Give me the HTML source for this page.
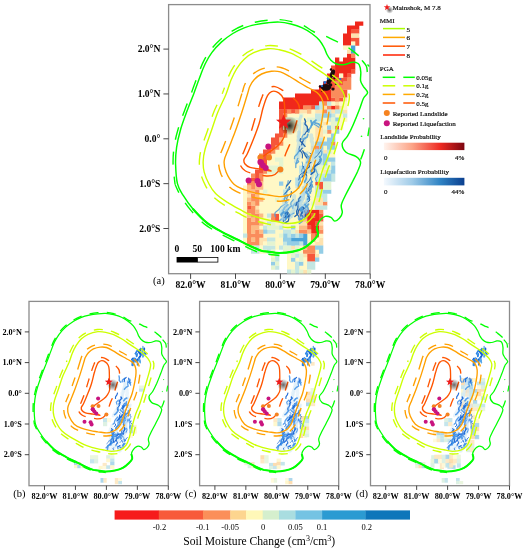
<!DOCTYPE html>
<html><head><meta charset="utf-8"><title>Figure</title>
<style>
html,body{margin:0;padding:0;background:#fff;}
svg{display:block;font-family:"Liberation Serif","DejaVu Serif",serif;}
</style></head><body>
<svg width="525" height="550" viewBox="0 0 525 550">
<rect width="525" height="550" fill="#fff"/>
<rect x="168.6" y="4.6" width="201.40" height="269.10" fill="none" stroke="#8c8c8c" stroke-width="1.3"/>
<line x1="163.40" y1="49.10" x2="168.6" y2="49.10" stroke="#333" stroke-width="0.9"/>
<text x="160.40" y="52.27" font-size="9.6" font-weight="bold" text-anchor="end">2.0°N</text>
<line x1="163.40" y1="93.95" x2="168.6" y2="93.95" stroke="#333" stroke-width="0.9"/>
<text x="160.40" y="97.12" font-size="9.6" font-weight="bold" text-anchor="end">1.0°N</text>
<line x1="163.40" y1="138.80" x2="168.6" y2="138.80" stroke="#333" stroke-width="0.9"/>
<text x="160.40" y="141.97" font-size="9.6" font-weight="bold" text-anchor="end">0.0°</text>
<line x1="163.40" y1="183.65" x2="168.6" y2="183.65" stroke="#333" stroke-width="0.9"/>
<text x="160.40" y="186.82" font-size="9.6" font-weight="bold" text-anchor="end">1.0°S</text>
<line x1="163.40" y1="228.50" x2="168.6" y2="228.50" stroke="#333" stroke-width="0.9"/>
<text x="160.40" y="231.67" font-size="9.6" font-weight="bold" text-anchor="end">2.0°S</text>
<line x1="190.60" y1="273.7" x2="190.60" y2="278.90" stroke="#333" stroke-width="0.9"/>
<text x="190.60" y="287.90" font-size="9.6" font-weight="bold" text-anchor="middle">82.0°W</text>
<line x1="235.50" y1="273.7" x2="235.50" y2="278.90" stroke="#333" stroke-width="0.9"/>
<text x="235.50" y="287.90" font-size="9.6" font-weight="bold" text-anchor="middle">81.0°W</text>
<line x1="280.40" y1="273.7" x2="280.40" y2="278.90" stroke="#333" stroke-width="0.9"/>
<text x="280.40" y="287.90" font-size="9.6" font-weight="bold" text-anchor="middle">80.0°W</text>
<line x1="325.30" y1="273.7" x2="325.30" y2="278.90" stroke="#333" stroke-width="0.9"/>
<text x="325.30" y="287.90" font-size="9.6" font-weight="bold" text-anchor="middle">79.0°W</text>
<line x1="370.20" y1="273.7" x2="370.20" y2="278.90" stroke="#333" stroke-width="0.9"/>
<text x="370.20" y="287.90" font-size="9.6" font-weight="bold" text-anchor="middle">78.0°W</text>
<rect x="29.0" y="301.4" width="139.30" height="184.30" fill="none" stroke="#8c8c8c" stroke-width="1.3"/>
<line x1="24.80" y1="331.90" x2="29.0" y2="331.90" stroke="#333" stroke-width="0.9"/>
<text x="21.80" y="334.61" font-size="8.2" font-weight="bold" text-anchor="end">2.0°N</text>
<line x1="24.80" y1="362.60" x2="29.0" y2="362.60" stroke="#333" stroke-width="0.9"/>
<text x="21.80" y="365.31" font-size="8.2" font-weight="bold" text-anchor="end">1.0°N</text>
<line x1="24.80" y1="393.30" x2="29.0" y2="393.30" stroke="#333" stroke-width="0.9"/>
<text x="21.80" y="396.01" font-size="8.2" font-weight="bold" text-anchor="end">0.0°</text>
<line x1="24.80" y1="424.00" x2="29.0" y2="424.00" stroke="#333" stroke-width="0.9"/>
<text x="21.80" y="426.71" font-size="8.2" font-weight="bold" text-anchor="end">1.0°S</text>
<line x1="24.80" y1="454.70" x2="29.0" y2="454.70" stroke="#333" stroke-width="0.9"/>
<text x="21.80" y="457.41" font-size="8.2" font-weight="bold" text-anchor="end">2.0°S</text>
<line x1="44.50" y1="485.7" x2="44.50" y2="489.90" stroke="#333" stroke-width="0.9"/>
<text x="44.50" y="498.70" font-size="8.2" font-weight="bold" text-anchor="middle">82.0°W</text>
<line x1="75.45" y1="485.7" x2="75.45" y2="489.90" stroke="#333" stroke-width="0.9"/>
<text x="75.45" y="498.70" font-size="8.2" font-weight="bold" text-anchor="middle">81.0°W</text>
<line x1="106.40" y1="485.7" x2="106.40" y2="489.90" stroke="#333" stroke-width="0.9"/>
<text x="106.40" y="498.70" font-size="8.2" font-weight="bold" text-anchor="middle">80.0°W</text>
<line x1="137.35" y1="485.7" x2="137.35" y2="489.90" stroke="#333" stroke-width="0.9"/>
<text x="137.35" y="498.70" font-size="8.2" font-weight="bold" text-anchor="middle">79.0°W</text>
<line x1="168.30" y1="485.7" x2="168.30" y2="489.90" stroke="#333" stroke-width="0.9"/>
<text x="168.30" y="498.70" font-size="8.2" font-weight="bold" text-anchor="middle">78.0°W</text>
<rect x="199.6" y="301.4" width="139.10" height="184.30" fill="none" stroke="#8c8c8c" stroke-width="1.3"/>
<line x1="195.40" y1="331.90" x2="199.6" y2="331.90" stroke="#333" stroke-width="0.9"/>
<text x="192.40" y="334.61" font-size="8.2" font-weight="bold" text-anchor="end">2.0°N</text>
<line x1="195.40" y1="362.60" x2="199.6" y2="362.60" stroke="#333" stroke-width="0.9"/>
<text x="192.40" y="365.31" font-size="8.2" font-weight="bold" text-anchor="end">1.0°N</text>
<line x1="195.40" y1="393.30" x2="199.6" y2="393.30" stroke="#333" stroke-width="0.9"/>
<text x="192.40" y="396.01" font-size="8.2" font-weight="bold" text-anchor="end">0.0°</text>
<line x1="195.40" y1="424.00" x2="199.6" y2="424.00" stroke="#333" stroke-width="0.9"/>
<text x="192.40" y="426.71" font-size="8.2" font-weight="bold" text-anchor="end">1.0°S</text>
<line x1="195.40" y1="454.70" x2="199.6" y2="454.70" stroke="#333" stroke-width="0.9"/>
<text x="192.40" y="457.41" font-size="8.2" font-weight="bold" text-anchor="end">2.0°S</text>
<line x1="214.90" y1="485.7" x2="214.90" y2="489.90" stroke="#333" stroke-width="0.9"/>
<text x="214.90" y="498.70" font-size="8.2" font-weight="bold" text-anchor="middle">82.0°W</text>
<line x1="245.85" y1="485.7" x2="245.85" y2="489.90" stroke="#333" stroke-width="0.9"/>
<text x="245.85" y="498.70" font-size="8.2" font-weight="bold" text-anchor="middle">81.0°W</text>
<line x1="276.80" y1="485.7" x2="276.80" y2="489.90" stroke="#333" stroke-width="0.9"/>
<text x="276.80" y="498.70" font-size="8.2" font-weight="bold" text-anchor="middle">80.0°W</text>
<line x1="307.75" y1="485.7" x2="307.75" y2="489.90" stroke="#333" stroke-width="0.9"/>
<text x="307.75" y="498.70" font-size="8.2" font-weight="bold" text-anchor="middle">79.0°W</text>
<line x1="338.70" y1="485.7" x2="338.70" y2="489.90" stroke="#333" stroke-width="0.9"/>
<text x="338.70" y="498.70" font-size="8.2" font-weight="bold" text-anchor="middle">78.0°W</text>
<rect x="370.5" y="301.4" width="139.00" height="184.30" fill="none" stroke="#8c8c8c" stroke-width="1.3"/>
<line x1="366.30" y1="331.90" x2="370.5" y2="331.90" stroke="#333" stroke-width="0.9"/>
<text x="363.30" y="334.61" font-size="8.2" font-weight="bold" text-anchor="end">2.0°N</text>
<line x1="366.30" y1="362.60" x2="370.5" y2="362.60" stroke="#333" stroke-width="0.9"/>
<text x="363.30" y="365.31" font-size="8.2" font-weight="bold" text-anchor="end">1.0°N</text>
<line x1="366.30" y1="393.30" x2="370.5" y2="393.30" stroke="#333" stroke-width="0.9"/>
<text x="363.30" y="396.01" font-size="8.2" font-weight="bold" text-anchor="end">0.0°</text>
<line x1="366.30" y1="424.00" x2="370.5" y2="424.00" stroke="#333" stroke-width="0.9"/>
<text x="363.30" y="426.71" font-size="8.2" font-weight="bold" text-anchor="end">1.0°S</text>
<line x1="366.30" y1="454.70" x2="370.5" y2="454.70" stroke="#333" stroke-width="0.9"/>
<text x="363.30" y="457.41" font-size="8.2" font-weight="bold" text-anchor="end">2.0°S</text>
<line x1="385.70" y1="485.7" x2="385.70" y2="489.90" stroke="#333" stroke-width="0.9"/>
<text x="385.70" y="498.70" font-size="8.2" font-weight="bold" text-anchor="middle">82.0°W</text>
<line x1="416.65" y1="485.7" x2="416.65" y2="489.90" stroke="#333" stroke-width="0.9"/>
<text x="416.65" y="498.70" font-size="8.2" font-weight="bold" text-anchor="middle">81.0°W</text>
<line x1="447.60" y1="485.7" x2="447.60" y2="489.90" stroke="#333" stroke-width="0.9"/>
<text x="447.60" y="498.70" font-size="8.2" font-weight="bold" text-anchor="middle">80.0°W</text>
<line x1="478.55" y1="485.7" x2="478.55" y2="489.90" stroke="#333" stroke-width="0.9"/>
<text x="478.55" y="498.70" font-size="8.2" font-weight="bold" text-anchor="middle">79.0°W</text>
<line x1="509.50" y1="485.7" x2="509.50" y2="489.90" stroke="#333" stroke-width="0.9"/>
<text x="509.50" y="498.70" font-size="8.2" font-weight="bold" text-anchor="middle">78.0°W</text>
<text x="153" y="284" font-size="10.5">(a)</text>
<text x="13.2" y="497.2" font-size="10.5">(b)</text>
<text x="184.9" y="497.2" font-size="10.5">(c)</text>
<text x="355.8" y="497.2" font-size="10.5">(d)</text>
<rect x="114.6" y="510.4" width="44.50" height="9.2" fill="#f61b1b"/>
<rect x="158.8" y="510.4" width="44.50" height="9.2" fill="#f85a3a"/>
<rect x="203.0" y="510.4" width="27.60" height="9.2" fill="#fb8f59"/>
<rect x="230.3" y="510.4" width="16.00" height="9.2" fill="#fdd58f"/>
<rect x="246.0" y="510.4" width="17.00" height="9.2" fill="#fff8b8"/>
<rect x="262.7" y="510.4" width="16.60" height="9.2" fill="#d5efcd"/>
<rect x="279.0" y="510.4" width="16.70" height="9.2" fill="#a9dde0"/>
<rect x="295.4" y="510.4" width="27.00" height="9.2" fill="#74c3e3"/>
<rect x="322.1" y="510.4" width="43.70" height="9.2" fill="#2b9bd2"/>
<rect x="365.5" y="510.4" width="44.50" height="9.2" fill="#0d76ba"/>
<text x="159.5" y="529.5" font-size="8.5" text-anchor="middle">-0.2</text>
<text x="202.7" y="529.5" font-size="8.5" text-anchor="middle">-0.1</text>
<text x="230.2" y="529.5" font-size="8.5" text-anchor="middle">-0.05</text>
<text x="263" y="529.5" font-size="8.5" text-anchor="middle">0</text>
<text x="295.4" y="529.5" font-size="8.5" text-anchor="middle">0.05</text>
<text x="322" y="529.5" font-size="8.5" text-anchor="middle">0.1</text>
<text x="366.7" y="529.5" font-size="8.5" text-anchor="middle">0.2</text>
<text x="183.2" y="545" font-size="11.6">Soil Moisture Change (cm<tspan dy="-4" font-size="8">3</tspan><tspan dy="4">/cm</tspan><tspan dy="-4" font-size="8">3</tspan><tspan dy="4">)</tspan></text>
<defs><radialGradient id="shd"><stop offset="0" stop-color="#000" stop-opacity="0.85"/><stop offset="1" stop-color="#000" stop-opacity="0"/></radialGradient><radialGradient id="shd2"><stop offset="0" stop-color="#000" stop-opacity="0.6"/><stop offset="1" stop-color="#000" stop-opacity="0"/></radialGradient><linearGradient id="lsg"><stop offset="0" stop-color="#fff4ee"/><stop offset="0.35" stop-color="#fca487"/><stop offset="0.7" stop-color="#ee2a22"/><stop offset="1" stop-color="#7c0610"/></linearGradient><linearGradient id="lqg"><stop offset="0" stop-color="#f4f9fe"/><stop offset="0.35" stop-color="#9fcbe8"/><stop offset="0.7" stop-color="#2f83c4"/><stop offset="1" stop-color="#0b3f8f"/></linearGradient></defs>
<circle cx="389.6" cy="9.9" r="3.8" fill="url(#shd2)"/>
<polygon points="387.00,4.00 387.84,6.24 390.23,6.35 388.36,7.84 389.00,10.15 387.00,8.83 385.00,10.15 385.64,7.84 383.77,6.35 386.16,6.24" fill="#ee1c1c"/>
<g stroke="#000" stroke-width="0.18" fill="#111">
<text x="392.5" y="9.7" font-size="7">Mainshok, M 7.8</text>
<text x="379.8" y="22.6" font-size="7">MMI</text>
<line x1="383" y1="28.6" x2="405" y2="28.6" stroke="#aaff00" stroke-width="1.5"/>
<text x="406.4" y="31.5" font-size="7">5</text>
<line x1="383" y1="37.4" x2="405" y2="37.4" stroke="#ffaa00" stroke-width="1.5"/>
<text x="406.4" y="40.3" font-size="7">6</text>
<line x1="383" y1="46.2" x2="405" y2="46.2" stroke="#ff5500" stroke-width="1.5"/>
<text x="406.4" y="49.1" font-size="7">7</text>
<line x1="383" y1="55.0" x2="405" y2="55.0" stroke="#ff2000" stroke-width="1.5"/>
<text x="406.4" y="57.9" font-size="7">8</text>
<text x="379.8" y="70.6" font-size="7">PGA</text>
<line x1="382.7" y1="77.3" x2="395.2" y2="77.3" stroke="#00ff00" stroke-width="1.5"/>
<line x1="403.3" y1="77.3" x2="414.8" y2="77.3" stroke="#00ff00" stroke-width="1.5"/>
<text x="416.3" y="79.9" font-size="7">0.05g</text>
<line x1="382.7" y1="85.8" x2="395.2" y2="85.8" stroke="#ccff00" stroke-width="1.5"/>
<line x1="403.3" y1="85.8" x2="414.8" y2="85.8" stroke="#ccff00" stroke-width="1.5"/>
<text x="416.3" y="88.4" font-size="7">0.1g</text>
<line x1="382.7" y1="94.4" x2="395.2" y2="94.4" stroke="#ffaa00" stroke-width="1.5"/>
<line x1="403.3" y1="94.4" x2="414.8" y2="94.4" stroke="#ffaa00" stroke-width="1.5"/>
<text x="416.3" y="97.0" font-size="7">0.2g</text>
<line x1="382.7" y1="103.0" x2="395.2" y2="103.0" stroke="#ff5500" stroke-width="1.5"/>
<line x1="403.3" y1="103.0" x2="414.8" y2="103.0" stroke="#ff5500" stroke-width="1.5"/>
<text x="416.3" y="105.5" font-size="7">0.5g</text>
<circle cx="386.8" cy="113" r="3" fill="#f5821f" stroke="none"/>
<text x="392.7" y="115.6" font-size="7">Reported Landslide</text>
<circle cx="386.8" cy="123.3" r="3" fill="#c9147f" stroke="none"/>
<text x="392.7" y="125.8" font-size="7">Reported Liquefaction</text>
<text x="380.3" y="138.6" font-size="7">Landslide Probability</text>
<rect x="383.9" y="142.7" width="80.5" height="7.4" fill="url(#lsg)" stroke="none"/>
<text x="384" y="159.6" font-size="7">0</text><text x="464.4" y="159.6" font-size="7" text-anchor="end">4%</text>
<text x="380.3" y="173.7" font-size="7">Liquefaction Probability</text>
<rect x="383.9" y="177.8" width="80.5" height="7.6" fill="url(#lqg)" stroke="none"/>
<text x="384" y="194.2" font-size="7">0</text><text x="464.4" y="194.2" font-size="7" text-anchor="end">44%</text>
</g>
<defs><clipPath id="cm"><rect x="169" y="4.6" width="200.6" height="268.8"/></clipPath>
<clipPath id="cs0"><rect x="29.4" y="301.8" width="138.5" height="183.5"/></clipPath>
<clipPath id="cs1"><rect x="200.0" y="301.8" width="138.3" height="183.5"/></clipPath>
<clipPath id="cs2"><rect x="370.9" y="301.8" width="138.2" height="183.5"/></clipPath>
</defs>
<g clip-path="url(#cm)">
<path fill="#f0281c" d="M355,21.5h8.3v4.3h-8.3zM347,25.5h12.3v4.3h-12.3zM347,29.5h4.3v4.3h-4.3zM343,33.5h8.3v4.3h-8.3zM343,37.5h8.3v4.3h-8.3zM343,41.5h8.3v4.3h-8.3zM347,53.5h4.3v4.3h-4.3zM335,57.5h4.3v4.3h-4.3zM343,57.5h12.3v4.3h-12.3zM335,61.5h20.3v4.3h-20.3zM335,65.5h20.3v4.3h-20.3zM335,69.5h16.3v4.3h-16.3zM327,73.5h4.3v4.3h-4.3zM335,73.5h4.3v4.3h-4.3zM343,73.5h4.3v4.3h-4.3zM331,77.5h4.3v4.3h-4.3zM323,81.5h4.3v4.3h-4.3zM319,85.5h8.3v4.3h-8.3zM311,89.5h20.3v4.3h-20.3zM295,93.5h36.3v4.3h-36.3zM283,97.5h48.3v4.3h-48.3zM279,101.5h40.3v4.3h-40.3zM279,105.5h24.3v4.3h-24.3zM331,105.5h4.3v4.3h-4.3zM307,209.5h12.3v4.3h-12.3zM307,213.5h4.3v4.3h-4.3zM315,213.5h4.3v4.3h-4.3zM307,217.5h12.3v4.3h-12.3zM307,221.5h8.3v4.3h-8.3zM311,225.5h8.3v4.3h-8.3zM311,229.5h8.3v4.3h-8.3z"/>
<path fill="#f6563a" d="M351,29.5h8.3v4.3h-8.3zM351,37.5h8.3v4.3h-8.3zM355,41.5h4.3v4.3h-4.3zM331,65.5h4.3v4.3h-4.3zM331,69.5h4.3v4.3h-4.3zM351,69.5h4.3v4.3h-4.3zM331,73.5h4.3v4.3h-4.3zM347,73.5h4.3v4.3h-4.3zM327,77.5h4.3v4.3h-4.3zM335,77.5h12.3v4.3h-12.3zM327,81.5h8.3v4.3h-8.3zM339,81.5h4.3v4.3h-4.3zM327,85.5h8.3v4.3h-8.3zM343,89.5h4.3v4.3h-4.3zM343,93.5h4.3v4.3h-4.3zM331,97.5h4.3v4.3h-4.3zM339,97.5h4.3v4.3h-4.3zM311,105.5h4.3v4.3h-4.3zM279,109.5h8.3v4.3h-8.3zM291,109.5h4.3v4.3h-4.3zM279,113.5h4.3v4.3h-4.3zM279,117.5h4.3v4.3h-4.3zM279,121.5h4.3v4.3h-4.3zM279,125.5h4.3v4.3h-4.3zM335,125.5h4.3v4.3h-4.3zM279,129.5h8.3v4.3h-8.3zM275,133.5h8.3v4.3h-8.3zM271,137.5h8.3v4.3h-8.3zM271,141.5h8.3v4.3h-8.3zM267,145.5h8.3v4.3h-8.3zM263,149.5h8.3v4.3h-8.3zM263,153.5h4.3v4.3h-4.3zM259,157.5h8.3v4.3h-8.3zM259,161.5h8.3v4.3h-8.3zM259,165.5h8.3v4.3h-8.3zM255,169.5h8.3v4.3h-8.3zM255,173.5h4.3v4.3h-4.3zM251,177.5h8.3v4.3h-8.3zM315,181.5h8.3v4.3h-8.3zM319,185.5h4.3v4.3h-4.3zM247,205.5h4.3v4.3h-4.3zM275,213.5h4.3v4.3h-4.3zM303,213.5h4.3v4.3h-4.3zM311,213.5h4.3v4.3h-4.3zM319,213.5h4.3v4.3h-4.3zM275,217.5h4.3v4.3h-4.3zM319,217.5h4.3v4.3h-4.3zM315,221.5h4.3v4.3h-4.3zM307,225.5h4.3v4.3h-4.3zM315,233.5h4.3v4.3h-4.3zM307,253.5h8.3v4.3h-8.3zM307,257.5h8.3v4.3h-8.3z"/>
<path fill="#fee2ae" d="M351,33.5h8.3v4.3h-8.3zM347,49.5h4.3v4.3h-4.3zM343,97.5h4.3v4.3h-4.3zM335,101.5h4.3v4.3h-4.3zM323,105.5h4.3v4.3h-4.3zM339,105.5h4.3v4.3h-4.3zM299,109.5h8.3v4.3h-8.3zM315,109.5h8.3v4.3h-8.3zM331,109.5h4.3v4.3h-4.3zM343,109.5h4.3v4.3h-4.3zM323,121.5h4.3v4.3h-4.3zM315,125.5h8.3v4.3h-8.3zM315,129.5h8.3v4.3h-8.3zM315,133.5h8.3v4.3h-8.3zM315,137.5h4.3v4.3h-4.3zM311,145.5h4.3v4.3h-4.3zM323,149.5h4.3v4.3h-4.3zM323,169.5h4.3v4.3h-4.3zM247,193.5h4.3v4.3h-4.3zM315,197.5h8.3v4.3h-8.3zM315,201.5h8.3v4.3h-8.3zM255,205.5h4.3v4.3h-4.3zM299,205.5h4.3v4.3h-4.3zM299,221.5h8.3v4.3h-8.3zM319,221.5h4.3v4.3h-4.3zM295,229.5h4.3v4.3h-4.3zM259,237.5h8.3v4.3h-8.3zM319,237.5h4.3v4.3h-4.3zM259,241.5h4.3v4.3h-4.3zM315,241.5h8.3v4.3h-8.3zM291,245.5h4.3v4.3h-4.3zM303,253.5h4.3v4.3h-4.3zM315,253.5h4.3v4.3h-4.3zM303,269.5h4.3v4.3h-4.3zM299,273.5h8.3v4.3h-8.3z"/>
<path fill="#fff8c6" d="M351,41.5h4.3v4.3h-4.3zM343,45.5h8.3v4.3h-8.3zM339,73.5h4.3v4.3h-4.3zM331,101.5h4.3v4.3h-4.3zM339,101.5h8.3v4.3h-8.3zM343,105.5h4.3v4.3h-4.3zM311,109.5h4.3v4.3h-4.3zM287,113.5h12.3v4.3h-12.3zM303,113.5h12.3v4.3h-12.3zM335,113.5h8.3v4.3h-8.3zM299,117.5h8.3v4.3h-8.3zM323,117.5h4.3v4.3h-4.3zM339,117.5h8.3v4.3h-8.3zM287,121.5h8.3v4.3h-8.3zM299,121.5h12.3v4.3h-12.3zM315,121.5h4.3v4.3h-4.3zM327,121.5h4.3v4.3h-4.3zM339,121.5h4.3v4.3h-4.3zM283,125.5h32.3v4.3h-32.3zM323,125.5h4.3v4.3h-4.3zM339,125.5h4.3v4.3h-4.3zM287,129.5h28.3v4.3h-28.3zM331,129.5h4.3v4.3h-4.3zM287,133.5h28.3v4.3h-28.3zM323,133.5h8.3v4.3h-8.3zM283,137.5h32.3v4.3h-32.3zM323,137.5h4.3v4.3h-4.3zM283,141.5h32.3v4.3h-32.3zM279,145.5h32.3v4.3h-32.3zM323,145.5h4.3v4.3h-4.3zM275,149.5h20.3v4.3h-20.3zM299,149.5h16.3v4.3h-16.3zM331,149.5h4.3v4.3h-4.3zM271,153.5h24.3v4.3h-24.3zM299,153.5h16.3v4.3h-16.3zM327,153.5h8.3v4.3h-8.3zM267,157.5h8.3v4.3h-8.3zM283,157.5h32.3v4.3h-32.3zM267,161.5h12.3v4.3h-12.3zM283,161.5h32.3v4.3h-32.3zM327,161.5h4.3v4.3h-4.3zM283,165.5h16.3v4.3h-16.3zM307,165.5h8.3v4.3h-8.3zM283,169.5h16.3v4.3h-16.3zM311,169.5h4.3v4.3h-4.3zM319,169.5h4.3v4.3h-4.3zM263,173.5h52.3v4.3h-52.3zM263,177.5h32.3v4.3h-32.3zM299,177.5h16.3v4.3h-16.3zM263,181.5h16.3v4.3h-16.3zM283,181.5h12.3v4.3h-12.3zM299,181.5h16.3v4.3h-16.3zM243,185.5h4.3v4.3h-4.3zM263,185.5h52.3v4.3h-52.3zM243,189.5h4.3v4.3h-4.3zM259,189.5h4.3v4.3h-4.3zM267,189.5h16.3v4.3h-16.3zM287,189.5h28.3v4.3h-28.3zM243,193.5h4.3v4.3h-4.3zM259,193.5h56.3v4.3h-56.3zM243,197.5h4.3v4.3h-4.3zM263,197.5h12.3v4.3h-12.3zM279,197.5h36.3v4.3h-36.3zM243,201.5h4.3v4.3h-4.3zM259,201.5h52.3v4.3h-52.3zM243,205.5h4.3v4.3h-4.3zM259,205.5h40.3v4.3h-40.3zM303,205.5h12.3v4.3h-12.3zM243,209.5h4.3v4.3h-4.3zM259,209.5h20.3v4.3h-20.3zM283,209.5h16.3v4.3h-16.3zM243,213.5h4.3v4.3h-4.3zM263,213.5h4.3v4.3h-4.3zM279,213.5h20.3v4.3h-20.3zM243,217.5h4.3v4.3h-4.3zM259,217.5h12.3v4.3h-12.3zM279,217.5h20.3v4.3h-20.3zM243,221.5h4.3v4.3h-4.3zM263,221.5h4.3v4.3h-4.3zM275,221.5h24.3v4.3h-24.3zM243,225.5h4.3v4.3h-4.3zM259,225.5h4.3v4.3h-4.3zM283,225.5h8.3v4.3h-8.3zM295,225.5h4.3v4.3h-4.3zM243,229.5h4.3v4.3h-4.3zM275,229.5h8.3v4.3h-8.3zM263,233.5h16.3v4.3h-16.3zM307,233.5h4.3v4.3h-4.3zM319,233.5h4.3v4.3h-4.3zM243,237.5h4.3v4.3h-4.3zM275,237.5h8.3v4.3h-8.3zM307,237.5h4.3v4.3h-4.3zM315,237.5h4.3v4.3h-4.3zM243,241.5h4.3v4.3h-4.3zM263,241.5h4.3v4.3h-4.3zM275,241.5h8.3v4.3h-8.3zM307,241.5h8.3v4.3h-8.3zM259,245.5h4.3v4.3h-4.3zM275,245.5h4.3v4.3h-4.3zM299,245.5h4.3v4.3h-4.3zM259,249.5h8.3v4.3h-8.3zM299,249.5h4.3v4.3h-4.3zM315,249.5h4.3v4.3h-4.3zM271,253.5h4.3v4.3h-4.3zM287,253.5h4.3v4.3h-4.3zM287,257.5h4.3v4.3h-4.3zM295,257.5h4.3v4.3h-4.3zM303,257.5h4.3v4.3h-4.3zM287,261.5h8.3v4.3h-8.3zM303,261.5h4.3v4.3h-4.3zM287,265.5h8.3v4.3h-8.3zM299,265.5h8.3v4.3h-8.3z"/>
<path fill="#4aa3d8" d="M351,45.5h4.3v4.3h-4.3zM351,49.5h4.3v4.3h-4.3zM303,233.5h4.3v4.3h-4.3zM291,237.5h16.3v4.3h-16.3zM303,241.5h4.3v4.3h-4.3z"/>
<path fill="#fa8c5c" d="M351,53.5h4.3v4.3h-4.3zM347,77.5h4.3v4.3h-4.3zM335,81.5h4.3v4.3h-4.3zM343,81.5h8.3v4.3h-8.3zM335,85.5h16.3v4.3h-16.3zM331,89.5h12.3v4.3h-12.3zM331,93.5h12.3v4.3h-12.3zM335,97.5h4.3v4.3h-4.3zM323,101.5h4.3v4.3h-4.3zM303,105.5h8.3v4.3h-8.3zM327,105.5h4.3v4.3h-4.3zM335,105.5h4.3v4.3h-4.3zM287,109.5h4.3v4.3h-4.3zM295,109.5h4.3v4.3h-4.3zM323,109.5h4.3v4.3h-4.3zM283,113.5h4.3v4.3h-4.3zM327,129.5h4.3v4.3h-4.3zM283,133.5h4.3v4.3h-4.3zM279,141.5h4.3v4.3h-4.3zM331,141.5h4.3v4.3h-4.3zM275,145.5h4.3v4.3h-4.3zM315,145.5h4.3v4.3h-4.3zM271,149.5h4.3v4.3h-4.3zM259,153.5h4.3v4.3h-4.3zM267,153.5h4.3v4.3h-4.3zM263,169.5h4.3v4.3h-4.3zM251,173.5h4.3v4.3h-4.3zM259,173.5h4.3v4.3h-4.3zM259,177.5h4.3v4.3h-4.3zM247,181.5h8.3v4.3h-8.3zM251,185.5h4.3v4.3h-4.3zM255,189.5h4.3v4.3h-4.3zM251,193.5h4.3v4.3h-4.3zM251,197.5h8.3v4.3h-8.3zM247,201.5h4.3v4.3h-4.3zM255,201.5h4.3v4.3h-4.3zM323,201.5h4.3v4.3h-4.3zM251,205.5h4.3v4.3h-4.3zM247,209.5h8.3v4.3h-8.3zM303,209.5h4.3v4.3h-4.3zM319,209.5h4.3v4.3h-4.3zM251,213.5h8.3v4.3h-8.3zM271,213.5h4.3v4.3h-4.3zM299,213.5h4.3v4.3h-4.3zM247,217.5h4.3v4.3h-4.3zM255,217.5h4.3v4.3h-4.3zM271,217.5h4.3v4.3h-4.3zM299,217.5h4.3v4.3h-4.3zM247,221.5h12.3v4.3h-12.3zM247,225.5h4.3v4.3h-4.3zM247,229.5h4.3v4.3h-4.3zM255,229.5h4.3v4.3h-4.3zM299,229.5h8.3v4.3h-8.3zM319,229.5h4.3v4.3h-4.3zM247,233.5h16.3v4.3h-16.3zM311,233.5h4.3v4.3h-4.3zM247,237.5h4.3v4.3h-4.3zM255,237.5h4.3v4.3h-4.3zM311,237.5h4.3v4.3h-4.3zM247,241.5h12.3v4.3h-12.3zM307,245.5h8.3v4.3h-8.3zM303,249.5h12.3v4.3h-12.3z"/>
<path fill="#c3e6e2" d="M319,101.5h4.3v4.3h-4.3zM327,101.5h4.3v4.3h-4.3zM319,105.5h4.3v4.3h-4.3zM327,109.5h4.3v4.3h-4.3zM335,109.5h8.3v4.3h-8.3zM315,113.5h8.3v4.3h-8.3zM331,113.5h4.3v4.3h-4.3zM343,113.5h4.3v4.3h-4.3zM315,117.5h8.3v4.3h-8.3zM327,117.5h4.3v4.3h-4.3zM319,137.5h4.3v4.3h-4.3zM319,149.5h4.3v4.3h-4.3zM327,149.5h4.3v4.3h-4.3zM315,153.5h8.3v4.3h-8.3zM315,157.5h8.3v4.3h-8.3zM315,161.5h8.3v4.3h-8.3zM331,161.5h4.3v4.3h-4.3zM299,165.5h8.3v4.3h-8.3zM299,169.5h12.3v4.3h-12.3zM327,169.5h4.3v4.3h-4.3zM315,173.5h12.3v4.3h-12.3zM331,173.5h4.3v4.3h-4.3zM295,177.5h4.3v4.3h-4.3zM315,177.5h8.3v4.3h-8.3zM331,177.5h4.3v4.3h-4.3zM295,181.5h4.3v4.3h-4.3zM315,185.5h4.3v4.3h-4.3zM283,189.5h4.3v4.3h-4.3zM315,189.5h8.3v4.3h-8.3zM315,193.5h12.3v4.3h-12.3zM323,197.5h4.3v4.3h-4.3zM315,205.5h12.3v4.3h-12.3zM279,209.5h4.3v4.3h-4.3zM267,213.5h4.3v4.3h-4.3zM267,221.5h4.3v4.3h-4.3zM263,225.5h4.3v4.3h-4.3zM279,225.5h4.3v4.3h-4.3zM267,229.5h8.3v4.3h-8.3zM283,229.5h8.3v4.3h-8.3zM243,233.5h4.3v4.3h-4.3zM287,233.5h4.3v4.3h-4.3zM295,233.5h4.3v4.3h-4.3zM267,237.5h8.3v4.3h-8.3zM283,241.5h4.3v4.3h-4.3zM299,241.5h4.3v4.3h-4.3zM255,245.5h4.3v4.3h-4.3zM263,245.5h12.3v4.3h-12.3zM279,245.5h4.3v4.3h-4.3zM251,249.5h8.3v4.3h-8.3zM267,249.5h4.3v4.3h-4.3zM275,253.5h4.3v4.3h-4.3zM295,253.5h4.3v4.3h-4.3zM275,257.5h4.3v4.3h-4.3zM295,261.5h4.3v4.3h-4.3zM307,261.5h8.3v4.3h-8.3zM275,265.5h4.3v4.3h-4.3zM295,265.5h4.3v4.3h-4.3zM307,265.5h8.3v4.3h-8.3zM287,269.5h4.3v4.3h-4.3zM295,269.5h4.3v4.3h-4.3zM287,273.5h12.3v4.3h-12.3z"/>
<path fill="#93cde6" d="M315,105.5h4.3v4.3h-4.3zM323,113.5h8.3v4.3h-8.3zM335,117.5h4.3v4.3h-4.3zM327,125.5h4.3v4.3h-4.3zM335,129.5h4.3v4.3h-4.3zM331,133.5h4.3v4.3h-4.3zM327,137.5h8.3v4.3h-8.3zM315,141.5h16.3v4.3h-16.3zM319,145.5h4.3v4.3h-4.3zM327,145.5h8.3v4.3h-8.3zM315,149.5h4.3v4.3h-4.3zM323,153.5h4.3v4.3h-4.3zM323,157.5h12.3v4.3h-12.3zM323,161.5h4.3v4.3h-4.3zM331,165.5h4.3v4.3h-4.3zM331,169.5h4.3v4.3h-4.3zM327,173.5h4.3v4.3h-4.3zM323,177.5h8.3v4.3h-8.3zM279,181.5h4.3v4.3h-4.3zM323,189.5h8.3v4.3h-8.3zM291,225.5h4.3v4.3h-4.3zM263,229.5h4.3v4.3h-4.3zM283,233.5h4.3v4.3h-4.3zM291,233.5h4.3v4.3h-4.3zM299,233.5h4.3v4.3h-4.3zM283,237.5h8.3v4.3h-8.3zM287,241.5h12.3v4.3h-12.3zM315,245.5h8.3v4.3h-8.3zM319,249.5h4.3v4.3h-4.3zM291,257.5h4.3v4.3h-4.3zM315,257.5h4.3v4.3h-4.3zM271,261.5h4.3v4.3h-4.3zM299,261.5h4.3v4.3h-4.3z"/>
<path fill="#fdbb84" d="M307,109.5h4.3v4.3h-4.3zM279,137.5h4.3v4.3h-4.3zM255,181.5h8.3v4.3h-8.3zM247,185.5h4.3v4.3h-4.3zM255,185.5h8.3v4.3h-8.3zM247,189.5h8.3v4.3h-8.3zM255,193.5h4.3v4.3h-4.3zM247,197.5h4.3v4.3h-4.3zM259,197.5h4.3v4.3h-4.3zM251,201.5h4.3v4.3h-4.3zM255,209.5h4.3v4.3h-4.3zM299,209.5h4.3v4.3h-4.3zM247,213.5h4.3v4.3h-4.3zM259,213.5h4.3v4.3h-4.3zM251,217.5h4.3v4.3h-4.3zM303,217.5h4.3v4.3h-4.3zM259,221.5h4.3v4.3h-4.3zM251,225.5h8.3v4.3h-8.3zM299,225.5h8.3v4.3h-8.3zM319,225.5h4.3v4.3h-4.3zM251,229.5h4.3v4.3h-4.3zM259,229.5h4.3v4.3h-4.3zM307,229.5h4.3v4.3h-4.3zM251,237.5h4.3v4.3h-4.3zM303,245.5h4.3v4.3h-4.3z"/>
<path fill="#e4f4d0" d="M299,113.5h4.3v4.3h-4.3zM283,117.5h16.3v4.3h-16.3zM307,117.5h8.3v4.3h-8.3zM331,117.5h4.3v4.3h-4.3zM283,121.5h4.3v4.3h-4.3zM295,121.5h4.3v4.3h-4.3zM311,121.5h4.3v4.3h-4.3zM319,121.5h4.3v4.3h-4.3zM331,121.5h8.3v4.3h-8.3zM331,125.5h4.3v4.3h-4.3zM323,129.5h4.3v4.3h-4.3zM295,149.5h4.3v4.3h-4.3zM295,153.5h4.3v4.3h-4.3zM275,157.5h8.3v4.3h-8.3zM279,161.5h4.3v4.3h-4.3zM267,165.5h16.3v4.3h-16.3zM315,165.5h16.3v4.3h-16.3zM267,169.5h16.3v4.3h-16.3zM315,169.5h4.3v4.3h-4.3zM323,181.5h8.3v4.3h-8.3zM323,185.5h8.3v4.3h-8.3zM263,189.5h4.3v4.3h-4.3zM275,197.5h4.3v4.3h-4.3zM311,201.5h4.3v4.3h-4.3zM271,221.5h4.3v4.3h-4.3zM267,225.5h12.3v4.3h-12.3zM291,229.5h4.3v4.3h-4.3zM279,233.5h4.3v4.3h-4.3zM267,241.5h8.3v4.3h-8.3zM247,245.5h8.3v4.3h-8.3zM283,245.5h8.3v4.3h-8.3zM295,245.5h4.3v4.3h-4.3zM271,249.5h4.3v4.3h-4.3zM283,249.5h16.3v4.3h-16.3zM291,253.5h4.3v4.3h-4.3zM299,253.5h4.3v4.3h-4.3zM271,257.5h4.3v4.3h-4.3zM299,257.5h4.3v4.3h-4.3zM275,261.5h4.3v4.3h-4.3zM271,265.5h4.3v4.3h-4.3zM291,269.5h4.3v4.3h-4.3zM299,269.5h4.3v4.3h-4.3zM307,269.5h4.3v4.3h-4.3zM307,273.5h4.3v4.3h-4.3z"/>
<path d="M304.4,123.4L305.0,126.1L304.4,129.4L304.3,131.6L304.3,133.8L303.6,136.1L304.3,138.1L304.6,140.5L303.8,142.7L303.9,144.4L303.0,147.2" fill="none" stroke="#a6d3ec" stroke-width="3.53" stroke-opacity="0.5" stroke-linejoin="round" stroke-linecap="round"/>
<path d="M311.3,135.2L311.3,137.5L312.1,138.5L311.5,140.8L312.5,143.1L312.7,145.0L312.7,147.2L312.5,149.5L312.7,152.0L313.1,154.1L313.6,156.1L313.5,156.9L313.7,159.6" fill="none" stroke="#a6d3ec" stroke-width="3.71" stroke-opacity="0.5" stroke-linejoin="round" stroke-linecap="round"/>
<path d="M307.4,152.7L306.7,155.6L307.4,156.5L307.6,158.8L306.6,160.5L306.8,163.1L305.7,164.7L304.7,166.7L304.4,168.7L305.1,170.1L305.7,171.8" fill="none" stroke="#a6d3ec" stroke-width="2.86" stroke-opacity="0.5" stroke-linejoin="round" stroke-linecap="round"/>
<path d="M301.1,116.1L300.0,119.3L299.5,121.7L300.0,123.2L299.7,125.7L299.7,128.1L299.5,130.4L299.9,132.5L299.4,135.1L298.5,136.6L299.0,139.0L298.7,140.4" fill="none" stroke="#a6d3ec" stroke-width="2.84" stroke-opacity="0.5" stroke-linejoin="round" stroke-linecap="round"/>
<path d="M298.6,132.3L298.6,134.6L298.3,136.8L298.7,138.0L298.0,140.8L298.8,142.3L298.6,144.8L298.3,146.6L297.9,148.6L298.1,150.6L297.8,153.2L297.0,155.0" fill="none" stroke="#a6d3ec" stroke-width="3.55" stroke-opacity="0.5" stroke-linejoin="round" stroke-linecap="round"/>
<path d="M300.4,145.8L300.3,147.6L299.5,150.1L299.6,152.4L299.7,154.3L298.5,156.8L298.2,158.4L296.8,159.9L295.9,161.8" fill="none" stroke="#a6d3ec" stroke-width="3.87" stroke-opacity="0.5" stroke-linejoin="round" stroke-linecap="round"/>
<path d="M297.9,158.4L297.3,159.4L296.6,162.0L295.9,163.3L295.8,165.2L295.8,167.6" fill="none" stroke="#4a9bd8" stroke-width="1.28" stroke-opacity="0.85" stroke-linejoin="round" stroke-linecap="round"/>
<path d="M314.9,122.8L318.5,123.9L321.3,126.7" fill="none" stroke="#4a9bd8" stroke-width="1.88" stroke-opacity="0.85" stroke-linejoin="round" stroke-linecap="round"/>
<path d="M299.0,150.9L297.4,153.8L294.7,156.4L294.5,158.7" fill="none" stroke="#4a9bd8" stroke-width="1.34" stroke-opacity="0.85" stroke-linejoin="round" stroke-linecap="round"/>
<path d="M302.1,161.9L302.7,164.1L302.4,166.5L302.8,167.7L301.7,170.2L301.7,172.0" fill="none" stroke="#4a9bd8" stroke-width="1.01" stroke-opacity="0.85" stroke-linejoin="round" stroke-linecap="round"/>
<path d="M307.8,134.4L307.1,137.0L303.2,139.4" fill="none" stroke="#4a9bd8" stroke-width="1.82" stroke-opacity="0.85" stroke-linejoin="round" stroke-linecap="round"/>
<path d="M298.0,160.6L298.7,161.7L296.5,163.6" fill="none" stroke="#4a9bd8" stroke-width="1.27" stroke-opacity="0.85" stroke-linejoin="round" stroke-linecap="round"/>
<path d="M315.9,120.2L313.1,122.5L311.7,125.1" fill="none" stroke="#4a9bd8" stroke-width="1.85" stroke-opacity="0.85" stroke-linejoin="round" stroke-linecap="round"/>
<path d="M303.8,134.3L302.1,136.7L301.7,139.8" fill="none" stroke="#4a9bd8" stroke-width="1.12" stroke-opacity="0.85" stroke-linejoin="round" stroke-linecap="round"/>
<path d="M308.4,156.9L308.4,158.8L308.3,160.7L306.5,162.7" fill="none" stroke="#4a9bd8" stroke-width="1.62" stroke-opacity="0.85" stroke-linejoin="round" stroke-linecap="round"/>
<path d="M304.5,152.4L307.3,155.0L307.2,156.4" fill="none" stroke="#4a9bd8" stroke-width="1.43" stroke-opacity="0.85" stroke-linejoin="round" stroke-linecap="round"/>
<path d="M310.9,120.6L311.3,122.1L311.9,124.3L310.7,127.5L309.4,129.0L308.5,132.2" fill="none" stroke="#4a9bd8" stroke-width="1.89" stroke-opacity="0.85" stroke-linejoin="round" stroke-linecap="round"/>
<path d="M313.8,124.0L316.8,125.8L318.9,127.3" fill="none" stroke="#4a9bd8" stroke-width="1.12" stroke-opacity="0.85" stroke-linejoin="round" stroke-linecap="round"/>
<path d="M309.1,155.7L308.3,158.5L309.5,160.4L308.1,162.6" fill="none" stroke="#4a9bd8" stroke-width="1.11" stroke-opacity="0.85" stroke-linejoin="round" stroke-linecap="round"/>
<path d="M302.3,148.2L300.3,150.7L302.0,153.0L302.5,155.1L302.3,157.9" fill="none" stroke="#1c5fae" stroke-width="1.09" stroke-opacity="0.95" stroke-linejoin="round" stroke-linecap="round"/>
<path d="M302.7,150.9L304.8,154.4L305.6,156.2L307.1,158.1" fill="none" stroke="#1c5fae" stroke-width="1.31" stroke-opacity="0.95" stroke-linejoin="round" stroke-linecap="round"/>
<path d="M308.7,129.4L306.3,131.8L304.6,134.6" fill="none" stroke="#1c5fae" stroke-width="1.05" stroke-opacity="0.95" stroke-linejoin="round" stroke-linecap="round"/>
<path d="M299.8,146.2L298.9,149.1L299.8,151.5" fill="none" stroke="#1c5fae" stroke-width="0.82" stroke-opacity="0.95" stroke-linejoin="round" stroke-linecap="round"/>
<path d="M303.5,166.6L303.7,168.6L305.5,170.0L306.6,172.6" fill="none" stroke="#1c5fae" stroke-width="1.17" stroke-opacity="0.95" stroke-linejoin="round" stroke-linecap="round"/>
<path d="M303.1,140.7L302.3,142.4L301.7,144.9" fill="none" stroke="#1c5fae" stroke-width="1.37" stroke-opacity="0.95" stroke-linejoin="round" stroke-linecap="round"/>
<path d="M309.9,153.0L311.4,154.7L309.8,157.4L309.3,158.6L310.0,160.9L308.3,162.3" fill="none" stroke="#1c5fae" stroke-width="1.00" stroke-opacity="0.95" stroke-linejoin="round" stroke-linecap="round"/>
<path d="M300.5,138.6L300.1,140.7L302.2,143.0L305.1,146.4" fill="none" stroke="#1c5fae" stroke-width="1.27" stroke-opacity="0.95" stroke-linejoin="round" stroke-linecap="round"/>
<path d="M304.6,119.0L305.6,121.6L304.9,124.1L307.2,126.5L307.4,128.4L307.4,131.2" fill="none" stroke="#1c5fae" stroke-width="1.42" stroke-opacity="0.95" stroke-linejoin="round" stroke-linecap="round"/>
<path d="M303.2,187.3L303.3,189.9L302.0,192.3L300.8,193.6L300.7,195.9L300.3,198.0L299.7,199.6L298.4,201.2L298.2,203.8L297.5,205.7L296.6,207.0L295.7,209.6L294.3,211.0L293.3,213.1L292.6,214.5L291.9,216.6" fill="none" stroke="#a6d3ec" stroke-width="2.81" stroke-opacity="0.5" stroke-linejoin="round" stroke-linecap="round"/>
<path d="M305.9,190.1L305.6,192.9L304.2,194.3L303.3,197.1L303.0,199.2L302.3,200.4L301.0,202.4L300.0,204.8L298.5,206.3L298.0,208.0L297.5,210.9L297.1,212.2" fill="none" stroke="#a6d3ec" stroke-width="2.69" stroke-opacity="0.5" stroke-linejoin="round" stroke-linecap="round"/>
<path d="M306.5,179.4L306.0,181.1L306.0,182.4L305.9,185.2L305.3,187.1L304.6,188.7L304.1,190.5L303.6,193.2L302.9,195.2L303.2,197.6L301.9,199.4L301.5,200.5L300.5,202.5L299.1,204.8L299.3,206.3" fill="none" stroke="#a6d3ec" stroke-width="4.16" stroke-opacity="0.5" stroke-linejoin="round" stroke-linecap="round"/>
<path d="M294.3,196.0L294.0,197.5L293.8,200.1L293.5,201.4L293.0,203.2L291.3,204.5L289.7,206.5L288.4,208.6L288.1,210.5L287.3,212.4L286.2,214.0L286.0,215.7L284.8,218.1L284.5,219.2L283.6,221.2L283.1,222.7" fill="none" stroke="#a6d3ec" stroke-width="3.96" stroke-opacity="0.5" stroke-linejoin="round" stroke-linecap="round"/>
<path d="M317.0,149.8L315.9,152.0L314.9,153.5L313.9,155.7L313.5,157.5L312.4,159.9L311.9,162.2L310.9,163.8L310.5,165.3L311.0,167.5L309.9,169.8" fill="none" stroke="#a6d3ec" stroke-width="2.74" stroke-opacity="0.5" stroke-linejoin="round" stroke-linecap="round"/>
<path d="M308.5,158.4L308.0,160.7L307.8,162.6L306.2,164.6L305.7,167.1L304.4,168.5L303.7,171.6L302.8,172.6L300.9,174.7L299.4,176.7L297.7,179.6L297.6,181.1L297.5,183.5L296.9,186.1L296.6,187.1" fill="none" stroke="#a6d3ec" stroke-width="2.71" stroke-opacity="0.5" stroke-linejoin="round" stroke-linecap="round"/>
<path d="M316.3,165.5L315.3,167.8L314.8,170.6L313.4,172.4L313.1,174.6L312.4,176.7L311.3,178.2L310.0,180.7L309.2,182.1L307.9,184.7L307.4,186.7L306.5,188.5L305.2,190.8L303.8,192.6L303.7,194.9" fill="none" stroke="#a6d3ec" stroke-width="2.65" stroke-opacity="0.5" stroke-linejoin="round" stroke-linecap="round"/>
<path d="M319.4,156.5L321.3,159.2L320.9,161.1L319.7,163.4" fill="none" stroke="#4a9bd8" stroke-width="1.64" stroke-opacity="0.85" stroke-linejoin="round" stroke-linecap="round"/>
<path d="M294.1,213.0L289.1,215.5L286.7,218.6" fill="none" stroke="#4a9bd8" stroke-width="1.11" stroke-opacity="0.85" stroke-linejoin="round" stroke-linecap="round"/>
<path d="M321.8,151.1L321.8,153.4L321.5,155.0L319.8,157.2" fill="none" stroke="#4a9bd8" stroke-width="1.22" stroke-opacity="0.85" stroke-linejoin="round" stroke-linecap="round"/>
<path d="M287.7,204.8L284.7,207.5L283.1,210.6" fill="none" stroke="#4a9bd8" stroke-width="1.97" stroke-opacity="0.85" stroke-linejoin="round" stroke-linecap="round"/>
<path d="M307.4,192.9L308.2,195.5L308.7,197.1L308.0,199.5L308.0,201.0L306.3,203.4L303.8,205.4" fill="none" stroke="#4a9bd8" stroke-width="1.35" stroke-opacity="0.85" stroke-linejoin="round" stroke-linecap="round"/>
<path d="M300.5,200.2L298.4,201.6L295.4,203.4L292.9,206.3L292.7,208.3" fill="none" stroke="#4a9bd8" stroke-width="1.61" stroke-opacity="0.85" stroke-linejoin="round" stroke-linecap="round"/>
<path d="M301.7,215.8L302.1,217.2L301.6,219.0L301.8,221.6L299.3,223.5" fill="none" stroke="#4a9bd8" stroke-width="1.54" stroke-opacity="0.85" stroke-linejoin="round" stroke-linecap="round"/>
<path d="M314.5,161.9L314.6,164.9L313.5,167.8" fill="none" stroke="#4a9bd8" stroke-width="1.29" stroke-opacity="0.85" stroke-linejoin="round" stroke-linecap="round"/>
<path d="M293.4,199.6L291.0,202.3L290.8,204.4L291.5,206.2L289.7,207.2L287.7,209.5L286.7,211.5" fill="none" stroke="#4a9bd8" stroke-width="1.10" stroke-opacity="0.85" stroke-linejoin="round" stroke-linecap="round"/>
<path d="M303.1,174.0L301.9,176.9L300.0,178.3L300.3,181.1L299.2,182.7L298.4,185.8L298.6,188.3" fill="none" stroke="#4a9bd8" stroke-width="1.46" stroke-opacity="0.85" stroke-linejoin="round" stroke-linecap="round"/>
<path d="M287.2,202.6L284.1,204.8L281.3,206.4L279.3,209.0L278.0,210.3L275.2,212.4L274.8,214.6L275.4,216.8" fill="none" stroke="#4a9bd8" stroke-width="1.19" stroke-opacity="0.85" stroke-linejoin="round" stroke-linecap="round"/>
<path d="M314.7,166.8L313.2,168.3L310.8,170.8L312.0,173.1" fill="none" stroke="#4a9bd8" stroke-width="1.79" stroke-opacity="0.85" stroke-linejoin="round" stroke-linecap="round"/>
<path d="M312.2,181.6L310.4,183.5L310.8,186.7L310.6,188.3L309.5,190.7L310.3,193.0" fill="none" stroke="#4a9bd8" stroke-width="1.81" stroke-opacity="0.85" stroke-linejoin="round" stroke-linecap="round"/>
<path d="M289.7,214.0L290.0,215.6L286.7,217.4L285.7,219.2" fill="none" stroke="#4a9bd8" stroke-width="1.52" stroke-opacity="0.85" stroke-linejoin="round" stroke-linecap="round"/>
<path d="M315.5,168.9L316.7,171.4L316.8,172.5L317.9,174.5L316.7,177.2L315.4,178.6L316.6,181.4" fill="none" stroke="#4a9bd8" stroke-width="1.10" stroke-opacity="0.85" stroke-linejoin="round" stroke-linecap="round"/>
<path d="M305.0,170.9L302.4,173.1L299.4,175.5L299.3,178.0L298.6,180.0" fill="none" stroke="#1c5fae" stroke-width="0.91" stroke-opacity="0.95" stroke-linejoin="round" stroke-linecap="round"/>
<path d="M321.1,150.1L319.9,152.1L317.4,155.5L314.7,157.8" fill="none" stroke="#1c5fae" stroke-width="0.86" stroke-opacity="0.95" stroke-linejoin="round" stroke-linecap="round"/>
<path d="M311.0,162.3L308.8,163.8L309.4,166.7L306.7,169.0L306.1,170.4L303.7,172.5L305.1,174.5L302.6,176.5" fill="none" stroke="#1c5fae" stroke-width="1.32" stroke-opacity="0.95" stroke-linejoin="round" stroke-linecap="round"/>
<path d="M319.9,159.2L319.8,160.8L316.9,164.3L314.8,166.5" fill="none" stroke="#1c5fae" stroke-width="0.86" stroke-opacity="0.95" stroke-linejoin="round" stroke-linecap="round"/>
<path d="M304.6,171.1L305.5,173.1L306.5,175.5" fill="none" stroke="#1c5fae" stroke-width="1.40" stroke-opacity="0.95" stroke-linejoin="round" stroke-linecap="round"/>
<path d="M318.9,163.9L316.0,165.3L313.6,167.2L314.4,169.7L314.6,171.4L311.0,174.4" fill="none" stroke="#1c5fae" stroke-width="1.48" stroke-opacity="0.95" stroke-linejoin="round" stroke-linecap="round"/>
<path d="M298.2,203.4L297.8,204.8L298.0,207.0L297.7,209.0L296.6,211.0L296.7,213.7L298.2,215.5L298.9,216.8" fill="none" stroke="#1c5fae" stroke-width="1.22" stroke-opacity="0.95" stroke-linejoin="round" stroke-linecap="round"/>
<path d="M284.2,214.8L283.3,217.3L283.2,218.8L283.4,221.3" fill="none" stroke="#1c5fae" stroke-width="1.20" stroke-opacity="0.95" stroke-linejoin="round" stroke-linecap="round"/>
<path d="M290.0,215.7L289.3,216.7L288.7,219.0L288.4,220.9L284.7,223.1" fill="none" stroke="#1c5fae" stroke-width="1.29" stroke-opacity="0.95" stroke-linejoin="round" stroke-linecap="round"/>
<path d="M299.9,208.9L298.4,210.7L298.0,213.3L297.2,214.4L294.8,216.6" fill="none" stroke="#1c5fae" stroke-width="1.37" stroke-opacity="0.95" stroke-linejoin="round" stroke-linecap="round"/>
<path d="M291.3,191.5L291.3,194.2L290.4,197.2" fill="none" stroke="#1c5fae" stroke-width="1.06" stroke-opacity="0.95" stroke-linejoin="round" stroke-linecap="round"/>
<path d="M308.1,199.0L307.3,201.6L306.2,202.7L306.0,205.2L304.6,206.5L303.7,208.5L303.6,210.7L302.5,212.9L301.9,214.9L301.4,217.2L300.6,218.5" fill="none" stroke="#a6d3ec" stroke-width="3.66" stroke-opacity="0.5" stroke-linejoin="round" stroke-linecap="round"/>
<path d="M304.3,203.4L303.0,205.8L302.6,208.1L302.9,209.4L302.4,211.5L302.7,213.0L302.1,214.7L301.9,216.5L302.2,219.0" fill="none" stroke="#a6d3ec" stroke-width="3.25" stroke-opacity="0.5" stroke-linejoin="round" stroke-linecap="round"/>
<path d="M307.3,189.4L308.3,192.3L308.4,194.2L307.8,197.3L307.0,199.0L307.0,200.9" fill="none" stroke="#a6d3ec" stroke-width="3.30" stroke-opacity="0.5" stroke-linejoin="round" stroke-linecap="round"/>
<path d="M308.6,204.1L307.2,206.1L308.0,208.4L308.3,211.5L305.9,213.7" fill="none" stroke="#4a9bd8" stroke-width="1.74" stroke-opacity="0.85" stroke-linejoin="round" stroke-linecap="round"/>
<path d="M306.0,187.7L307.1,189.2L306.4,192.0" fill="none" stroke="#4a9bd8" stroke-width="1.04" stroke-opacity="0.85" stroke-linejoin="round" stroke-linecap="round"/>
<path d="M306.5,176.3L306.0,179.3L304.6,182.0" fill="none" stroke="#4a9bd8" stroke-width="1.69" stroke-opacity="0.85" stroke-linejoin="round" stroke-linecap="round"/>
<path d="M310.9,178.5L311.6,181.4L311.6,183.5L312.9,187.2" fill="none" stroke="#4a9bd8" stroke-width="1.18" stroke-opacity="0.85" stroke-linejoin="round" stroke-linecap="round"/>
<path d="M305.9,192.2L308.0,194.2L309.5,196.7L307.7,199.2" fill="none" stroke="#4a9bd8" stroke-width="1.90" stroke-opacity="0.85" stroke-linejoin="round" stroke-linecap="round"/>
<path d="M311.9,184.4L311.7,187.1L311.2,188.8L311.3,191.4L309.9,192.8" fill="none" stroke="#4a9bd8" stroke-width="1.11" stroke-opacity="0.85" stroke-linejoin="round" stroke-linecap="round"/>
<path d="M305.0,204.5L306.3,206.4L305.4,207.7L306.1,210.8" fill="none" stroke="#4a9bd8" stroke-width="1.89" stroke-opacity="0.85" stroke-linejoin="round" stroke-linecap="round"/>
<path d="M310.6,184.9L309.1,187.3L308.8,189.7L307.9,191.5" fill="none" stroke="#1c5fae" stroke-width="1.00" stroke-opacity="0.95" stroke-linejoin="round" stroke-linecap="round"/>
<path d="M310.9,177.2L309.6,180.1L306.6,183.6" fill="none" stroke="#1c5fae" stroke-width="0.89" stroke-opacity="0.95" stroke-linejoin="round" stroke-linecap="round"/>
<path d="M304.3,210.7L305.1,212.5L305.8,214.9L304.0,216.7L304.6,218.6" fill="none" stroke="#1c5fae" stroke-width="1.12" stroke-opacity="0.95" stroke-linejoin="round" stroke-linecap="round"/>
<path d="M307.3,196.0L309.1,197.2L309.8,200.0L308.5,201.7" fill="none" stroke="#1c5fae" stroke-width="0.98" stroke-opacity="0.95" stroke-linejoin="round" stroke-linecap="round"/>
<path d="M305.9,213.1L305.3,215.9L306.4,217.9" fill="none" stroke="#1c5fae" stroke-width="0.93" stroke-opacity="0.95" stroke-linejoin="round" stroke-linecap="round"/>
<path d="M293.9,209.3L292.1,210.8L291.4,212.6L290.9,214.6L290.6,216.8L289.9,217.9" fill="none" stroke="#a6d3ec" stroke-width="2.94" stroke-opacity="0.5" stroke-linejoin="round" stroke-linecap="round"/>
<path d="M300.8,197.4L299.7,198.9L298.5,200.5L296.9,203.2L295.4,204.7L293.1,207.3" fill="none" stroke="#a6d3ec" stroke-width="4.07" stroke-opacity="0.5" stroke-linejoin="round" stroke-linecap="round"/>
<path d="M285.0,213.0L285.0,215.3L283.7,217.5L282.0,219.1" fill="none" stroke="#a6d3ec" stroke-width="2.64" stroke-opacity="0.5" stroke-linejoin="round" stroke-linecap="round"/>
<path d="M286.0,212.9L285.8,214.3L285.4,215.5" fill="none" stroke="#4a9bd8" stroke-width="1.52" stroke-opacity="0.85" stroke-linejoin="round" stroke-linecap="round"/>
<path d="M286.1,212.3L285.7,213.5L285.1,215.5" fill="none" stroke="#4a9bd8" stroke-width="1.45" stroke-opacity="0.85" stroke-linejoin="round" stroke-linecap="round"/>
<path d="M288.5,209.4L286.5,211.4L285.1,213.6" fill="none" stroke="#4a9bd8" stroke-width="1.02" stroke-opacity="0.85" stroke-linejoin="round" stroke-linecap="round"/>
<path d="M288.0,212.9L286.5,214.1L286.5,216.8" fill="none" stroke="#4a9bd8" stroke-width="1.43" stroke-opacity="0.85" stroke-linejoin="round" stroke-linecap="round"/>
<path d="M285.8,212.2L282.6,213.2L281.0,214.4" fill="none" stroke="#4a9bd8" stroke-width="2.00" stroke-opacity="0.85" stroke-linejoin="round" stroke-linecap="round"/>
<path d="M281.6,219.1L280.8,219.6L278.9,221.5" fill="none" stroke="#4a9bd8" stroke-width="1.47" stroke-opacity="0.85" stroke-linejoin="round" stroke-linecap="round"/>
<path d="M288.9,208.5L286.8,209.9L285.5,210.2" fill="none" stroke="#4a9bd8" stroke-width="1.13" stroke-opacity="0.85" stroke-linejoin="round" stroke-linecap="round"/>
<path d="M289.0,214.6L288.6,216.7L286.1,217.3" fill="none" stroke="#1c5fae" stroke-width="1.21" stroke-opacity="0.95" stroke-linejoin="round" stroke-linecap="round"/>
<path d="M288.1,212.8L287.7,213.9L286.0,216.4L284.2,217.7" fill="none" stroke="#1c5fae" stroke-width="1.37" stroke-opacity="0.95" stroke-linejoin="round" stroke-linecap="round"/>
<path d="M297.1,202.1L296.7,203.4L295.9,205.5" fill="none" stroke="#1c5fae" stroke-width="1.39" stroke-opacity="0.95" stroke-linejoin="round" stroke-linecap="round"/>
<path d="M287.3,211.0L287.4,212.5L285.0,213.5" fill="none" stroke="#1c5fae" stroke-width="0.88" stroke-opacity="0.95" stroke-linejoin="round" stroke-linecap="round"/>
<path d="M300.7,196.7L298.8,198.9L298.7,201.7" fill="none" stroke="#1c5fae" stroke-width="1.09" stroke-opacity="0.95" stroke-linejoin="round" stroke-linecap="round"/>
<path d="M287.4,200.3L286.5,202.6L286.3,205.3L286.6,206.9L286.8,210.0" fill="none" stroke="#a6d3ec" stroke-width="3.31" stroke-opacity="0.5" stroke-linejoin="round" stroke-linecap="round"/>
<path d="M283.3,200.1L284.0,201.7L284.5,204.4L284.1,205.5L283.3,208.3L283.1,209.6L282.8,212.3L282.3,213.2L283.0,215.5L282.6,218.3L282.1,219.2" fill="none" stroke="#a6d3ec" stroke-width="3.82" stroke-opacity="0.5" stroke-linejoin="round" stroke-linecap="round"/>
<path d="M283.8,211.8L282.0,213.5L281.4,215.8" fill="none" stroke="#4a9bd8" stroke-width="1.94" stroke-opacity="0.85" stroke-linejoin="round" stroke-linecap="round"/>
<path d="M286.9,194.7L285.3,196.7L284.4,199.2" fill="none" stroke="#4a9bd8" stroke-width="1.84" stroke-opacity="0.85" stroke-linejoin="round" stroke-linecap="round"/>
<path d="M286.4,214.3L286.9,217.2L284.9,220.5" fill="none" stroke="#4a9bd8" stroke-width="1.56" stroke-opacity="0.85" stroke-linejoin="round" stroke-linecap="round"/>
<path d="M289.4,187.1L287.5,189.9L286.6,192.0L284.0,194.9" fill="none" stroke="#4a9bd8" stroke-width="1.66" stroke-opacity="0.85" stroke-linejoin="round" stroke-linecap="round"/>
<path d="M288.2,180.7L287.8,183.2L286.5,185.5L285.9,188.5" fill="none" stroke="#4a9bd8" stroke-width="1.17" stroke-opacity="0.85" stroke-linejoin="round" stroke-linecap="round"/>
<path d="M288.4,195.7L286.7,198.0L287.1,200.0L285.5,202.2" fill="none" stroke="#1c5fae" stroke-width="0.90" stroke-opacity="0.95" stroke-linejoin="round" stroke-linecap="round"/>
<path d="M290.7,180.6L288.7,183.6L286.5,186.1" fill="none" stroke="#1c5fae" stroke-width="1.20" stroke-opacity="0.95" stroke-linejoin="round" stroke-linecap="round"/>
<path d="M289.3,186.7L290.1,189.1L287.4,190.7L285.2,193.4" fill="none" stroke="#1c5fae" stroke-width="0.86" stroke-opacity="0.95" stroke-linejoin="round" stroke-linecap="round"/>
<path d="M305.5,209.6L304.0,212.6L302.7,214.1L302.9,216.4L302.7,218.2" fill="none" stroke="#a6d3ec" stroke-width="4.20" stroke-opacity="0.5" stroke-linejoin="round" stroke-linecap="round"/>
<path d="M302.1,205.8L302.1,208.2L302.1,210.8L300.7,212.6L300.4,215.8" fill="none" stroke="#a6d3ec" stroke-width="3.37" stroke-opacity="0.5" stroke-linejoin="round" stroke-linecap="round"/>
<path d="M302.3,206.9L300.3,208.7L300.9,210.5" fill="none" stroke="#4a9bd8" stroke-width="1.85" stroke-opacity="0.85" stroke-linejoin="round" stroke-linecap="round"/>
<path d="M301.6,208.1L301.9,209.0L300.8,210.6" fill="none" stroke="#4a9bd8" stroke-width="1.90" stroke-opacity="0.85" stroke-linejoin="round" stroke-linecap="round"/>
<path d="M298.6,217.9L300.3,218.9L299.0,219.5" fill="none" stroke="#4a9bd8" stroke-width="1.93" stroke-opacity="0.85" stroke-linejoin="round" stroke-linecap="round"/>
<path d="M302.5,209.8L302.6,211.5L302.1,213.1" fill="none" stroke="#4a9bd8" stroke-width="1.95" stroke-opacity="0.85" stroke-linejoin="round" stroke-linecap="round"/>
<path d="M302.2,212.1L301.0,214.5L300.9,216.0" fill="none" stroke="#1c5fae" stroke-width="1.43" stroke-opacity="0.95" stroke-linejoin="round" stroke-linecap="round"/>
<path d="M303.1,207.3L304.2,208.5L303.3,209.1" fill="none" stroke="#1c5fae" stroke-width="1.26" stroke-opacity="0.95" stroke-linejoin="round" stroke-linecap="round"/>
<path d="M302.3,215.3L302.9,217.4L301.3,219.5" fill="none" stroke="#1c5fae" stroke-width="0.80" stroke-opacity="0.95" stroke-linejoin="round" stroke-linecap="round"/>
<defs><filter id="bl" x="-30%" y="-30%" width="160%" height="160%"><feGaussianBlur stdDeviation="0.7"/></filter></defs>
<g filter="url(#bl)" fill="#1c0a10"><ellipse cx="332.5" cy="73.5" rx="2.2" ry="4.2" transform="rotate(20 332.5 73.5)"/><ellipse cx="329.3" cy="80.5" rx="2.4" ry="4" transform="rotate(25 329.3 80.5)"/><ellipse cx="326" cy="87.3" rx="5.2" ry="3.4"/><circle cx="333" cy="89" r="1.6"/><circle cx="336" cy="84" r="1.1"/><circle cx="322.5" cy="90.5" r="1.5"/><circle cx="330.5" cy="85" r="1.8"/><circle cx="334.5" cy="78" r="1.2"/><circle cx="331" cy="69.5" r="1.2"/><circle cx="320" cy="86.5" r="1.2"/></g>
<g fill="#1e78e0"><circle cx="328" cy="78.5" r="1.3"/><circle cx="324.8" cy="82.5" r="1.4"/><circle cx="340.3" cy="79" r="1.1"/><circle cx="322" cy="86" r="1"/></g>
<path d="M193.7,93.9C195.8,88.4 197.5,83.3 199.4,78.3C201.3,73.3 203.0,68.3 205.1,64.0C207.2,59.7 209.1,56.2 211.8,52.6C214.5,49.0 217.8,45.3 221.3,42.1C224.8,38.9 229.0,35.9 232.8,33.5C236.6,31.1 240.4,29.3 244.2,27.8C248.0,26.3 251.6,25.5 255.6,24.6C259.6,23.8 264.0,23.1 268.0,22.7C272.0,22.3 275.6,21.9 279.4,22.1C283.2,22.3 287.1,23.1 290.9,24.0C294.7,24.9 298.8,26.2 302.3,27.8C305.8,29.4 309.0,31.4 311.8,33.5C314.6,35.6 317.3,37.8 319.4,40.2C321.5,42.6 322.9,45.4 324.2,47.8C325.5,50.2 325.9,52.4 327.0,54.5C328.1,56.6 329.3,58.6 330.9,60.2C332.5,61.8 334.4,63.3 336.6,64.0C338.8,64.7 341.7,64.9 344.2,64.6C346.7,64.3 349.8,62.6 351.8,62.3C353.8,61.9 354.8,62.1 356.0,62.5C357.2,62.9 358.4,63.2 359.2,64.8C360.0,66.4 360.6,69.3 360.8,72.0C361.0,74.7 360.2,78.4 360.6,80.8C361.1,83.2 362.3,84.6 363.5,86.6C364.7,88.5 367.6,90.5 367.6,92.5C367.6,94.5 364.9,95.4 363.5,98.3C362.1,101.2 360.9,105.6 359.2,110.0C357.5,114.4 355.2,120.1 353.3,124.5C351.4,128.9 349.4,133.0 347.5,136.2C345.6,139.4 342.4,140.8 342.2,143.5C341.9,146.2 343.7,150.0 346.0,152.2C348.3,154.4 353.8,154.9 356.2,156.6C358.6,158.3 360.4,160.0 360.6,162.4C360.9,164.8 359.1,167.8 357.7,171.2C356.2,174.6 353.8,179.1 351.9,182.9C350.0,186.7 347.9,190.3 346.1,194.0C344.3,197.7 341.9,201.9 341.3,205.0C340.7,208.1 342.6,210.4 342.3,212.6C342.0,214.8 340.7,216.9 339.4,218.3C338.1,219.7 336.1,221.3 334.7,221.1C333.3,220.9 332.5,218.1 330.9,217.3C329.3,216.5 327.0,215.8 325.1,216.4C323.2,217.0 320.8,219.2 319.4,221.1C318.0,223.0 316.9,225.6 316.6,227.8C316.4,230.0 318.5,232.3 317.9,234.5C317.3,236.7 315.1,238.9 312.8,241.1C310.5,243.3 307.5,246.1 304.2,247.8C300.9,249.6 296.9,250.7 292.8,251.6C288.7,252.5 283.5,253.0 279.4,253.0C275.3,253.0 271.0,252.0 268.0,251.6C265.0,251.2 264.3,251.6 261.3,250.7C258.3,249.8 254.0,247.8 249.9,245.9C245.8,244.0 241.4,241.6 236.6,239.2C231.8,236.8 226.4,234.4 221.3,231.6C216.2,228.8 210.8,225.9 206.1,222.1C201.3,218.3 196.6,213.2 192.8,208.8C189.0,204.4 185.8,199.6 183.2,195.4C180.6,191.2 178.8,189.1 177.5,183.9C176.2,178.8 175.8,170.6 175.6,164.5C175.4,158.4 175.8,153.0 176.6,147.3C177.4,141.6 178.7,136.2 180.4,130.2C182.1,124.2 184.8,117.1 187.0,111.1C189.2,105.0 191.6,99.4 193.7,93.9Z" fill="none" stroke="#00ff00" stroke-width="1.45" stroke-linecap="butt" stroke-linejoin="round"/>
<path d="M362.0,60.4C362.7,61.4 365.5,64.3 366.4,66.2C367.3,68.1 367.1,71.0 367.3,72.0" fill="none" stroke="#00ff00" stroke-width="1.45" stroke-linecap="butt" stroke-linejoin="round"/>
<path d="M369.4,127.5C369.1,128.9 368.1,134.8 367.9,136.2" fill="none" stroke="#00ff00" stroke-width="1.45" stroke-linecap="butt" stroke-linejoin="round"/>
<path d="M364.4,149.3C364.1,150.1 363.4,152.3 362.8,154.0C362.2,155.7 361.0,158.6 360.6,159.5" fill="none" stroke="#00ff00" stroke-width="1.45" stroke-linecap="butt" stroke-linejoin="round"/>
<path d="M363.2,118.3C363.3,118.5 363.7,119.0 363.8,119.2" fill="none" stroke="#00ff00" stroke-width="1.45" stroke-linecap="butt" stroke-linejoin="round"/>
<path d="M361.2,135.8C361.3,136.0 361.7,136.5 361.8,136.7" fill="none" stroke="#00ff00" stroke-width="1.45" stroke-linecap="butt" stroke-linejoin="round"/>
<path d="M175.1,184.5C174.7,181.2 173.3,170.8 173.1,164.6C172.9,158.3 173.3,152.8 174.1,147.0C174.9,141.1 176.2,135.6 178.0,129.5C179.8,123.4 182.4,116.3 184.7,110.2C186.9,104.2 189.3,98.5 191.4,93.0C193.4,87.5 195.1,82.4 197.1,77.4C199.0,72.4 200.7,67.3 202.8,62.9C205.0,58.5 207.0,54.9 209.8,51.1C212.6,47.3 216.0,43.5 219.6,40.3C223.2,37.0 227.5,33.8 231.5,31.4C235.4,28.9 239.4,27.0 243.3,25.5C247.2,23.9 251.0,23.0 255.1,22.2C259.2,21.3 263.7,20.6 267.7,20.2C271.8,19.8 275.6,19.4 279.5,19.6C283.5,19.8 287.5,20.6 291.5,21.6C295.5,22.6 299.7,23.9 303.3,25.5C307.0,27.2 310.0,29.9 313.3,31.5C316.5,33.1 319.6,33.5 323.0,35.0C326.4,36.5 330.2,38.5 333.7,40.2C337.2,41.9 340.9,43.1 344.2,45.0C347.5,46.9 350.7,49.3 353.7,51.6C356.7,53.9 359.4,56.5 362.0,59.0C364.6,61.5 368.2,65.2 369.5,66.5" fill="none" stroke="#00ff00" stroke-width="1.4" stroke-linecap="butt" stroke-linejoin="round" stroke-dasharray="13 12" stroke-dashoffset="5"/>
<path d="M279.4,255.5C277.4,255.3 270.8,254.5 267.7,254.1C264.5,253.7 263.7,254.1 260.5,253.1C257.4,252.1 253.0,250.1 248.8,248.2C244.7,246.2 240.3,243.8 235.5,241.4C230.7,239.0 225.2,236.7 220.1,233.8C214.9,230.9 209.4,227.9 204.5,224.1C199.7,220.2 194.8,215.0 190.9,210.4C187.0,205.9 183.7,201.0 181.1,196.7C178.4,192.4 176.1,186.5 175.1,184.5" fill="none" stroke="#00ff00" stroke-width="1.4" stroke-linecap="butt" stroke-linejoin="round" stroke-dasharray="13 12" stroke-dashoffset="2"/>
<path d="M316.6,227.8C316.8,228.9 318.5,232.3 317.9,234.5C317.3,236.7 315.1,238.9 312.8,241.1C310.5,243.3 307.5,246.1 304.2,247.8C300.9,249.6 296.9,250.7 292.8,251.6C288.7,252.5 283.5,253.0 279.4,253.0C275.3,253.0 271.0,252.0 268.0,251.6C265.0,251.2 264.3,251.6 261.3,250.7C258.3,249.8 254.0,247.8 249.9,245.9C245.8,244.0 241.4,241.6 236.6,239.2C231.8,236.8 226.4,234.4 221.3,231.6C216.2,228.8 210.8,225.9 206.1,222.1C201.3,218.3 195.0,211.0 192.8,208.8" fill="none" stroke="#00ff00" stroke-width="2.1025" stroke-linecap="butt" stroke-linejoin="round"/>
<path d="M226.1,93.9C228.3,88.4 229.2,84.4 230.9,80.2C232.7,76.0 234.4,72.3 236.6,68.8C238.8,65.3 241.3,61.9 244.2,59.2C247.0,56.5 249.7,54.3 253.7,52.6C257.7,50.9 263.7,49.3 268.0,48.8C272.3,48.3 275.6,49.0 279.4,49.7C283.2,50.4 287.1,51.5 290.9,53.1C294.7,54.7 298.5,56.9 302.3,59.2C306.1,61.5 309.9,64.4 313.7,66.9C317.5,69.5 321.9,72.3 325.1,74.5C328.3,76.7 330.2,78.0 332.8,80.2C335.4,82.4 338.4,85.2 340.4,87.8C342.3,90.4 344.0,93.1 344.5,96.0C345.0,98.9 344.1,101.6 343.2,105.4C342.3,109.2 340.7,114.3 339.4,118.8C338.1,123.2 336.9,127.7 335.6,132.1C334.3,136.5 333.1,141.3 331.8,145.4C330.5,149.5 329.4,153.1 328.0,156.9C326.6,160.7 324.8,163.8 323.2,168.3C321.6,172.8 320.1,178.1 318.5,183.9C316.9,189.7 315.3,197.9 313.7,203.0C312.1,208.1 311.2,211.4 309.0,214.5C306.8,217.6 303.9,220.0 300.4,221.5C296.9,223.0 291.7,223.4 288.0,223.5C284.3,223.6 281.3,222.4 278.0,221.8C274.7,221.2 272.4,221.1 268.0,220.0C263.6,218.9 256.4,217.1 251.8,215.4C247.2,213.7 244.5,211.9 240.4,209.7C236.3,207.5 231.1,204.8 227.0,202.1C222.9,199.4 218.6,196.5 215.6,193.5C212.6,190.5 210.9,187.6 209.0,184.0C207.1,180.4 205.2,176.0 204.2,172.1C203.2,168.2 203.0,164.5 203.2,160.7C203.3,156.9 203.8,154.0 205.1,149.2C206.4,144.4 208.8,138.1 210.9,132.1C213.0,126.1 215.0,119.4 217.5,113.0C220.0,106.6 223.9,99.4 226.1,93.9Z" fill="none" stroke="#ccff00" stroke-width="1.4" stroke-linecap="butt" stroke-linejoin="round"/>
<path d="M222.7,92.5C224.9,87.0 225.7,83.0 227.5,78.8C229.3,74.5 231.1,70.5 233.5,66.9C235.9,63.2 238.7,59.6 241.8,56.7C244.9,53.8 248.1,51.4 252.4,49.6C256.7,47.7 263.0,46.1 267.6,45.6C272.2,45.1 275.9,45.8 280.0,46.5C284.1,47.2 288.2,48.3 292.2,49.9C296.2,51.5 300.3,53.8 304.2,56.1C308.1,58.4 311.9,61.3 315.8,63.8C319.6,66.4 324.0,69.2 327.2,71.4C330.5,73.7 332.6,75.0 335.4,77.3C338.1,79.6 341.5,82.3 343.8,85.3C346.1,88.3 348.5,91.7 349.2,95.3C349.9,98.8 348.7,102.3 347.8,106.4C347.0,110.6 345.2,115.6 344.0,120.1C342.7,124.6 341.4,129.0 340.2,133.4C338.9,137.9 337.6,142.6 336.3,146.8C335.0,151.0 333.8,154.7 332.4,158.6C331.0,162.4 329.2,165.4 327.6,169.9C326.1,174.3 324.6,179.4 323.1,185.2C321.5,190.9 320.0,199.1 318.2,204.4C316.5,209.7 315.4,213.7 312.7,217.1C310.0,220.6 306.1,223.6 302.0,225.3C297.9,227.0 292.2,227.4 288.1,227.5C283.9,227.6 280.8,226.3 277.3,225.7C273.8,225.1 271.5,225.0 267.1,223.9C262.6,222.8 255.2,220.9 250.4,219.1C245.7,217.3 242.8,215.5 238.5,213.2C234.3,210.9 229.1,208.2 224.8,205.4C220.6,202.6 216.0,199.5 212.8,196.2C209.6,193.0 207.7,189.7 205.6,185.8C203.6,181.9 201.5,177.2 200.5,173.0C199.5,168.8 199.2,164.7 199.4,160.6C199.6,156.4 200.1,153.2 201.5,148.2C202.8,143.3 205.3,137.0 207.4,130.9C209.5,124.8 211.5,118.0 214.0,111.6C216.6,105.2 220.4,98.0 222.7,92.5Z" fill="none" stroke="#ccff00" stroke-width="1.4" stroke-linecap="butt" stroke-linejoin="round" stroke-dasharray="13 12" stroke-dashoffset="8"/>
<path d="M247.5,94.0C248.9,89.6 248.7,88.9 249.8,86.5C250.9,84.1 252.3,81.6 254.3,79.5C256.3,77.4 258.8,75.4 261.6,74.0C264.5,72.6 268.3,71.6 271.4,71.3C274.5,71.0 277.3,71.0 280.4,71.9C283.4,72.8 286.4,74.7 289.7,76.5C293.0,78.3 296.8,81.1 300.0,83.0C303.2,84.9 306.2,86.4 309.0,88.0C311.8,89.6 314.9,90.8 317.0,92.5C319.1,94.2 320.4,95.9 321.5,98.0C322.6,100.1 323.1,102.5 323.3,105.0C323.6,107.5 323.4,109.7 323.0,113.0C322.6,116.3 321.9,120.7 321.0,125.0C320.1,129.3 319.1,134.6 317.9,138.8C316.6,143.0 314.9,146.5 313.5,150.0C312.1,153.5 311.0,156.3 309.7,160.0C308.4,163.7 306.9,168.1 305.5,172.0C304.1,175.9 302.9,180.5 301.3,183.6C299.7,186.7 298.1,188.6 296.0,190.5C293.9,192.4 291.6,193.8 289.0,194.8C286.4,195.8 283.9,196.6 280.4,196.6C276.9,196.6 271.8,195.5 268.0,195.0C264.2,194.5 261.5,194.4 257.5,193.5C253.5,192.6 248.2,191.3 244.2,189.7C240.2,188.1 236.7,186.9 233.7,184.0C230.7,181.1 227.7,176.0 226.1,172.1C224.5,168.2 223.8,164.5 224.2,160.7C224.6,156.9 226.5,154.0 228.3,149.2C230.1,144.4 232.8,138.1 235.0,132.1C237.2,126.1 239.5,119.3 241.6,113.0C243.7,106.7 246.1,98.4 247.5,94.0Z" fill="none" stroke="#ffa000" stroke-width="1.4" stroke-linecap="butt" stroke-linejoin="round"/>
<path d="M242.3,92.4C243.7,87.9 243.5,86.9 244.9,84.2C246.3,81.5 248.2,78.5 250.7,76.1C253.1,73.7 256.3,71.4 259.6,69.9C263.0,68.4 267.3,67.4 270.9,67.0C274.6,66.6 278.1,66.8 281.6,67.7C285.1,68.6 288.5,70.6 292.0,72.4C295.5,74.3 299.2,77.1 302.4,79.0C305.6,80.9 308.3,82.3 311.3,83.9C314.2,85.6 317.5,86.8 320.1,88.7C322.6,90.6 324.9,92.9 326.4,95.5C327.9,98.1 328.7,101.4 329.1,104.4C329.4,107.4 329.1,110.0 328.7,113.7C328.3,117.3 327.5,121.7 326.6,126.1C325.7,130.6 324.7,136.1 323.4,140.4C322.0,144.8 320.2,148.5 318.8,152.0C317.4,155.6 316.3,158.3 315.0,161.9C313.7,165.6 312.3,169.9 310.8,173.9C309.4,177.9 308.1,182.7 306.2,186.1C304.3,189.5 302.0,192.1 299.5,194.3C296.9,196.5 293.9,198.1 290.7,199.2C287.6,200.4 284.3,201.1 280.4,201.2C276.6,201.3 271.4,200.1 267.4,199.6C263.4,199.0 260.6,198.9 256.5,198.0C252.3,197.1 246.8,195.8 242.4,194.1C238.1,192.4 233.7,191.0 230.2,187.6C226.6,184.3 223.0,178.7 221.0,174.2C219.1,169.6 218.3,164.6 218.6,160.2C219.0,155.7 221.3,152.3 223.2,147.3C225.1,142.3 227.7,136.2 229.9,130.2C232.1,124.2 234.3,117.6 236.4,111.3C238.5,105.0 240.8,96.9 242.3,92.4Z" fill="none" stroke="#ffa000" stroke-width="1.4" stroke-linecap="butt" stroke-linejoin="round" stroke-dasharray="13 12" stroke-dashoffset="3"/>
<path d="M271.0,171.0C270.4,171.2 264.5,169.8 261.0,169.2C257.5,168.6 252.7,168.2 250.0,167.3C247.3,166.4 246.0,165.3 245.0,164.0C244.0,162.7 243.6,161.2 244.0,159.5C244.4,157.8 245.6,157.3 247.2,154.0C248.8,150.7 251.3,144.5 253.3,139.5C255.3,134.5 257.4,129.1 259.0,124.0C260.6,118.9 261.6,113.2 262.8,108.8C264.1,104.4 265.4,100.4 266.5,97.8C267.6,95.2 268.3,94.0 269.5,92.9C270.7,91.8 272.3,91.1 273.8,91.1C275.3,91.1 277.2,91.8 278.7,92.9C280.2,94.0 282.0,95.9 283.0,97.8C284.0,99.7 284.2,100.8 284.5,104.5C284.8,108.2 284.7,115.1 284.8,120.0C284.9,124.9 285.6,130.4 285.0,134.0C284.4,137.6 282.8,139.4 281.5,141.5C280.2,143.6 279.2,144.6 277.0,146.5C274.8,148.4 270.6,151.1 268.0,153.0C265.4,154.9 262.9,156.1 261.5,157.8C260.1,159.5 259.1,161.3 259.6,163.0C260.1,164.7 262.6,166.5 264.5,167.8C266.4,169.1 271.6,170.8 271.0,171.0Z" fill="none" stroke="#ff5500" stroke-width="1.4" stroke-linecap="butt" stroke-linejoin="round"/>
<path d="M275.0,174.5C272.5,176.1 270.0,176.2 266.3,176.0C262.6,175.8 256.3,174.3 252.8,173.5C249.3,172.7 247.5,172.2 245.5,171.0C243.5,169.8 241.7,167.9 240.8,166.0C239.9,164.1 239.6,161.8 240.0,159.5C240.4,157.2 241.9,156.2 243.5,152.5C245.1,148.8 247.7,142.2 249.5,137.0C251.3,131.8 252.9,125.7 254.3,121.0C255.7,116.3 256.7,112.9 258.0,108.8C259.3,104.7 260.9,99.6 262.2,96.6C263.4,93.5 264.3,92.0 265.5,90.5C266.7,89.0 267.9,88.1 269.5,87.4C271.1,86.8 273.1,86.3 275.0,86.6C276.9,86.9 278.5,87.7 281.1,89.3C283.8,90.9 288.2,93.8 290.9,96.0C293.6,98.2 296.1,100.5 297.5,102.5C298.9,104.5 299.3,105.6 299.4,108.0C299.5,110.4 298.9,113.2 298.0,117.0C297.1,120.8 295.0,126.9 293.8,131.0C292.6,135.1 292.2,137.9 290.9,141.6C289.6,145.3 287.6,148.9 286.0,153.0C284.4,157.1 283.1,162.8 281.3,166.4C279.5,170.0 277.5,172.9 275.0,174.5Z" fill="none" stroke="#ff5500" stroke-width="1.4" stroke-linecap="butt" stroke-linejoin="round" stroke-dasharray="13 12" stroke-dashoffset="0"/>
<circle cx="260.4" cy="157.6" r="3.0" fill="#f5821f"/>
<circle cx="269.0" cy="157.5" r="3.0" fill="#f5821f"/>
<circle cx="280.4" cy="169.6" r="3.0" fill="#f5821f"/>
<circle cx="268.3" cy="146.4" r="3.0" fill="#c9147f"/>
<circle cx="260.4" cy="162.0" r="3.0" fill="#c9147f"/>
<circle cx="261.0" cy="162.4" r="3.0" fill="#c9147f"/>
<circle cx="265.7" cy="168.1" r="3.0" fill="#c9147f"/>
<circle cx="263.0" cy="165.5" r="3.0" fill="#c9147f"/>
<circle cx="248.6" cy="180.5" r="3.0" fill="#c9147f"/>
<circle cx="259.0" cy="184.3" r="3.0" fill="#c9147f"/>
<circle cx="257.5" cy="181.0" r="3.0" fill="#c9147f"/>
<circle cx="289.5" cy="125.8" r="9.5" fill="url(#shd)"/>
<polygon points="283.60,114.20 285.57,119.48 291.21,119.73 286.80,123.24 288.30,128.67 283.60,125.56 278.90,128.67 280.40,123.24 275.99,119.73 281.63,119.48" fill="#ee1c1c"/>
</g>
<text x="174.6" y="252.2" font-size="9.6" font-weight="bold">0</text><text x="192.4" y="252.2" font-size="9.6" font-weight="bold">50</text><text x="210.3" y="252.2" font-size="9.6" font-weight="bold">100 km</text>
<rect x="176.6" y="257" width="21" height="5.5" fill="#000"/><rect x="197.6" y="257.4" width="20.3" height="4.7" fill="#fff" stroke="#000" stroke-width="0.8"/>
<g clip-path="url(#cs0)">
<rect x="90.0" y="455.2" width="4.2" height="4.2" fill="#e8f5dc" opacity="0.9"/>
<rect x="90.0" y="459.2" width="4.2" height="4.2" fill="#bfe2ea" opacity="0.9"/>
<rect x="94.0" y="455.2" width="4.2" height="4.2" fill="#e8f5dc" opacity="0.9"/>
<rect x="94.0" y="459.2" width="4.2" height="4.2" fill="#d9efe0" opacity="0.9"/>
<rect x="98.6" y="465.9" width="4.2" height="3.2" fill="#fff6c8" opacity="0.9"/>
<rect x="102.6" y="462.9" width="4.2" height="3.2" fill="#fde7c0" opacity="0.9"/>
<rect x="102.6" y="465.9" width="4.2" height="3.2" fill="#fff9d8" opacity="0.9"/>
<rect x="106.2" y="455.2" width="4.2" height="3.6" fill="#d9efe0" opacity="0.9"/>
<rect x="106.2" y="458.6" width="4.2" height="3.6" fill="#fff6c8" opacity="0.9"/>
<rect x="106.2" y="465.3" width="4.2" height="3.6" fill="#bfe2ea" opacity="0.9"/>
<rect x="110.2" y="455.2" width="4.2" height="3.6" fill="#e8f5dc" opacity="0.9"/>
<rect x="110.2" y="458.6" width="4.2" height="3.6" fill="#bfe2ea" opacity="0.9"/>
<rect x="110.2" y="461.9" width="4.2" height="3.6" fill="#a4d3ea" opacity="0.9"/>
<rect x="110.2" y="465.3" width="4.2" height="3.6" fill="#fff6c8" opacity="0.9"/>
<rect x="74.0" y="462.0" width="3.5" height="3.2" fill="#a4d3ea" opacity="0.9"/>
<rect x="74.0" y="465.0" width="3.5" height="3.2" fill="#fff6c8" opacity="0.9"/>
<rect x="77.3" y="462.0" width="3.5" height="3.2" fill="#fdd9a8" opacity="0.9"/>
<rect x="77.3" y="465.0" width="3.5" height="3.2" fill="#a4d3ea" opacity="0.9"/>
<rect x="80.7" y="465.0" width="3.5" height="3.2" fill="#fff6c8" opacity="0.9"/>
<rect x="100.5" y="478.0" width="3.2" height="4.7" fill="#a4d3ea" opacity="0.9"/>
<rect x="103.5" y="478.0" width="3.2" height="4.7" fill="#fde7c0" opacity="0.9"/>
<rect x="114.8" y="478.0" width="3.7" height="3.2" fill="#fde7c0" opacity="0.9"/>
<rect x="114.8" y="481.0" width="3.7" height="3.2" fill="#fde7c0" opacity="0.9"/>
<rect x="118.3" y="478.0" width="3.7" height="3.2" fill="#fff9d8" opacity="0.9"/>
<rect x="118.3" y="481.0" width="3.7" height="3.2" fill="#bfe2ea" opacity="0.9"/>
<rect x="129.0" y="424.8" width="4.0" height="4.5" fill="#a4d3ea" opacity="0.9"/>
<rect x="129.0" y="429.1" width="4.0" height="4.5" fill="#a4d3ea" opacity="0.9"/>
<rect x="129.0" y="433.5" width="4.0" height="4.5" fill="#fff9d8" opacity="0.9"/>
<rect x="132.8" y="424.8" width="4.0" height="4.5" fill="#fff6c8" opacity="0.9"/>
<rect x="132.8" y="429.1" width="4.0" height="4.5" fill="#fff6c8" opacity="0.9"/>
<rect x="139.0" y="385.5" width="5.2" height="3.2" fill="#e8f5dc" opacity="0.9"/>
<rect x="139.0" y="388.5" width="5.2" height="3.2" fill="#bfe2ea" opacity="0.9"/>
<rect x="103.0" y="418.0" width="4.2" height="4.2" fill="#bfe2ea" opacity="0.9"/>
<rect x="103.0" y="422.0" width="4.2" height="4.2" fill="#d9efe0" opacity="0.9"/>
<rect x="107.0" y="418.0" width="4.2" height="4.2" fill="#fff9d8" opacity="0.9"/>
<path d="M126.6,381.1L126.3,382.4L125.7,383.5L125.2,385.5L124.5,387.2L124.0,388.3L123.3,390.5L123.5,391.8L123.4,392.5L123.0,394.3L122.4,396.0L122.1,396.8L122.3,398.2" fill="none" stroke="#d4e9f7" stroke-width="2.82" stroke-opacity="0.5" stroke-linejoin="round" stroke-linecap="round"/>
<path d="M122.9,403.3L123.1,404.7L123.1,405.9L123.2,407.6L123.0,408.7L122.6,409.8L121.6,410.8L121.6,411.8L121.6,413.5L121.0,414.2L120.5,415.4" fill="none" stroke="#d4e9f7" stroke-width="2.62" stroke-opacity="0.5" stroke-linejoin="round" stroke-linecap="round"/>
<path d="M118.2,405.4L117.9,406.6L118.0,407.6L117.8,409.0L117.6,409.9L116.9,411.2L117.2,412.4L117.0,413.5L116.2,414.5L116.4,416.3" fill="none" stroke="#d4e9f7" stroke-width="2.26" stroke-opacity="0.5" stroke-linejoin="round" stroke-linecap="round"/>
<path d="M126.0,387.9L126.6,389.1L127.1,390.5L126.9,391.7L127.4,393.1L126.8,395.0L127.2,396.1L127.6,397.1L127.3,398.7L127.3,400.0L126.8,401.5L127.4,403.4L127.7,404.4" fill="none" stroke="#d4e9f7" stroke-width="3.42" stroke-opacity="0.5" stroke-linejoin="round" stroke-linecap="round"/>
<path d="M124.6,383.9L124.7,385.5L124.4,386.7L124.1,388.6L123.5,389.9L122.9,391.6L122.0,393.0L122.3,393.9L122.1,395.8L122.2,397.2L121.5,398.5L121.6,400.3L120.8,401.1L119.9,402.5L119.6,404.0" fill="none" stroke="#d4e9f7" stroke-width="3.18" stroke-opacity="0.5" stroke-linejoin="round" stroke-linecap="round"/>
<path d="M119.2,401.7L118.6,403.2L118.2,405.0L117.8,405.7L117.7,407.6L117.5,408.8L116.4,409.8L115.5,411.3L114.8,412.5L114.2,413.7L113.7,414.4L113.2,415.9" fill="none" stroke="#d4e9f7" stroke-width="2.90" stroke-opacity="0.5" stroke-linejoin="round" stroke-linecap="round"/>
<path d="M120.2,409.5L120.9,410.8L122.8,411.6L123.9,413.0" fill="none" stroke="#3d8fe8" stroke-width="1.32" stroke-opacity="0.85" stroke-linejoin="round" stroke-linecap="round"/>
<path d="M126.8,398.1L125.2,398.8L123.8,400.8" fill="none" stroke="#3d8fe8" stroke-width="1.68" stroke-opacity="0.85" stroke-linejoin="round" stroke-linecap="round"/>
<path d="M123.8,405.0L123.5,406.3L122.7,407.5L122.6,409.1" fill="none" stroke="#3d8fe8" stroke-width="0.87" stroke-opacity="0.85" stroke-linejoin="round" stroke-linecap="round"/>
<path d="M125.3,403.0L125.2,404.8L123.4,405.7L122.9,407.1L123.3,408.3L122.9,409.5" fill="none" stroke="#3d8fe8" stroke-width="1.24" stroke-opacity="0.85" stroke-linejoin="round" stroke-linecap="round"/>
<path d="M126.5,401.6L126.2,403.4L126.7,405.0L124.4,405.7L123.1,407.0L121.5,408.4" fill="none" stroke="#3d8fe8" stroke-width="1.43" stroke-opacity="0.85" stroke-linejoin="round" stroke-linecap="round"/>
<path d="M129.6,379.2L130.1,380.2L129.5,382.1L129.8,383.3" fill="none" stroke="#3d8fe8" stroke-width="1.48" stroke-opacity="0.85" stroke-linejoin="round" stroke-linecap="round"/>
<path d="M118.1,410.8L117.2,412.0L115.7,413.8L114.5,414.6" fill="none" stroke="#3d8fe8" stroke-width="1.57" stroke-opacity="0.85" stroke-linejoin="round" stroke-linecap="round"/>
<path d="M118.3,400.2L116.3,402.1L116.8,404.1" fill="none" stroke="#3d8fe8" stroke-width="1.18" stroke-opacity="0.85" stroke-linejoin="round" stroke-linecap="round"/>
<path d="M119.0,376.0L119.4,378.0L119.2,380.3L120.6,382.2" fill="none" stroke="#3d8fe8" stroke-width="1.37" stroke-opacity="0.85" stroke-linejoin="round" stroke-linecap="round"/>
<path d="M128.1,381.0L127.7,382.4L127.8,384.5L128.2,386.1L126.0,387.4L124.3,389.2" fill="none" stroke="#3d8fe8" stroke-width="1.30" stroke-opacity="0.85" stroke-linejoin="round" stroke-linecap="round"/>
<path d="M119.0,404.7L119.0,406.3L118.6,407.3L118.3,408.8L118.8,410.7" fill="none" stroke="#3d8fe8" stroke-width="0.90" stroke-opacity="0.85" stroke-linejoin="round" stroke-linecap="round"/>
<path d="M124.7,378.2L122.5,380.1L122.1,381.8" fill="none" stroke="#3d8fe8" stroke-width="1.43" stroke-opacity="0.85" stroke-linejoin="round" stroke-linecap="round"/>
<path d="M130.7,382.3L130.2,383.4L130.6,385.2" fill="none" stroke="#3d8fe8" stroke-width="1.31" stroke-opacity="0.85" stroke-linejoin="round" stroke-linecap="round"/>
<path d="M126.2,377.3L124.4,379.1L124.5,380.7L124.1,381.7" fill="none" stroke="#1a66d6" stroke-width="1.11" stroke-opacity="0.95" stroke-linejoin="round" stroke-linecap="round"/>
<path d="M122.4,405.9L123.9,407.1L122.5,408.0L123.1,409.5L124.1,410.8L123.2,412.4" fill="none" stroke="#1a66d6" stroke-width="1.30" stroke-opacity="0.95" stroke-linejoin="round" stroke-linecap="round"/>
<path d="M120.9,397.0L121.8,398.2L120.3,399.7L119.3,401.4L120.2,402.7L119.0,403.9" fill="none" stroke="#1a66d6" stroke-width="1.36" stroke-opacity="0.95" stroke-linejoin="round" stroke-linecap="round"/>
<path d="M117.5,393.0L117.1,394.4L116.7,395.1L115.5,396.8L115.5,398.5" fill="none" stroke="#1a66d6" stroke-width="1.13" stroke-opacity="0.95" stroke-linejoin="round" stroke-linecap="round"/>
<path d="M119.8,404.5L119.3,406.0L117.4,407.6L117.3,408.8L117.5,410.1" fill="none" stroke="#1a66d6" stroke-width="0.97" stroke-opacity="0.95" stroke-linejoin="round" stroke-linecap="round"/>
<path d="M119.4,412.4L120.7,413.3L119.7,415.0L120.4,416.0" fill="none" stroke="#1a66d6" stroke-width="0.68" stroke-opacity="0.95" stroke-linejoin="round" stroke-linecap="round"/>
<path d="M128.6,378.0L128.7,379.6L129.5,381.3L128.7,382.4" fill="none" stroke="#1a66d6" stroke-width="1.02" stroke-opacity="0.95" stroke-linejoin="round" stroke-linecap="round"/>
<path d="M128.2,405.3L127.5,407.0L126.6,408.3L126.1,409.4L125.8,410.2L125.3,411.6" fill="none" stroke="#1a66d6" stroke-width="0.82" stroke-opacity="0.95" stroke-linejoin="round" stroke-linecap="round"/>
<path d="M124.5,403.1L123.7,404.6L124.5,406.3" fill="none" stroke="#1a66d6" stroke-width="0.91" stroke-opacity="0.95" stroke-linejoin="round" stroke-linecap="round"/>
<path d="M129.4,405.3L129.1,407.2L128.7,408.3L128.5,409.5L128.0,411.2L127.9,412.4L127.6,413.6L127.6,414.8L127.4,416.6L126.7,418.1L126.4,419.1L126.0,420.5L126.0,422.1L125.4,423.4L124.4,424.8L123.7,426.5L123.9,427.6L123.1,429.3" fill="none" stroke="#d4e9f7" stroke-width="2.16" stroke-opacity="0.5" stroke-linejoin="round" stroke-linecap="round"/>
<path d="M130.6,404.8L130.0,406.6L129.3,407.6L129.3,409.5L129.1,410.8L128.3,411.8L127.9,413.7L127.7,415.0L127.0,416.1L127.4,417.7L127.3,418.6L127.5,419.9L127.7,421.9" fill="none" stroke="#d4e9f7" stroke-width="2.42" stroke-opacity="0.5" stroke-linejoin="round" stroke-linecap="round"/>
<path d="M117.7,426.7L117.7,427.9L117.0,429.3L116.4,431.3L116.3,432.2L115.7,433.6L115.5,435.3L114.6,436.5L114.6,437.9L114.3,439.3L113.7,440.6L113.0,441.6L112.5,443.0L111.8,444.2" fill="none" stroke="#d4e9f7" stroke-width="2.62" stroke-opacity="0.5" stroke-linejoin="round" stroke-linecap="round"/>
<path d="M116.1,433.7L115.6,435.0L115.0,436.4L114.4,437.8L113.4,438.9L112.7,440.6L112.1,441.6L111.1,443.3L110.7,443.9L110.1,445.7L109.4,447.2L109.0,447.9L108.7,449.2" fill="none" stroke="#d4e9f7" stroke-width="2.17" stroke-opacity="0.5" stroke-linejoin="round" stroke-linecap="round"/>
<path d="M121.1,414.4L121.1,416.0L121.1,417.5L121.1,418.9L121.0,420.3L120.4,421.4L120.0,423.0L119.6,423.9L119.3,425.1L118.4,426.5L117.5,427.5L116.7,429.2L116.7,430.2L116.5,431.6L116.1,433.1L115.7,434.8L115.1,435.8L114.9,436.8L114.3,438.5L114.2,439.9" fill="none" stroke="#d4e9f7" stroke-width="2.70" stroke-opacity="0.5" stroke-linejoin="round" stroke-linecap="round"/>
<path d="M123.8,410.1L124.1,411.5L124.0,413.3L123.5,414.7L122.7,415.8L122.1,417.2L121.7,418.3L121.9,419.9L121.8,421.6L122.0,423.3L121.8,424.1L121.8,425.5L122.0,427.1L121.3,428.4L120.8,430.3" fill="none" stroke="#d4e9f7" stroke-width="3.14" stroke-opacity="0.5" stroke-linejoin="round" stroke-linecap="round"/>
<path d="M122.0,431.6L121.9,433.5L120.9,434.8L120.8,435.7L120.4,437.3L119.3,438.4L119.2,439.9L119.0,440.5L118.5,442.1L118.1,443.1L117.4,444.3L116.9,446.1L115.5,447.0L114.3,448.5L113.8,449.3L113.7,451.3" fill="none" stroke="#d4e9f7" stroke-width="2.48" stroke-opacity="0.5" stroke-linejoin="round" stroke-linecap="round"/>
<path d="M121.0,421.5L119.6,422.6L119.8,424.0L118.1,426.0L116.8,427.0L116.0,428.3" fill="none" stroke="#3d8fe8" stroke-width="1.37" stroke-opacity="0.85" stroke-linejoin="round" stroke-linecap="round"/>
<path d="M117.9,417.0L116.4,418.5L115.0,420.3L114.6,421.4L114.4,423.0L112.9,424.3" fill="none" stroke="#3d8fe8" stroke-width="1.30" stroke-opacity="0.85" stroke-linejoin="round" stroke-linecap="round"/>
<path d="M121.3,435.5L122.7,436.7L123.6,437.6L124.0,439.0L124.4,440.4L124.2,441.6" fill="none" stroke="#3d8fe8" stroke-width="1.39" stroke-opacity="0.85" stroke-linejoin="round" stroke-linecap="round"/>
<path d="M127.0,413.2L125.4,414.4L125.2,416.0L124.6,417.9L124.4,418.8L123.2,420.5L122.7,422.3" fill="none" stroke="#3d8fe8" stroke-width="1.38" stroke-opacity="0.85" stroke-linejoin="round" stroke-linecap="round"/>
<path d="M124.2,412.8L124.1,414.8L124.5,415.8L124.7,417.0L124.0,418.7L121.9,419.6L120.8,421.0" fill="none" stroke="#3d8fe8" stroke-width="0.86" stroke-opacity="0.85" stroke-linejoin="round" stroke-linecap="round"/>
<path d="M124.8,420.6L124.3,422.3L123.5,424.0" fill="none" stroke="#3d8fe8" stroke-width="1.66" stroke-opacity="0.85" stroke-linejoin="round" stroke-linecap="round"/>
<path d="M124.0,428.4L124.9,429.9L123.8,431.1L124.7,432.6L123.4,433.7L122.6,435.4L123.1,436.6" fill="none" stroke="#3d8fe8" stroke-width="0.92" stroke-opacity="0.85" stroke-linejoin="round" stroke-linecap="round"/>
<path d="M121.4,419.4L119.7,420.9L118.1,422.4L118.0,423.9L118.2,425.3L116.4,427.0L115.6,428.4L116.2,429.6" fill="none" stroke="#3d8fe8" stroke-width="1.42" stroke-opacity="0.85" stroke-linejoin="round" stroke-linecap="round"/>
<path d="M125.3,412.7L125.1,414.2L124.9,415.6L123.4,416.9L121.0,418.4" fill="none" stroke="#3d8fe8" stroke-width="1.12" stroke-opacity="0.85" stroke-linejoin="round" stroke-linecap="round"/>
<path d="M118.4,433.9L119.7,435.6L119.3,436.7L120.3,438.7" fill="none" stroke="#3d8fe8" stroke-width="1.08" stroke-opacity="0.85" stroke-linejoin="round" stroke-linecap="round"/>
<path d="M130.2,410.1L128.4,411.0L128.2,412.9L128.7,414.0L128.6,415.8" fill="none" stroke="#3d8fe8" stroke-width="1.49" stroke-opacity="0.85" stroke-linejoin="round" stroke-linecap="round"/>
<path d="M121.4,416.5L119.3,417.9L118.2,419.7L117.0,420.9" fill="none" stroke="#3d8fe8" stroke-width="1.52" stroke-opacity="0.85" stroke-linejoin="round" stroke-linecap="round"/>
<path d="M111.8,442.5L110.9,443.3L109.4,444.5L107.9,445.7L107.9,446.9L107.5,448.7L107.4,450.0" fill="none" stroke="#3d8fe8" stroke-width="1.53" stroke-opacity="0.85" stroke-linejoin="round" stroke-linecap="round"/>
<path d="M110.7,443.5L109.8,445.0L107.7,446.2L106.1,447.7" fill="none" stroke="#3d8fe8" stroke-width="1.35" stroke-opacity="0.85" stroke-linejoin="round" stroke-linecap="round"/>
<path d="M125.2,418.6L125.0,419.9L124.1,421.7L124.4,423.5L124.2,424.6" fill="none" stroke="#3d8fe8" stroke-width="0.87" stroke-opacity="0.85" stroke-linejoin="round" stroke-linecap="round"/>
<path d="M122.2,430.1L121.7,431.1L121.6,433.2" fill="none" stroke="#1a66d6" stroke-width="0.89" stroke-opacity="0.95" stroke-linejoin="round" stroke-linecap="round"/>
<path d="M127.9,419.2L127.7,420.4L126.5,422.5L124.7,423.9L124.1,425.8" fill="none" stroke="#1a66d6" stroke-width="1.35" stroke-opacity="0.95" stroke-linejoin="round" stroke-linecap="round"/>
<path d="M122.6,412.3L123.3,413.5L122.7,415.3L121.4,417.2L119.8,418.2L118.0,420.0" fill="none" stroke="#1a66d6" stroke-width="0.79" stroke-opacity="0.95" stroke-linejoin="round" stroke-linecap="round"/>
<path d="M126.2,431.6L124.4,433.1L122.1,434.1L120.8,436.0" fill="none" stroke="#1a66d6" stroke-width="1.11" stroke-opacity="0.95" stroke-linejoin="round" stroke-linecap="round"/>
<path d="M122.3,414.6L121.4,416.5L119.6,417.6L119.0,419.0L117.7,420.4" fill="none" stroke="#1a66d6" stroke-width="1.24" stroke-opacity="0.95" stroke-linejoin="round" stroke-linecap="round"/>
<path d="M119.5,415.2L119.6,417.3L119.2,419.5" fill="none" stroke="#1a66d6" stroke-width="1.09" stroke-opacity="0.95" stroke-linejoin="round" stroke-linecap="round"/>
<path d="M123.7,424.6L123.8,426.8L125.3,427.8L124.6,429.7L124.1,430.5" fill="none" stroke="#1a66d6" stroke-width="0.78" stroke-opacity="0.95" stroke-linejoin="round" stroke-linecap="round"/>
<path d="M128.4,412.3L126.7,414.1L125.9,415.6L125.2,417.3L124.5,419.0" fill="none" stroke="#1a66d6" stroke-width="0.73" stroke-opacity="0.95" stroke-linejoin="round" stroke-linecap="round"/>
<path d="M115.9,438.6L116.2,439.7L116.6,440.8L117.1,442.0L117.5,442.9L116.0,444.6L115.8,445.8" fill="none" stroke="#1a66d6" stroke-width="1.09" stroke-opacity="0.95" stroke-linejoin="round" stroke-linecap="round"/>
<path d="M118.5,437.4L116.9,438.4L115.8,440.0L115.0,441.2L114.0,442.1" fill="none" stroke="#1a66d6" stroke-width="1.22" stroke-opacity="0.95" stroke-linejoin="round" stroke-linecap="round"/>
<path d="M114.2,432.7L112.3,434.1L112.9,435.8L112.6,436.8L112.4,438.7L110.7,439.8L111.0,441.3L110.4,442.3" fill="none" stroke="#1a66d6" stroke-width="1.10" stroke-opacity="0.95" stroke-linejoin="round" stroke-linecap="round"/>
<path d="M126.4,422.4L125.7,423.4L125.5,425.0L125.7,426.4L125.7,428.0L125.4,429.6L125.2,431.4L124.6,432.7L124.6,433.6L123.9,435.1L124.0,436.1L124.1,437.6" fill="none" stroke="#d4e9f7" stroke-width="3.03" stroke-opacity="0.5" stroke-linejoin="round" stroke-linecap="round"/>
<path d="M126.7,415.9L126.5,417.4L126.0,418.7L125.9,420.5L126.2,421.9L126.5,423.2L126.4,424.5L126.1,426.1L126.3,427.6L126.7,429.6L126.5,430.7L126.2,432.5" fill="none" stroke="#d4e9f7" stroke-width="2.82" stroke-opacity="0.5" stroke-linejoin="round" stroke-linecap="round"/>
<path d="M126.3,416.8L126.6,418.2L126.2,420.1L126.0,421.4L125.8,422.7L125.4,424.6L125.5,426.1L125.2,427.8L124.8,429.2L124.3,430.8L124.2,432.3L124.3,433.7L124.5,434.6" fill="none" stroke="#d4e9f7" stroke-width="2.75" stroke-opacity="0.5" stroke-linejoin="round" stroke-linecap="round"/>
<path d="M123.4,443.8L122.9,444.6L122.2,446.4L122.9,447.2" fill="none" stroke="#3d8fe8" stroke-width="1.24" stroke-opacity="0.85" stroke-linejoin="round" stroke-linecap="round"/>
<path d="M125.3,413.7L125.4,415.0L126.5,416.0L125.6,418.1L125.8,419.3L125.3,420.9" fill="none" stroke="#3d8fe8" stroke-width="0.89" stroke-opacity="0.85" stroke-linejoin="round" stroke-linecap="round"/>
<path d="M124.9,443.5L123.6,444.9L122.9,446.9L122.2,447.9" fill="none" stroke="#3d8fe8" stroke-width="1.68" stroke-opacity="0.85" stroke-linejoin="round" stroke-linecap="round"/>
<path d="M128.8,420.3L129.3,422.1L129.6,423.1L130.0,425.5L130.1,427.2" fill="none" stroke="#3d8fe8" stroke-width="0.97" stroke-opacity="0.85" stroke-linejoin="round" stroke-linecap="round"/>
<path d="M126.6,428.2L127.0,429.9L126.2,432.2" fill="none" stroke="#3d8fe8" stroke-width="1.04" stroke-opacity="0.85" stroke-linejoin="round" stroke-linecap="round"/>
<path d="M130.3,425.9L129.7,427.0L130.0,428.7" fill="none" stroke="#3d8fe8" stroke-width="0.96" stroke-opacity="0.85" stroke-linejoin="round" stroke-linecap="round"/>
<path d="M130.4,417.7L129.3,420.1L130.6,421.7" fill="none" stroke="#3d8fe8" stroke-width="1.09" stroke-opacity="0.85" stroke-linejoin="round" stroke-linecap="round"/>
<path d="M125.2,428.8L124.9,429.9L123.9,430.9" fill="none" stroke="#1a66d6" stroke-width="0.75" stroke-opacity="0.95" stroke-linejoin="round" stroke-linecap="round"/>
<path d="M130.3,414.3L130.0,415.9L131.3,416.7" fill="none" stroke="#1a66d6" stroke-width="0.70" stroke-opacity="0.95" stroke-linejoin="round" stroke-linecap="round"/>
<path d="M124.5,427.7L124.7,429.0L123.9,431.0L123.0,432.4L123.4,434.2" fill="none" stroke="#1a66d6" stroke-width="1.27" stroke-opacity="0.95" stroke-linejoin="round" stroke-linecap="round"/>
<path d="M127.3,437.5L125.8,439.1L125.4,440.9" fill="none" stroke="#1a66d6" stroke-width="0.85" stroke-opacity="0.95" stroke-linejoin="round" stroke-linecap="round"/>
<path d="M131.2,421.0L130.3,422.6L132.0,423.9L133.0,426.1" fill="none" stroke="#1a66d6" stroke-width="0.75" stroke-opacity="0.95" stroke-linejoin="round" stroke-linecap="round"/>
<path d="M116.7,434.1L116.0,435.0L115.8,436.0L115.3,437.5L114.9,439.0L113.9,439.9L113.4,441.6" fill="none" stroke="#d4e9f7" stroke-width="2.27" stroke-opacity="0.5" stroke-linejoin="round" stroke-linecap="round"/>
<path d="M114.0,445.2L113.2,446.5L112.7,447.7L112.6,448.8L111.6,449.6L110.5,450.8" fill="none" stroke="#d4e9f7" stroke-width="3.42" stroke-opacity="0.5" stroke-linejoin="round" stroke-linecap="round"/>
<path d="M120.7,434.8L119.7,435.8L119.1,437.4L119.1,438.3L118.0,440.4" fill="none" stroke="#d4e9f7" stroke-width="2.30" stroke-opacity="0.5" stroke-linejoin="round" stroke-linecap="round"/>
<path d="M117.8,433.1L117.4,434.5L115.9,436.6" fill="none" stroke="#3d8fe8" stroke-width="1.68" stroke-opacity="0.85" stroke-linejoin="round" stroke-linecap="round"/>
<path d="M119.2,436.7L118.2,438.1L117.1,438.6" fill="none" stroke="#3d8fe8" stroke-width="1.60" stroke-opacity="0.85" stroke-linejoin="round" stroke-linecap="round"/>
<path d="M122.5,433.0L121.0,433.8L120.4,435.6" fill="none" stroke="#3d8fe8" stroke-width="0.91" stroke-opacity="0.85" stroke-linejoin="round" stroke-linecap="round"/>
<path d="M116.5,435.4L116.1,435.9L113.8,436.7" fill="none" stroke="#3d8fe8" stroke-width="1.64" stroke-opacity="0.85" stroke-linejoin="round" stroke-linecap="round"/>
<path d="M115.7,434.4L113.8,434.8L113.6,435.6" fill="none" stroke="#3d8fe8" stroke-width="1.65" stroke-opacity="0.85" stroke-linejoin="round" stroke-linecap="round"/>
<path d="M119.9,435.4L120.1,436.7L121.4,438.2" fill="none" stroke="#3d8fe8" stroke-width="1.55" stroke-opacity="0.85" stroke-linejoin="round" stroke-linecap="round"/>
<path d="M113.1,442.1L111.4,443.3L110.8,445.1" fill="none" stroke="#3d8fe8" stroke-width="1.50" stroke-opacity="0.85" stroke-linejoin="round" stroke-linecap="round"/>
<path d="M113.5,447.9L112.8,449.0L113.7,449.8" fill="none" stroke="#1a66d6" stroke-width="0.76" stroke-opacity="0.95" stroke-linejoin="round" stroke-linecap="round"/>
<path d="M118.3,436.7L116.5,437.2L116.7,437.9" fill="none" stroke="#1a66d6" stroke-width="0.77" stroke-opacity="0.95" stroke-linejoin="round" stroke-linecap="round"/>
<path d="M120.9,434.0L118.9,434.2L117.3,435.3" fill="none" stroke="#1a66d6" stroke-width="1.34" stroke-opacity="0.95" stroke-linejoin="round" stroke-linecap="round"/>
<path d="M113.3,438.9L113.2,440.2L113.8,442.2" fill="none" stroke="#1a66d6" stroke-width="1.29" stroke-opacity="0.95" stroke-linejoin="round" stroke-linecap="round"/>
<path d="M111.9,441.1L110.5,443.1L110.0,444.3" fill="none" stroke="#1a66d6" stroke-width="0.86" stroke-opacity="0.95" stroke-linejoin="round" stroke-linecap="round"/>
<path d="M111.8,429.4L111.3,430.6L110.9,432.7L110.4,434.3L109.9,435.4L110.1,437.2L110.3,438.3L110.0,439.6L109.9,441.6" fill="none" stroke="#d4e9f7" stroke-width="2.38" stroke-opacity="0.5" stroke-linejoin="round" stroke-linecap="round"/>
<path d="M111.7,425.3L111.7,426.3L111.2,428.0L110.2,429.2L110.0,430.1L109.3,432.1L108.5,433.3" fill="none" stroke="#d4e9f7" stroke-width="2.78" stroke-opacity="0.5" stroke-linejoin="round" stroke-linecap="round"/>
<path d="M113.7,431.9L112.6,433.3L113.9,434.8" fill="none" stroke="#3d8fe8" stroke-width="1.19" stroke-opacity="0.85" stroke-linejoin="round" stroke-linecap="round"/>
<path d="M111.5,435.7L112.5,437.3L113.8,438.5" fill="none" stroke="#3d8fe8" stroke-width="1.43" stroke-opacity="0.85" stroke-linejoin="round" stroke-linecap="round"/>
<path d="M112.9,429.5L111.8,431.5L112.0,432.6" fill="none" stroke="#3d8fe8" stroke-width="1.44" stroke-opacity="0.85" stroke-linejoin="round" stroke-linecap="round"/>
<path d="M111.8,432.6L112.1,434.8L112.1,436.5L112.1,437.4" fill="none" stroke="#3d8fe8" stroke-width="0.95" stroke-opacity="0.85" stroke-linejoin="round" stroke-linecap="round"/>
<path d="M112.7,437.7L111.5,439.1L110.5,441.3L111.7,442.9" fill="none" stroke="#3d8fe8" stroke-width="1.49" stroke-opacity="0.85" stroke-linejoin="round" stroke-linecap="round"/>
<path d="M109.4,440.3L108.3,442.3L106.8,443.6" fill="none" stroke="#1a66d6" stroke-width="0.70" stroke-opacity="0.95" stroke-linejoin="round" stroke-linecap="round"/>
<path d="M115.2,423.9L115.8,425.2L114.2,426.6" fill="none" stroke="#1a66d6" stroke-width="0.98" stroke-opacity="0.95" stroke-linejoin="round" stroke-linecap="round"/>
<path d="M111.5,428.6L112.4,429.9L110.7,431.3" fill="none" stroke="#1a66d6" stroke-width="1.02" stroke-opacity="0.95" stroke-linejoin="round" stroke-linecap="round"/>
<path d="M121.7,445.3L121.7,446.9L120.9,448.2L120.8,449.3L120.2,450.7" fill="none" stroke="#d4e9f7" stroke-width="3.37" stroke-opacity="0.5" stroke-linejoin="round" stroke-linecap="round"/>
<path d="M119.4,447.5L118.7,448.8L118.7,450.3L118.8,451.4" fill="none" stroke="#d4e9f7" stroke-width="2.83" stroke-opacity="0.5" stroke-linejoin="round" stroke-linecap="round"/>
<path d="M124.3,439.7L124.5,440.2L124.9,440.5" fill="none" stroke="#3d8fe8" stroke-width="1.09" stroke-opacity="0.85" stroke-linejoin="round" stroke-linecap="round"/>
<path d="M122.4,439.9L121.5,440.9L120.0,442.6" fill="none" stroke="#3d8fe8" stroke-width="0.91" stroke-opacity="0.85" stroke-linejoin="round" stroke-linecap="round"/>
<path d="M123.7,443.9L123.2,445.0L122.6,445.6" fill="none" stroke="#3d8fe8" stroke-width="1.34" stroke-opacity="0.85" stroke-linejoin="round" stroke-linecap="round"/>
<path d="M117.6,446.4L117.6,447.9L118.1,448.6" fill="none" stroke="#3d8fe8" stroke-width="1.18" stroke-opacity="0.85" stroke-linejoin="round" stroke-linecap="round"/>
<path d="M121.0,439.6L122.0,440.8L122.7,442.4" fill="none" stroke="#1a66d6" stroke-width="0.84" stroke-opacity="0.95" stroke-linejoin="round" stroke-linecap="round"/>
<path d="M121.1,447.4L119.9,447.1L120.2,448.0" fill="none" stroke="#1a66d6" stroke-width="0.82" stroke-opacity="0.95" stroke-linejoin="round" stroke-linecap="round"/>
<path d="M119.9,445.5L118.7,446.7L118.3,446.4" fill="none" stroke="#1a66d6" stroke-width="1.17" stroke-opacity="0.95" stroke-linejoin="round" stroke-linecap="round"/>
<path d="M138.7,357.9L137.4,361.6" stroke="#5aaae8" stroke-width="1.62" stroke-linecap="round"/>
<path d="M137.2,359.4L136.6,361.4" stroke="#1560d0" stroke-width="1.82" stroke-linecap="round"/>
<path d="M135.5,353.6L136.7,356.2" stroke="#5aaae8" stroke-width="1.30" stroke-linecap="round"/>
<path d="M141.9,352.6L143.7,355.9" stroke="#2f86e6" stroke-width="1.23" stroke-linecap="round"/>
<path d="M144.2,348.4L144.1,350.1" stroke="#1560d0" stroke-width="1.88" stroke-linecap="round"/>
<path d="M132.6,358.4L131.6,359.9" stroke="#1560d0" stroke-width="1.33" stroke-linecap="round"/>
<path d="M143.3,354.7L142.9,356.6" stroke="#5aaae8" stroke-width="1.26" stroke-linecap="round"/>
<path d="M144.3,352.2L146.0,354.1" stroke="#1560d0" stroke-width="1.31" stroke-linecap="round"/>
<path d="M135.4,359.1L135.3,362.1" stroke="#5aaae8" stroke-width="1.37" stroke-linecap="round"/>
<path d="M135.2,359.1L135.4,361.3" stroke="#2f86e6" stroke-width="1.48" stroke-linecap="round"/>
<path d="M137.5,350.2L135.4,353.6" stroke="#2f86e6" stroke-width="1.78" stroke-linecap="round"/>
<path d="M132.6,358.6L133.4,361.5" stroke="#1560d0" stroke-width="1.46" stroke-linecap="round"/>
<path d="M140.3,356.0L139.4,357.5" stroke="#1560d0" stroke-width="1.84" stroke-linecap="round"/>
<path d="M144.3,351.6L145.1,354.3" stroke="#2f86e6" stroke-width="1.19" stroke-linecap="round"/>
<path d="M139.6,358.8L139.0,360.1" stroke="#1560d0" stroke-width="1.27" stroke-linecap="round"/>
<path d="M140.1,351.9L141.2,353.7" stroke="#5aaae8" stroke-width="1.54" stroke-linecap="round"/>
<path d="M138.4,351.2L139.2,352.6" stroke="#1560d0" stroke-width="1.68" stroke-linecap="round"/>
<path d="M137.3,353.8L137.0,355.4" stroke="#5aaae8" stroke-width="1.53" stroke-linecap="round"/>
<path d="M139.8,349.9L139.6,353.6" stroke="#2f86e6" stroke-width="1.62" stroke-linecap="round"/>
<path d="M132.6,361.6L132.2,365.2" stroke="#2f86e6" stroke-width="1.77" stroke-linecap="round"/>
<path d="M134.0,357.7L132.4,360.3" stroke="#2f86e6" stroke-width="1.19" stroke-linecap="round"/>
<path d="M140.7,348.6L139.8,350.6" stroke="#2f86e6" stroke-width="1.84" stroke-linecap="round"/>
<path d="M142.3,348.9L142.5,352.9" stroke="#5aaae8" stroke-width="1.68" stroke-linecap="round"/>
<path d="M140.2,350.8L140.6,352.5" stroke="#2f86e6" stroke-width="1.76" stroke-linecap="round"/>
<path d="M141.4,349.0L139.5,352.2" stroke="#1560d0" stroke-width="1.17" stroke-linecap="round"/>
<path d="M135.1,358.5L134.1,360.6" stroke="#2f86e6" stroke-width="1.66" stroke-linecap="round"/>
<path d="M139.0,358.2L139.9,361.4" stroke="#2f86e6" stroke-width="1.77" stroke-linecap="round"/>
<path d="M133.8,361.7L132.8,365.5" stroke="#2f86e6" stroke-width="1.62" stroke-linecap="round"/>
<path d="M142.9,346.4L143.0,348.4" stroke="#5aaae8" stroke-width="1.32" stroke-linecap="round"/>
<path d="M137.0,354.1L136.6,356.4" stroke="#2f86e6" stroke-width="1.62" stroke-linecap="round"/>
<path d="M139.3,359.2L140.3,362.8" stroke="#5aaae8" stroke-width="1.46" stroke-linecap="round"/>
<path d="M138.8,351.5L141.0,354.9" stroke="#1560d0" stroke-width="1.77" stroke-linecap="round"/>
<path d="M143.4,353.7L142.8,357.0" stroke="#5aaae8" stroke-width="1.43" stroke-linecap="round"/>
<path d="M137.4,360.9L137.6,364.9" stroke="#2f86e6" stroke-width="1.60" stroke-linecap="round"/>
<path d="M46.6,362.6C48.1,358.8 49.3,355.3 50.6,351.9C51.9,348.5 53.1,345.0 54.5,342.1C55.9,339.2 57.3,336.8 59.1,334.3C61.0,331.8 63.3,329.3 65.7,327.1C68.1,324.9 71.0,322.9 73.6,321.2C76.2,319.6 78.8,318.3 81.4,317.3C84.1,316.3 86.6,315.7 89.3,315.1C92.0,314.5 95.1,314.1 97.9,313.8C100.6,313.5 103.1,313.3 105.7,313.4C108.3,313.6 111.0,314.1 113.6,314.7C116.3,315.4 119.1,316.2 121.5,317.3C123.9,318.4 126.1,319.8 128.0,321.2C130.0,322.6 131.9,324.2 133.3,325.8C134.7,327.4 135.7,329.4 136.6,331.0C137.5,332.6 137.8,334.2 138.5,335.6C139.3,337.0 140.1,338.4 141.2,339.5C142.3,340.6 143.6,341.6 145.1,342.1C146.7,342.6 148.6,342.7 150.4,342.5C152.1,342.3 154.3,341.2 155.6,340.9C157.0,340.7 157.7,340.8 158.5,341.1C159.4,341.4 160.2,341.6 160.7,342.6C161.3,343.7 161.7,345.8 161.8,347.6C162.0,349.4 161.4,351.9 161.7,353.6C162.0,355.3 162.9,356.2 163.7,357.6C164.5,358.9 166.5,360.3 166.5,361.6C166.5,362.9 164.6,363.6 163.7,365.6C162.7,367.6 161.9,370.6 160.7,373.6C159.5,376.6 158.0,380.5 156.7,383.5C155.3,386.5 153.9,389.4 152.7,391.5C151.4,393.7 149.2,394.7 149.0,396.5C148.8,398.3 150.0,401.0 151.6,402.5C153.2,404.0 157.0,404.3 158.6,405.5C160.3,406.6 161.5,407.8 161.7,409.5C161.9,411.1 160.7,413.1 159.7,415.5C158.7,417.8 157.0,420.9 155.7,423.5C154.4,426.1 152.9,428.6 151.7,431.1C150.5,433.6 148.8,436.5 148.4,438.6C147.9,440.7 149.3,442.3 149.1,443.8C148.9,445.3 147.9,446.7 147.1,447.7C146.2,448.7 144.8,449.7 143.8,449.6C142.9,449.5 142.3,447.6 141.2,447.0C140.1,446.5 138.5,446.0 137.2,446.4C135.9,446.9 134.3,448.3 133.3,449.6C132.3,450.9 131.5,452.7 131.4,454.2C131.2,455.7 132.7,457.3 132.2,458.8C131.8,460.3 130.3,461.8 128.7,463.3C127.2,464.8 125.1,466.7 122.8,467.9C120.5,469.1 117.8,469.9 114.9,470.5C112.1,471.1 108.6,471.5 105.7,471.5C102.9,471.5 99.9,470.8 97.9,470.5C95.8,470.2 95.3,470.5 93.2,469.9C91.2,469.2 88.2,467.9 85.4,466.6C82.5,465.3 79.5,463.7 76.2,462.0C72.9,460.4 69.2,458.8 65.7,456.8C62.2,454.9 58.5,452.9 55.2,450.3C51.9,447.7 48.6,444.3 46.0,441.2C43.4,438.2 41.2,434.9 39.4,432.0C37.6,429.2 36.3,427.7 35.5,424.2C34.6,420.6 34.3,415.1 34.2,410.9C34.1,406.7 34.3,403.0 34.9,399.1C35.4,395.2 36.3,391.5 37.5,387.4C38.7,383.3 40.5,378.5 42.0,374.3C43.5,370.2 45.2,366.3 46.6,362.6Z" fill="none" stroke="#00ff00" stroke-width="1.25" stroke-linecap="butt" stroke-linejoin="round"/>
<path d="M162.6,339.6C163.2,340.3 165.1,342.3 165.7,343.6C166.3,344.9 166.2,346.9 166.3,347.6" fill="none" stroke="#00ff00" stroke-width="1.25" stroke-linecap="butt" stroke-linejoin="round"/>
<path d="M167.7,385.6C167.6,386.6 166.9,390.5 166.7,391.5" fill="none" stroke="#00ff00" stroke-width="1.25" stroke-linecap="butt" stroke-linejoin="round"/>
<path d="M164.3,400.5C164.1,401.0 163.6,402.5 163.2,403.7C162.8,404.9 161.9,406.8 161.7,407.5" fill="none" stroke="#00ff00" stroke-width="1.25" stroke-linecap="butt" stroke-linejoin="round"/>
<path d="M163.5,379.3C163.5,379.4 163.8,379.8 163.9,379.9" fill="none" stroke="#00ff00" stroke-width="1.25" stroke-linecap="butt" stroke-linejoin="round"/>
<path d="M162.1,391.2C162.2,391.3 162.4,391.8 162.5,391.9" fill="none" stroke="#00ff00" stroke-width="1.25" stroke-linecap="butt" stroke-linejoin="round"/>
<path d="M34.4,424.4C34.2,422.2 33.2,415.2 33.1,410.9C33.0,406.7 33.2,402.9 33.8,399.0C34.3,395.0 35.2,391.3 36.4,387.1C37.6,382.9 39.5,378.1 41.0,374.0C42.5,369.8 44.2,365.9 45.6,362.2C47.0,358.4 48.2,354.9 49.5,351.5C50.9,348.1 52.1,344.6 53.5,341.6C55.0,338.6 56.3,336.2 58.2,333.6C60.1,331.1 62.5,328.5 64.9,326.3C67.4,324.1 70.3,322.0 73.0,320.3C75.7,318.6 78.4,317.3 81.0,316.3C83.7,315.3 86.3,314.7 89.1,314.1C91.9,313.5 95.0,313.0 97.7,312.7C100.5,312.5 103.1,312.2 105.8,312.3C108.5,312.5 111.2,313.0 113.9,313.7C116.6,314.3 119.5,315.2 122.0,316.3C124.4,317.4 126.4,319.3 128.7,320.3C131.0,321.3 133.4,321.3 135.8,322.2C138.2,323.2 140.7,324.7 143.1,325.8C145.6,326.9 148.1,327.8 150.4,329.1C152.7,330.4 154.9,332.0 156.9,333.6C159.0,335.2 160.8,337.0 162.6,338.7C164.5,340.4 167.0,343.0 167.8,343.8" fill="none" stroke="#00ff00" stroke-width="1.35" stroke-linecap="butt" stroke-linejoin="round" stroke-dasharray="9 8.3" stroke-dashoffset="5"/>
<path d="M105.7,472.6C104.4,472.4 99.8,471.9 97.7,471.6C95.6,471.3 95.0,471.6 92.9,470.9C90.8,470.3 87.8,468.9 84.9,467.6C82.0,466.3 79.0,464.6 75.7,463.0C72.4,461.4 68.7,459.7 65.1,457.8C61.6,455.8 57.8,453.8 54.5,451.2C51.2,448.5 47.9,445.0 45.2,441.9C42.5,438.8 40.3,435.5 38.5,432.6C36.7,429.7 35.1,425.8 34.4,424.4" fill="none" stroke="#00ff00" stroke-width="1.35" stroke-linecap="butt" stroke-linejoin="round" stroke-dasharray="9 8.3" stroke-dashoffset="2"/>
<path d="M131.4,454.2C131.5,455.0 132.7,457.3 132.2,458.8C131.8,460.3 130.3,461.8 128.7,463.3C127.2,464.8 125.1,466.7 122.8,467.9C120.5,469.1 117.8,469.9 114.9,470.5C112.1,471.1 108.6,471.5 105.7,471.5C102.9,471.5 99.9,470.8 97.9,470.5C95.8,470.2 95.3,470.5 93.2,469.9C91.2,469.2 88.2,467.9 85.4,466.6C82.5,465.3 79.5,463.7 76.2,462.0C72.9,460.4 69.2,458.8 65.7,456.8C62.2,454.9 58.5,452.9 55.2,450.3C51.9,447.7 47.5,442.7 46.0,441.2" fill="none" stroke="#00ff00" stroke-width="2.0" stroke-linecap="butt" stroke-linejoin="round"/>
<path d="M69.0,362.6C70.5,358.8 71.1,356.1 72.3,353.2C73.5,350.3 74.7,347.8 76.2,345.4C77.7,343.0 79.5,340.7 81.4,338.8C83.4,337.0 85.3,335.5 88.0,334.3C90.7,333.1 94.9,332.0 97.9,331.7C100.8,331.4 103.1,331.8 105.7,332.3C108.3,332.8 111.0,333.6 113.6,334.6C116.3,335.7 118.9,337.2 121.5,338.8C124.1,340.4 126.7,342.3 129.4,344.1C132.0,345.8 135.0,347.8 137.2,349.3C139.4,350.8 140.8,351.7 142.5,353.2C144.3,354.7 146.4,356.6 147.8,358.4C149.1,360.2 150.3,362.0 150.6,364.0C150.9,366.0 150.3,367.8 149.7,370.4C149.1,373.0 147.9,376.6 147.1,379.6C146.2,382.7 145.3,385.7 144.5,388.7C143.6,391.7 142.7,395.0 141.8,397.8C141.0,400.6 140.2,403.1 139.2,405.7C138.2,408.3 137.0,410.4 135.9,413.5C134.8,416.6 133.8,420.2 132.7,424.2C131.6,428.1 130.4,433.8 129.4,437.2C128.3,440.7 127.6,443.0 126.1,445.1C124.6,447.2 122.6,448.9 120.2,449.9C117.8,450.9 114.2,451.2 111.6,451.3C109.1,451.3 107.0,450.5 104.7,450.1C102.4,449.7 100.9,449.6 97.9,448.9C94.8,448.2 89.9,446.9 86.7,445.7C83.5,444.6 81.7,443.3 78.8,441.8C76.0,440.3 72.4,438.5 69.6,436.6C66.7,434.8 63.8,432.8 61.7,430.7C59.7,428.7 58.5,426.7 57.2,424.2C55.9,421.8 54.5,418.8 53.9,416.1C53.2,413.4 53.1,410.9 53.2,408.3C53.3,405.7 53.6,403.7 54.5,400.4C55.4,397.2 57.1,392.8 58.5,388.7C59.9,384.6 61.3,380.0 63.0,375.6C64.8,371.3 67.4,366.3 69.0,362.6Z" fill="none" stroke="#ccff00" stroke-width="1.35" stroke-linecap="butt" stroke-linejoin="round"/>
<path d="M66.6,361.6C68.1,357.9 68.7,355.1 69.9,352.2C71.2,349.3 72.5,346.6 74.1,344.1C75.7,341.5 77.6,339.1 79.8,337.1C82.0,335.1 84.1,333.5 87.1,332.2C90.1,331.0 94.4,329.9 97.6,329.5C100.8,329.2 103.3,329.6 106.1,330.1C108.9,330.6 111.8,331.4 114.5,332.5C117.3,333.6 120.1,335.1 122.8,336.7C125.5,338.3 128.1,340.2 130.8,342.0C133.4,343.7 136.4,345.7 138.7,347.2C140.9,348.7 142.4,349.6 144.3,351.2C146.2,352.8 148.5,354.6 150.1,356.7C151.7,358.7 153.4,361.1 153.8,363.5C154.3,365.9 153.5,368.3 152.9,371.1C152.3,374.0 151.1,377.4 150.2,380.5C149.3,383.6 148.5,386.6 147.6,389.6C146.7,392.6 145.8,395.9 144.9,398.8C144.1,401.6 143.2,404.2 142.2,406.8C141.2,409.5 140.0,411.5 139.0,414.6C137.9,417.6 136.9,421.1 135.8,425.0C134.7,429.0 133.7,434.6 132.5,438.2C131.3,441.9 130.5,444.5 128.6,446.9C126.8,449.3 124.1,451.3 121.3,452.5C118.5,453.7 114.5,454.0 111.7,454.0C108.8,454.1 106.7,453.2 104.3,452.8C101.9,452.4 100.3,452.3 97.2,451.5C94.1,450.8 89.0,449.5 85.7,448.3C82.5,447.1 80.5,445.8 77.5,444.2C74.6,442.7 71.1,440.8 68.1,438.9C65.2,437.0 62.0,434.9 59.8,432.6C57.6,430.4 56.3,428.1 54.8,425.5C53.4,422.8 52.0,419.6 51.3,416.7C50.6,413.8 50.5,411.0 50.6,408.2C50.7,405.4 51.1,403.1 52.0,399.7C52.9,396.4 54.6,392.1 56.1,387.9C57.5,383.7 58.9,379.1 60.7,374.7C62.4,370.3 65.1,365.4 66.6,361.6Z" fill="none" stroke="#ccff00" stroke-width="1.35" stroke-linecap="butt" stroke-linejoin="round" stroke-dasharray="9 8.3" stroke-dashoffset="8"/>
<path d="M83.7,362.6C84.7,359.6 84.5,359.2 85.3,357.5C86.1,355.8 87.1,354.1 88.4,352.7C89.8,351.3 91.5,349.9 93.4,348.9C95.4,348.0 98.0,347.3 100.2,347.1C102.4,346.9 104.3,346.9 106.4,347.5C108.5,348.1 110.6,349.4 112.8,350.7C115.1,351.9 117.7,353.8 119.9,355.1C122.1,356.4 124.2,357.4 126.1,358.5C128.1,359.6 130.2,360.5 131.6,361.6C133.1,362.7 134.0,363.9 134.7,365.4C135.5,366.8 135.8,368.5 136.0,370.2C136.1,371.9 136.0,373.4 135.8,375.6C135.5,377.9 135.0,380.9 134.4,383.9C133.8,386.8 133.1,390.4 132.2,393.3C131.4,396.2 130.2,398.5 129.2,401.0C128.3,403.4 127.5,405.3 126.6,407.8C125.7,410.3 124.7,413.3 123.7,416.0C122.7,418.7 121.9,421.9 120.8,424.0C119.7,426.1 118.6,427.4 117.2,428.7C115.7,430.0 114.1,430.9 112.3,431.6C110.5,432.3 108.8,432.8 106.4,432.9C104.0,432.9 100.5,432.1 97.9,431.8C95.2,431.4 93.4,431.3 90.6,430.7C87.9,430.1 84.2,429.2 81.4,428.1C78.7,427.1 76.3,426.2 74.2,424.2C72.1,422.2 70.1,418.8 69.0,416.1C67.9,413.4 67.4,410.9 67.7,408.3C67.9,405.7 69.2,403.7 70.5,400.4C71.7,397.2 73.6,392.8 75.1,388.7C76.6,384.6 78.2,380.0 79.7,375.6C81.1,371.3 82.8,365.7 83.7,362.6Z" fill="none" stroke="#ffa000" stroke-width="1.35" stroke-linecap="butt" stroke-linejoin="round"/>
<path d="M80.1,361.5C81.1,358.4 81.0,357.8 82.0,355.9C82.9,354.1 84.2,352.0 85.9,350.4C87.6,348.7 89.8,347.2 92.1,346.1C94.4,345.1 97.3,344.4 99.9,344.2C102.4,343.9 104.8,344.0 107.2,344.6C109.7,345.2 112.0,346.6 114.4,347.9C116.8,349.2 119.4,351.0 121.6,352.3C123.8,353.7 125.7,354.6 127.7,355.7C129.7,356.9 132.0,357.7 133.7,359.0C135.5,360.3 137.1,361.9 138.1,363.7C139.1,365.5 139.7,367.7 139.9,369.8C140.2,371.8 140.0,373.6 139.7,376.1C139.4,378.6 138.9,381.6 138.3,384.6C137.7,387.7 136.9,391.5 136.0,394.4C135.1,397.4 133.8,399.9 132.8,402.4C131.9,404.8 131.2,406.6 130.3,409.1C129.4,411.6 128.4,414.6 127.4,417.3C126.4,420.1 125.5,423.4 124.2,425.7C122.9,428.0 121.3,429.8 119.5,431.3C117.8,432.8 115.7,433.9 113.5,434.7C111.3,435.5 109.1,436.0 106.4,436.0C103.7,436.1 100.2,435.3 97.4,434.9C94.7,434.5 92.8,434.5 89.9,433.8C87.1,433.2 83.3,432.3 80.2,431.2C77.2,430.0 74.2,429.0 71.8,426.7C69.3,424.5 66.8,420.6 65.5,417.5C64.2,414.4 63.6,411.0 63.8,407.9C64.1,404.9 65.7,402.5 67.0,399.1C68.3,395.7 70.1,391.5 71.6,387.4C73.1,383.3 74.6,378.8 76.1,374.5C77.5,370.2 79.1,364.6 80.1,361.5Z" fill="none" stroke="#ffa000" stroke-width="1.35" stroke-linecap="butt" stroke-linejoin="round" stroke-dasharray="9 8.3" stroke-dashoffset="3"/>
<path d="M99.9,415.3C99.5,415.5 95.4,414.5 93.0,414.1C90.6,413.7 87.3,413.4 85.4,412.8C83.6,412.2 82.7,411.4 82.0,410.5C81.3,409.7 81.1,408.6 81.3,407.5C81.6,406.3 82.4,406.0 83.5,403.7C84.6,401.4 86.4,397.2 87.7,393.8C89.1,390.4 90.6,386.7 91.6,383.2C92.7,379.7 93.4,375.8 94.3,372.8C95.1,369.8 96.0,367.0 96.8,365.2C97.6,363.4 98.0,362.6 98.9,361.9C99.7,361.1 100.8,360.6 101.9,360.6C102.9,360.6 104.2,361.1 105.2,361.9C106.3,362.6 107.5,363.9 108.2,365.2C108.9,366.6 109.0,367.3 109.2,369.8C109.4,372.4 109.4,377.1 109.4,380.4C109.5,383.8 110.0,387.6 109.6,390.0C109.2,392.5 108.1,393.7 107.2,395.1C106.2,396.6 105.6,397.3 104.1,398.6C102.5,399.9 99.6,401.7 97.9,403.0C96.1,404.3 94.3,405.2 93.4,406.3C92.4,407.4 91.7,408.7 92.1,409.9C92.4,411.0 94.1,412.2 95.4,413.2C96.8,414.1 100.3,415.2 99.9,415.3Z" fill="none" stroke="#ff5500" stroke-width="1.35" stroke-linecap="butt" stroke-linejoin="round"/>
<path d="M102.7,417.7C101.0,418.8 99.2,418.9 96.7,418.8C94.1,418.6 89.8,417.6 87.4,417.1C85.0,416.5 83.7,416.2 82.3,415.3C81.0,414.5 79.7,413.2 79.1,411.9C78.5,410.6 78.2,409.0 78.6,407.5C78.9,405.9 79.9,405.2 81.0,402.7C82.1,400.1 83.9,395.7 85.1,392.1C86.3,388.5 87.4,384.3 88.4,381.1C89.4,377.9 90.1,375.5 91.0,372.8C91.9,370.0 93.0,366.5 93.9,364.4C94.7,362.3 95.3,361.3 96.1,360.2C97.0,359.2 97.8,358.6 98.9,358.1C100.0,357.7 101.3,357.4 102.7,357.6C104.0,357.8 105.1,358.3 106.9,359.4C108.7,360.5 111.8,362.5 113.6,364.0C115.5,365.5 117.2,367.1 118.2,368.5C119.2,369.8 119.4,370.6 119.5,372.2C119.6,373.9 119.2,375.8 118.5,378.4C117.9,381.0 116.5,385.2 115.6,388.0C114.8,390.8 114.5,392.7 113.6,395.2C112.7,397.7 111.4,400.2 110.3,403.0C109.2,405.8 108.3,409.7 107.0,412.2C105.8,414.6 104.4,416.6 102.7,417.7Z" fill="none" stroke="#ff5500" stroke-width="1.35" stroke-linecap="butt" stroke-linejoin="round" stroke-dasharray="9 8.3" stroke-dashoffset="0"/>
<circle cx="92.6" cy="406.2" r="2.0" fill="#f5821f"/>
<circle cx="98.5" cy="406.1" r="2.0" fill="#f5821f"/>
<circle cx="106.4" cy="414.4" r="2.0" fill="#f5821f"/>
<circle cx="98.1" cy="398.5" r="2.0" fill="#c9147f"/>
<circle cx="92.6" cy="409.2" r="2.0" fill="#c9147f"/>
<circle cx="93.0" cy="409.5" r="2.0" fill="#c9147f"/>
<circle cx="96.3" cy="413.4" r="2.0" fill="#c9147f"/>
<circle cx="94.4" cy="411.6" r="2.0" fill="#c9147f"/>
<circle cx="84.5" cy="421.8" r="2.0" fill="#c9147f"/>
<circle cx="91.6" cy="424.4" r="2.0" fill="#c9147f"/>
<circle cx="90.6" cy="422.2" r="2.0" fill="#c9147f"/>
<circle cx="112.9" cy="384.9" r="6" fill="url(#shd2)"/>
<polygon points="108.74,377.74 109.78,380.51 112.74,380.64 110.42,382.48 111.21,385.34 108.74,383.70 106.28,385.34 107.07,382.48 104.75,380.64 107.71,380.51" fill="#ee1c1c"/>
</g>
<g clip-path="url(#cs1)">
<rect x="260.4" y="455.2" width="4.2" height="4.2" fill="#fdd9a8" opacity="0.9"/>
<rect x="260.4" y="459.2" width="4.2" height="4.2" fill="#fde7c0" opacity="0.9"/>
<rect x="264.4" y="455.2" width="4.2" height="4.2" fill="#e8f5dc" opacity="0.9"/>
<rect x="264.4" y="459.2" width="4.2" height="4.2" fill="#e8f5dc" opacity="0.9"/>
<rect x="269.0" y="462.9" width="4.2" height="3.2" fill="#bfe2ea" opacity="0.9"/>
<rect x="269.0" y="465.9" width="4.2" height="3.2" fill="#d9efe0" opacity="0.9"/>
<rect x="273.0" y="462.9" width="4.2" height="3.2" fill="#fdd9a8" opacity="0.9"/>
<rect x="273.0" y="465.9" width="4.2" height="3.2" fill="#bfe2ea" opacity="0.9"/>
<rect x="276.6" y="458.6" width="4.2" height="3.6" fill="#fff6c8" opacity="0.9"/>
<rect x="276.6" y="461.9" width="4.2" height="3.6" fill="#fdd9a8" opacity="0.9"/>
<rect x="276.6" y="465.3" width="4.2" height="3.6" fill="#fff6c8" opacity="0.9"/>
<rect x="280.6" y="461.9" width="4.2" height="3.6" fill="#bfe2ea" opacity="0.9"/>
<rect x="244.4" y="462.0" width="3.5" height="3.2" fill="#e8f5dc" opacity="0.9"/>
<rect x="247.7" y="462.0" width="3.5" height="3.2" fill="#d9efe0" opacity="0.9"/>
<rect x="247.7" y="465.0" width="3.5" height="3.2" fill="#d9efe0" opacity="0.9"/>
<rect x="251.1" y="462.0" width="3.5" height="3.2" fill="#fde7c0" opacity="0.9"/>
<rect x="251.1" y="465.0" width="3.5" height="3.2" fill="#fff6c8" opacity="0.9"/>
<rect x="270.9" y="478.0" width="3.2" height="4.7" fill="#fff9d8" opacity="0.9"/>
<rect x="273.9" y="478.0" width="3.2" height="4.7" fill="#e8f5dc" opacity="0.9"/>
<rect x="285.2" y="478.0" width="3.7" height="3.2" fill="#fff9d8" opacity="0.9"/>
<rect x="285.2" y="481.0" width="3.7" height="3.2" fill="#fff6c8" opacity="0.9"/>
<rect x="288.7" y="478.0" width="3.7" height="3.2" fill="#a4d3ea" opacity="0.9"/>
<rect x="288.7" y="481.0" width="3.7" height="3.2" fill="#fdd9a8" opacity="0.9"/>
<rect x="299.4" y="424.8" width="4.0" height="4.5" fill="#fff9d8" opacity="0.9"/>
<rect x="299.4" y="429.1" width="4.0" height="4.5" fill="#fff6c8" opacity="0.9"/>
<rect x="299.4" y="433.5" width="4.0" height="4.5" fill="#fdd9a8" opacity="0.9"/>
<rect x="303.1" y="424.8" width="4.0" height="4.5" fill="#d9efe0" opacity="0.9"/>
<rect x="303.1" y="433.5" width="4.0" height="4.5" fill="#fff9d8" opacity="0.9"/>
<rect x="273.4" y="418.0" width="4.2" height="4.2" fill="#fde7c0" opacity="0.9"/>
<rect x="273.4" y="422.0" width="4.2" height="4.2" fill="#fff6c8" opacity="0.9"/>
<rect x="277.4" y="418.0" width="4.2" height="4.2" fill="#bfe2ea" opacity="0.9"/>
<rect x="277.4" y="422.0" width="4.2" height="4.2" fill="#a4d3ea" opacity="0.9"/>
<rect x="306.0" y="391.6" width="4.7" height="3.8" fill="#fdd9a8" opacity="0.9"/>
<rect x="306.0" y="395.2" width="4.7" height="3.8" fill="#fde7c0" opacity="0.9"/>
<rect x="306.0" y="398.8" width="4.7" height="3.8" fill="#fdd9a8" opacity="0.9"/>
<rect x="306.0" y="402.4" width="4.7" height="3.8" fill="#a4d3ea" opacity="0.9"/>
<rect x="310.5" y="388.0" width="4.7" height="3.8" fill="#e8f5dc" opacity="0.9"/>
<rect x="310.5" y="391.6" width="4.7" height="3.8" fill="#d9efe0" opacity="0.9"/>
<rect x="310.5" y="395.2" width="4.7" height="3.8" fill="#fdd9a8" opacity="0.9"/>
<rect x="310.5" y="398.8" width="4.7" height="3.8" fill="#bfe2ea" opacity="0.9"/>
<rect x="310.5" y="402.4" width="4.7" height="3.8" fill="#fde7c0" opacity="0.9"/>
<rect x="300.0" y="416.0" width="4.7" height="3.7" fill="#fdd9a8" opacity="0.9"/>
<rect x="300.0" y="419.5" width="4.7" height="3.7" fill="#fde7c0" opacity="0.9"/>
<rect x="300.0" y="423.0" width="4.7" height="3.7" fill="#bfe2ea" opacity="0.9"/>
<rect x="300.0" y="426.5" width="4.7" height="3.7" fill="#fdd9a8" opacity="0.9"/>
<rect x="300.0" y="430.0" width="4.7" height="3.7" fill="#d9efe0" opacity="0.9"/>
<rect x="304.5" y="416.0" width="4.7" height="3.7" fill="#a4d3ea" opacity="0.9"/>
<rect x="304.5" y="419.5" width="4.7" height="3.7" fill="#bfe2ea" opacity="0.9"/>
<rect x="304.5" y="423.0" width="4.7" height="3.7" fill="#e8f5dc" opacity="0.9"/>
<rect x="304.5" y="426.5" width="4.7" height="3.7" fill="#fdd9a8" opacity="0.9"/>
<rect x="304.5" y="430.0" width="4.7" height="3.7" fill="#e8f5dc" opacity="0.9"/>
<rect x="304.5" y="433.5" width="4.7" height="3.7" fill="#d9efe0" opacity="0.9"/>
<rect x="310.9" y="362.0" width="3.7" height="3.7" fill="#fde7c0" opacity="0.9"/>
<path d="M297.0,381.1L296.7,382.4L296.1,383.5L295.6,385.5L294.9,387.2L294.4,388.3L293.7,390.5L293.9,391.8L293.8,392.5L293.4,394.3L292.8,396.0L292.5,396.8L292.7,398.2" fill="none" stroke="#d4e9f7" stroke-width="2.82" stroke-opacity="0.5" stroke-linejoin="round" stroke-linecap="round"/>
<path d="M293.3,403.3L293.5,404.7L293.5,405.9L293.6,407.6L293.4,408.7L293.0,409.8L292.0,410.8L292.0,411.8L292.0,413.5L291.4,414.2L290.9,415.4" fill="none" stroke="#d4e9f7" stroke-width="2.62" stroke-opacity="0.5" stroke-linejoin="round" stroke-linecap="round"/>
<path d="M288.6,405.4L288.3,406.6L288.4,407.6L288.2,409.0L288.0,409.9L287.3,411.2L287.6,412.4L287.4,413.5L286.6,414.5L286.8,416.3" fill="none" stroke="#d4e9f7" stroke-width="2.26" stroke-opacity="0.5" stroke-linejoin="round" stroke-linecap="round"/>
<path d="M296.4,387.9L297.0,389.1L297.5,390.5L297.3,391.7L297.8,393.1L297.2,395.0L297.6,396.1L298.0,397.1L297.7,398.7L297.7,400.0L297.2,401.5L297.8,403.4L298.1,404.4" fill="none" stroke="#d4e9f7" stroke-width="3.42" stroke-opacity="0.5" stroke-linejoin="round" stroke-linecap="round"/>
<path d="M295.0,383.9L295.1,385.5L294.8,386.7L294.5,388.6L293.9,389.9L293.3,391.6L292.4,393.0L292.7,393.9L292.5,395.8L292.6,397.2L291.9,398.5L292.0,400.3L291.2,401.1L290.3,402.5L290.0,404.0" fill="none" stroke="#d4e9f7" stroke-width="3.18" stroke-opacity="0.5" stroke-linejoin="round" stroke-linecap="round"/>
<path d="M289.6,401.7L289.0,403.2L288.6,405.0L288.2,405.7L288.1,407.6L287.9,408.8L286.8,409.8L285.9,411.3L285.2,412.5L284.6,413.7L284.1,414.4L283.6,415.9" fill="none" stroke="#d4e9f7" stroke-width="2.90" stroke-opacity="0.5" stroke-linejoin="round" stroke-linecap="round"/>
<path d="M290.6,409.5L291.3,410.8L293.2,411.6L294.3,413.0" fill="none" stroke="#3d8fe8" stroke-width="1.32" stroke-opacity="0.85" stroke-linejoin="round" stroke-linecap="round"/>
<path d="M297.2,398.1L295.6,398.8L294.2,400.8" fill="none" stroke="#3d8fe8" stroke-width="1.68" stroke-opacity="0.85" stroke-linejoin="round" stroke-linecap="round"/>
<path d="M294.2,405.0L293.9,406.3L293.1,407.5L293.0,409.1" fill="none" stroke="#3d8fe8" stroke-width="0.87" stroke-opacity="0.85" stroke-linejoin="round" stroke-linecap="round"/>
<path d="M295.7,403.0L295.6,404.8L293.8,405.7L293.3,407.1L293.7,408.3L293.3,409.5" fill="none" stroke="#3d8fe8" stroke-width="1.24" stroke-opacity="0.85" stroke-linejoin="round" stroke-linecap="round"/>
<path d="M296.9,401.6L296.6,403.4L297.1,405.0L294.8,405.7L293.5,407.0L291.9,408.4" fill="none" stroke="#3d8fe8" stroke-width="1.43" stroke-opacity="0.85" stroke-linejoin="round" stroke-linecap="round"/>
<path d="M300.0,379.2L300.5,380.2L299.9,382.1L300.2,383.3" fill="none" stroke="#3d8fe8" stroke-width="1.48" stroke-opacity="0.85" stroke-linejoin="round" stroke-linecap="round"/>
<path d="M288.5,410.8L287.6,412.0L286.1,413.8L284.9,414.6" fill="none" stroke="#3d8fe8" stroke-width="1.57" stroke-opacity="0.85" stroke-linejoin="round" stroke-linecap="round"/>
<path d="M288.7,400.2L286.7,402.1L287.2,404.1" fill="none" stroke="#3d8fe8" stroke-width="1.18" stroke-opacity="0.85" stroke-linejoin="round" stroke-linecap="round"/>
<path d="M289.4,376.0L289.8,378.0L289.6,380.3L291.0,382.2" fill="none" stroke="#3d8fe8" stroke-width="1.37" stroke-opacity="0.85" stroke-linejoin="round" stroke-linecap="round"/>
<path d="M298.5,381.0L298.1,382.4L298.2,384.5L298.6,386.1L296.4,387.4L294.7,389.2" fill="none" stroke="#3d8fe8" stroke-width="1.30" stroke-opacity="0.85" stroke-linejoin="round" stroke-linecap="round"/>
<path d="M289.4,404.7L289.4,406.3L289.0,407.3L288.7,408.8L289.2,410.7" fill="none" stroke="#3d8fe8" stroke-width="0.90" stroke-opacity="0.85" stroke-linejoin="round" stroke-linecap="round"/>
<path d="M295.1,378.2L292.9,380.1L292.5,381.8" fill="none" stroke="#3d8fe8" stroke-width="1.43" stroke-opacity="0.85" stroke-linejoin="round" stroke-linecap="round"/>
<path d="M301.1,382.3L300.6,383.4L301.0,385.2" fill="none" stroke="#3d8fe8" stroke-width="1.31" stroke-opacity="0.85" stroke-linejoin="round" stroke-linecap="round"/>
<path d="M296.6,377.3L294.8,379.1L294.9,380.7L294.5,381.7" fill="none" stroke="#1a66d6" stroke-width="1.11" stroke-opacity="0.95" stroke-linejoin="round" stroke-linecap="round"/>
<path d="M292.8,405.9L294.3,407.1L292.9,408.0L293.5,409.5L294.5,410.8L293.6,412.4" fill="none" stroke="#1a66d6" stroke-width="1.30" stroke-opacity="0.95" stroke-linejoin="round" stroke-linecap="round"/>
<path d="M291.3,397.0L292.2,398.2L290.7,399.7L289.7,401.4L290.6,402.7L289.4,403.9" fill="none" stroke="#1a66d6" stroke-width="1.36" stroke-opacity="0.95" stroke-linejoin="round" stroke-linecap="round"/>
<path d="M287.9,393.0L287.5,394.4L287.1,395.1L285.9,396.8L285.9,398.5" fill="none" stroke="#1a66d6" stroke-width="1.13" stroke-opacity="0.95" stroke-linejoin="round" stroke-linecap="round"/>
<path d="M290.2,404.5L289.7,406.0L287.8,407.6L287.7,408.8L287.9,410.1" fill="none" stroke="#1a66d6" stroke-width="0.97" stroke-opacity="0.95" stroke-linejoin="round" stroke-linecap="round"/>
<path d="M289.8,412.4L291.1,413.3L290.1,415.0L290.8,416.0" fill="none" stroke="#1a66d6" stroke-width="0.68" stroke-opacity="0.95" stroke-linejoin="round" stroke-linecap="round"/>
<path d="M299.0,378.0L299.1,379.6L299.9,381.3L299.1,382.4" fill="none" stroke="#1a66d6" stroke-width="1.02" stroke-opacity="0.95" stroke-linejoin="round" stroke-linecap="round"/>
<path d="M298.6,405.3L297.9,407.0L297.0,408.3L296.5,409.4L296.2,410.2L295.7,411.6" fill="none" stroke="#1a66d6" stroke-width="0.82" stroke-opacity="0.95" stroke-linejoin="round" stroke-linecap="round"/>
<path d="M294.9,403.1L294.1,404.6L294.9,406.3" fill="none" stroke="#1a66d6" stroke-width="0.91" stroke-opacity="0.95" stroke-linejoin="round" stroke-linecap="round"/>
<path d="M299.8,405.3L299.5,407.2L299.1,408.3L298.9,409.5L298.4,411.2L298.3,412.4L298.0,413.6L298.0,414.8L297.8,416.6L297.1,418.1L296.8,419.1L296.4,420.5L296.4,422.1L295.8,423.4L294.8,424.8L294.1,426.5L294.3,427.6L293.5,429.3" fill="none" stroke="#d4e9f7" stroke-width="2.16" stroke-opacity="0.5" stroke-linejoin="round" stroke-linecap="round"/>
<path d="M301.0,404.8L300.4,406.6L299.7,407.6L299.7,409.5L299.5,410.8L298.7,411.8L298.3,413.7L298.1,415.0L297.4,416.1L297.8,417.7L297.7,418.6L297.9,419.9L298.1,421.9" fill="none" stroke="#d4e9f7" stroke-width="2.42" stroke-opacity="0.5" stroke-linejoin="round" stroke-linecap="round"/>
<path d="M288.1,426.7L288.1,427.9L287.4,429.3L286.8,431.3L286.7,432.2L286.1,433.6L285.9,435.3L285.0,436.5L285.0,437.9L284.7,439.3L284.1,440.6L283.4,441.6L282.9,443.0L282.2,444.2" fill="none" stroke="#d4e9f7" stroke-width="2.62" stroke-opacity="0.5" stroke-linejoin="round" stroke-linecap="round"/>
<path d="M286.5,433.7L286.0,435.0L285.4,436.4L284.8,437.8L283.8,438.9L283.1,440.6L282.5,441.6L281.5,443.3L281.1,443.9L280.5,445.7L279.8,447.2L279.4,447.9L279.1,449.2" fill="none" stroke="#d4e9f7" stroke-width="2.17" stroke-opacity="0.5" stroke-linejoin="round" stroke-linecap="round"/>
<path d="M291.5,414.4L291.5,416.0L291.5,417.5L291.5,418.9L291.4,420.3L290.8,421.4L290.4,423.0L290.0,423.9L289.7,425.1L288.8,426.5L287.9,427.5L287.1,429.2L287.1,430.2L286.9,431.6L286.5,433.1L286.1,434.8L285.5,435.8L285.3,436.8L284.7,438.5L284.6,439.9" fill="none" stroke="#d4e9f7" stroke-width="2.70" stroke-opacity="0.5" stroke-linejoin="round" stroke-linecap="round"/>
<path d="M294.2,410.1L294.5,411.5L294.4,413.3L293.9,414.7L293.1,415.8L292.5,417.2L292.1,418.3L292.3,419.9L292.2,421.6L292.4,423.3L292.2,424.1L292.2,425.5L292.4,427.1L291.7,428.4L291.2,430.3" fill="none" stroke="#d4e9f7" stroke-width="3.14" stroke-opacity="0.5" stroke-linejoin="round" stroke-linecap="round"/>
<path d="M292.4,431.6L292.3,433.5L291.3,434.8L291.2,435.7L290.8,437.3L289.7,438.4L289.6,439.9L289.4,440.5L288.9,442.1L288.5,443.1L287.8,444.3L287.3,446.1L285.9,447.0L284.7,448.5L284.2,449.3L284.1,451.3" fill="none" stroke="#d4e9f7" stroke-width="2.48" stroke-opacity="0.5" stroke-linejoin="round" stroke-linecap="round"/>
<path d="M291.4,421.5L290.0,422.6L290.2,424.0L288.5,426.0L287.2,427.0L286.4,428.3" fill="none" stroke="#3d8fe8" stroke-width="1.37" stroke-opacity="0.85" stroke-linejoin="round" stroke-linecap="round"/>
<path d="M288.3,417.0L286.8,418.5L285.4,420.3L285.0,421.4L284.8,423.0L283.3,424.3" fill="none" stroke="#3d8fe8" stroke-width="1.30" stroke-opacity="0.85" stroke-linejoin="round" stroke-linecap="round"/>
<path d="M291.7,435.5L293.1,436.7L294.0,437.6L294.4,439.0L294.8,440.4L294.6,441.6" fill="none" stroke="#3d8fe8" stroke-width="1.39" stroke-opacity="0.85" stroke-linejoin="round" stroke-linecap="round"/>
<path d="M297.4,413.2L295.8,414.4L295.6,416.0L295.0,417.9L294.8,418.8L293.6,420.5L293.1,422.3" fill="none" stroke="#3d8fe8" stroke-width="1.38" stroke-opacity="0.85" stroke-linejoin="round" stroke-linecap="round"/>
<path d="M294.6,412.8L294.5,414.8L294.9,415.8L295.1,417.0L294.4,418.7L292.3,419.6L291.2,421.0" fill="none" stroke="#3d8fe8" stroke-width="0.86" stroke-opacity="0.85" stroke-linejoin="round" stroke-linecap="round"/>
<path d="M295.2,420.6L294.7,422.3L293.9,424.0" fill="none" stroke="#3d8fe8" stroke-width="1.66" stroke-opacity="0.85" stroke-linejoin="round" stroke-linecap="round"/>
<path d="M294.4,428.4L295.3,429.9L294.2,431.1L295.1,432.6L293.8,433.7L293.0,435.4L293.5,436.6" fill="none" stroke="#3d8fe8" stroke-width="0.92" stroke-opacity="0.85" stroke-linejoin="round" stroke-linecap="round"/>
<path d="M291.8,419.4L290.1,420.9L288.5,422.4L288.4,423.9L288.6,425.3L286.8,427.0L286.0,428.4L286.6,429.6" fill="none" stroke="#3d8fe8" stroke-width="1.42" stroke-opacity="0.85" stroke-linejoin="round" stroke-linecap="round"/>
<path d="M295.7,412.7L295.5,414.2L295.3,415.6L293.8,416.9L291.4,418.4" fill="none" stroke="#3d8fe8" stroke-width="1.12" stroke-opacity="0.85" stroke-linejoin="round" stroke-linecap="round"/>
<path d="M288.8,433.9L290.1,435.6L289.7,436.7L290.7,438.7" fill="none" stroke="#3d8fe8" stroke-width="1.08" stroke-opacity="0.85" stroke-linejoin="round" stroke-linecap="round"/>
<path d="M300.6,410.1L298.8,411.0L298.6,412.9L299.1,414.0L299.0,415.8" fill="none" stroke="#3d8fe8" stroke-width="1.49" stroke-opacity="0.85" stroke-linejoin="round" stroke-linecap="round"/>
<path d="M291.8,416.5L289.7,417.9L288.6,419.7L287.4,420.9" fill="none" stroke="#3d8fe8" stroke-width="1.52" stroke-opacity="0.85" stroke-linejoin="round" stroke-linecap="round"/>
<path d="M282.2,442.5L281.3,443.3L279.8,444.5L278.3,445.7L278.3,446.9L277.9,448.7L277.8,450.0" fill="none" stroke="#3d8fe8" stroke-width="1.53" stroke-opacity="0.85" stroke-linejoin="round" stroke-linecap="round"/>
<path d="M281.1,443.5L280.2,445.0L278.1,446.2L276.5,447.7" fill="none" stroke="#3d8fe8" stroke-width="1.35" stroke-opacity="0.85" stroke-linejoin="round" stroke-linecap="round"/>
<path d="M295.6,418.6L295.4,419.9L294.5,421.7L294.8,423.5L294.6,424.6" fill="none" stroke="#3d8fe8" stroke-width="0.87" stroke-opacity="0.85" stroke-linejoin="round" stroke-linecap="round"/>
<path d="M292.6,430.1L292.1,431.1L292.0,433.2" fill="none" stroke="#1a66d6" stroke-width="0.89" stroke-opacity="0.95" stroke-linejoin="round" stroke-linecap="round"/>
<path d="M298.3,419.2L298.1,420.4L296.9,422.5L295.1,423.9L294.5,425.8" fill="none" stroke="#1a66d6" stroke-width="1.35" stroke-opacity="0.95" stroke-linejoin="round" stroke-linecap="round"/>
<path d="M293.0,412.3L293.7,413.5L293.1,415.3L291.8,417.2L290.2,418.2L288.4,420.0" fill="none" stroke="#1a66d6" stroke-width="0.79" stroke-opacity="0.95" stroke-linejoin="round" stroke-linecap="round"/>
<path d="M296.6,431.6L294.8,433.1L292.5,434.1L291.2,436.0" fill="none" stroke="#1a66d6" stroke-width="1.11" stroke-opacity="0.95" stroke-linejoin="round" stroke-linecap="round"/>
<path d="M292.7,414.6L291.8,416.5L290.0,417.6L289.4,419.0L288.1,420.4" fill="none" stroke="#1a66d6" stroke-width="1.24" stroke-opacity="0.95" stroke-linejoin="round" stroke-linecap="round"/>
<path d="M289.9,415.2L290.0,417.3L289.6,419.5" fill="none" stroke="#1a66d6" stroke-width="1.09" stroke-opacity="0.95" stroke-linejoin="round" stroke-linecap="round"/>
<path d="M294.1,424.6L294.2,426.8L295.7,427.8L295.0,429.7L294.5,430.5" fill="none" stroke="#1a66d6" stroke-width="0.78" stroke-opacity="0.95" stroke-linejoin="round" stroke-linecap="round"/>
<path d="M298.8,412.3L297.1,414.1L296.3,415.6L295.6,417.3L294.9,419.0" fill="none" stroke="#1a66d6" stroke-width="0.73" stroke-opacity="0.95" stroke-linejoin="round" stroke-linecap="round"/>
<path d="M286.3,438.6L286.6,439.7L287.0,440.8L287.5,442.0L287.9,442.9L286.4,444.6L286.2,445.8" fill="none" stroke="#1a66d6" stroke-width="1.09" stroke-opacity="0.95" stroke-linejoin="round" stroke-linecap="round"/>
<path d="M288.9,437.4L287.3,438.4L286.2,440.0L285.4,441.2L284.4,442.1" fill="none" stroke="#1a66d6" stroke-width="1.22" stroke-opacity="0.95" stroke-linejoin="round" stroke-linecap="round"/>
<path d="M284.6,432.7L282.7,434.1L283.3,435.8L283.0,436.8L282.8,438.7L281.1,439.8L281.4,441.3L280.8,442.3" fill="none" stroke="#1a66d6" stroke-width="1.10" stroke-opacity="0.95" stroke-linejoin="round" stroke-linecap="round"/>
<path d="M296.8,422.4L296.1,423.4L295.9,425.0L296.1,426.4L296.1,428.0L295.8,429.6L295.6,431.4L295.0,432.7L295.0,433.6L294.3,435.1L294.4,436.1L294.5,437.6" fill="none" stroke="#d4e9f7" stroke-width="3.03" stroke-opacity="0.5" stroke-linejoin="round" stroke-linecap="round"/>
<path d="M297.1,415.9L296.9,417.4L296.4,418.7L296.3,420.5L296.6,421.9L296.9,423.2L296.8,424.5L296.5,426.1L296.7,427.6L297.1,429.6L296.9,430.7L296.6,432.5" fill="none" stroke="#d4e9f7" stroke-width="2.82" stroke-opacity="0.5" stroke-linejoin="round" stroke-linecap="round"/>
<path d="M296.7,416.8L297.0,418.2L296.6,420.1L296.4,421.4L296.2,422.7L295.8,424.6L295.9,426.1L295.6,427.8L295.2,429.2L294.7,430.8L294.6,432.3L294.7,433.7L294.9,434.6" fill="none" stroke="#d4e9f7" stroke-width="2.75" stroke-opacity="0.5" stroke-linejoin="round" stroke-linecap="round"/>
<path d="M293.8,443.8L293.3,444.6L292.6,446.4L293.3,447.2" fill="none" stroke="#3d8fe8" stroke-width="1.24" stroke-opacity="0.85" stroke-linejoin="round" stroke-linecap="round"/>
<path d="M295.7,413.7L295.8,415.0L296.9,416.0L296.0,418.1L296.2,419.3L295.7,420.9" fill="none" stroke="#3d8fe8" stroke-width="0.89" stroke-opacity="0.85" stroke-linejoin="round" stroke-linecap="round"/>
<path d="M295.3,443.5L294.0,444.9L293.3,446.9L292.6,447.9" fill="none" stroke="#3d8fe8" stroke-width="1.68" stroke-opacity="0.85" stroke-linejoin="round" stroke-linecap="round"/>
<path d="M299.2,420.3L299.7,422.1L300.0,423.1L300.4,425.5L300.5,427.2" fill="none" stroke="#3d8fe8" stroke-width="0.97" stroke-opacity="0.85" stroke-linejoin="round" stroke-linecap="round"/>
<path d="M297.0,428.2L297.4,429.9L296.6,432.2" fill="none" stroke="#3d8fe8" stroke-width="1.04" stroke-opacity="0.85" stroke-linejoin="round" stroke-linecap="round"/>
<path d="M300.7,425.9L300.1,427.0L300.4,428.7" fill="none" stroke="#3d8fe8" stroke-width="0.96" stroke-opacity="0.85" stroke-linejoin="round" stroke-linecap="round"/>
<path d="M300.8,417.7L299.7,420.1L301.0,421.7" fill="none" stroke="#3d8fe8" stroke-width="1.09" stroke-opacity="0.85" stroke-linejoin="round" stroke-linecap="round"/>
<path d="M295.6,428.8L295.3,429.9L294.3,430.9" fill="none" stroke="#1a66d6" stroke-width="0.75" stroke-opacity="0.95" stroke-linejoin="round" stroke-linecap="round"/>
<path d="M300.7,414.3L300.4,415.9L301.7,416.7" fill="none" stroke="#1a66d6" stroke-width="0.70" stroke-opacity="0.95" stroke-linejoin="round" stroke-linecap="round"/>
<path d="M294.9,427.7L295.1,429.0L294.3,431.0L293.4,432.4L293.8,434.2" fill="none" stroke="#1a66d6" stroke-width="1.27" stroke-opacity="0.95" stroke-linejoin="round" stroke-linecap="round"/>
<path d="M297.7,437.5L296.2,439.1L295.8,440.9" fill="none" stroke="#1a66d6" stroke-width="0.85" stroke-opacity="0.95" stroke-linejoin="round" stroke-linecap="round"/>
<path d="M301.6,421.0L300.7,422.6L302.4,423.9L303.4,426.1" fill="none" stroke="#1a66d6" stroke-width="0.75" stroke-opacity="0.95" stroke-linejoin="round" stroke-linecap="round"/>
<path d="M287.1,434.1L286.4,435.0L286.2,436.0L285.7,437.5L285.3,439.0L284.3,439.9L283.8,441.6" fill="none" stroke="#d4e9f7" stroke-width="2.27" stroke-opacity="0.5" stroke-linejoin="round" stroke-linecap="round"/>
<path d="M284.4,445.2L283.6,446.5L283.1,447.7L283.0,448.8L282.0,449.6L280.9,450.8" fill="none" stroke="#d4e9f7" stroke-width="3.42" stroke-opacity="0.5" stroke-linejoin="round" stroke-linecap="round"/>
<path d="M291.1,434.8L290.1,435.8L289.5,437.4L289.5,438.3L288.4,440.4" fill="none" stroke="#d4e9f7" stroke-width="2.30" stroke-opacity="0.5" stroke-linejoin="round" stroke-linecap="round"/>
<path d="M288.2,433.1L287.8,434.5L286.3,436.6" fill="none" stroke="#3d8fe8" stroke-width="1.68" stroke-opacity="0.85" stroke-linejoin="round" stroke-linecap="round"/>
<path d="M289.6,436.7L288.6,438.1L287.5,438.6" fill="none" stroke="#3d8fe8" stroke-width="1.60" stroke-opacity="0.85" stroke-linejoin="round" stroke-linecap="round"/>
<path d="M292.9,433.0L291.4,433.8L290.8,435.6" fill="none" stroke="#3d8fe8" stroke-width="0.91" stroke-opacity="0.85" stroke-linejoin="round" stroke-linecap="round"/>
<path d="M286.9,435.4L286.5,435.9L284.2,436.7" fill="none" stroke="#3d8fe8" stroke-width="1.64" stroke-opacity="0.85" stroke-linejoin="round" stroke-linecap="round"/>
<path d="M286.1,434.4L284.2,434.8L284.0,435.6" fill="none" stroke="#3d8fe8" stroke-width="1.65" stroke-opacity="0.85" stroke-linejoin="round" stroke-linecap="round"/>
<path d="M290.3,435.4L290.5,436.7L291.8,438.2" fill="none" stroke="#3d8fe8" stroke-width="1.55" stroke-opacity="0.85" stroke-linejoin="round" stroke-linecap="round"/>
<path d="M283.5,442.1L281.8,443.3L281.2,445.1" fill="none" stroke="#3d8fe8" stroke-width="1.50" stroke-opacity="0.85" stroke-linejoin="round" stroke-linecap="round"/>
<path d="M283.9,447.9L283.2,449.0L284.1,449.8" fill="none" stroke="#1a66d6" stroke-width="0.76" stroke-opacity="0.95" stroke-linejoin="round" stroke-linecap="round"/>
<path d="M288.7,436.7L286.9,437.2L287.1,437.9" fill="none" stroke="#1a66d6" stroke-width="0.77" stroke-opacity="0.95" stroke-linejoin="round" stroke-linecap="round"/>
<path d="M291.3,434.0L289.3,434.2L287.7,435.3" fill="none" stroke="#1a66d6" stroke-width="1.34" stroke-opacity="0.95" stroke-linejoin="round" stroke-linecap="round"/>
<path d="M283.7,438.9L283.6,440.2L284.2,442.2" fill="none" stroke="#1a66d6" stroke-width="1.29" stroke-opacity="0.95" stroke-linejoin="round" stroke-linecap="round"/>
<path d="M282.3,441.1L280.9,443.1L280.4,444.3" fill="none" stroke="#1a66d6" stroke-width="0.86" stroke-opacity="0.95" stroke-linejoin="round" stroke-linecap="round"/>
<path d="M282.2,429.4L281.7,430.6L281.3,432.7L280.8,434.3L280.3,435.4L280.5,437.2L280.7,438.3L280.4,439.6L280.3,441.6" fill="none" stroke="#d4e9f7" stroke-width="2.38" stroke-opacity="0.5" stroke-linejoin="round" stroke-linecap="round"/>
<path d="M282.1,425.3L282.1,426.3L281.6,428.0L280.6,429.2L280.4,430.1L279.7,432.1L278.9,433.3" fill="none" stroke="#d4e9f7" stroke-width="2.78" stroke-opacity="0.5" stroke-linejoin="round" stroke-linecap="round"/>
<path d="M284.1,431.9L283.0,433.3L284.3,434.8" fill="none" stroke="#3d8fe8" stroke-width="1.19" stroke-opacity="0.85" stroke-linejoin="round" stroke-linecap="round"/>
<path d="M281.9,435.7L282.9,437.3L284.2,438.5" fill="none" stroke="#3d8fe8" stroke-width="1.43" stroke-opacity="0.85" stroke-linejoin="round" stroke-linecap="round"/>
<path d="M283.3,429.5L282.2,431.5L282.4,432.6" fill="none" stroke="#3d8fe8" stroke-width="1.44" stroke-opacity="0.85" stroke-linejoin="round" stroke-linecap="round"/>
<path d="M282.2,432.6L282.5,434.8L282.5,436.5L282.5,437.4" fill="none" stroke="#3d8fe8" stroke-width="0.95" stroke-opacity="0.85" stroke-linejoin="round" stroke-linecap="round"/>
<path d="M283.1,437.7L281.9,439.1L280.9,441.3L282.1,442.9" fill="none" stroke="#3d8fe8" stroke-width="1.49" stroke-opacity="0.85" stroke-linejoin="round" stroke-linecap="round"/>
<path d="M279.8,440.3L278.7,442.3L277.2,443.6" fill="none" stroke="#1a66d6" stroke-width="0.70" stroke-opacity="0.95" stroke-linejoin="round" stroke-linecap="round"/>
<path d="M285.6,423.9L286.2,425.2L284.6,426.6" fill="none" stroke="#1a66d6" stroke-width="0.98" stroke-opacity="0.95" stroke-linejoin="round" stroke-linecap="round"/>
<path d="M281.9,428.6L282.8,429.9L281.1,431.3" fill="none" stroke="#1a66d6" stroke-width="1.02" stroke-opacity="0.95" stroke-linejoin="round" stroke-linecap="round"/>
<path d="M292.1,445.3L292.1,446.9L291.3,448.2L291.2,449.3L290.6,450.7" fill="none" stroke="#d4e9f7" stroke-width="3.37" stroke-opacity="0.5" stroke-linejoin="round" stroke-linecap="round"/>
<path d="M289.8,447.5L289.1,448.8L289.1,450.3L289.2,451.4" fill="none" stroke="#d4e9f7" stroke-width="2.83" stroke-opacity="0.5" stroke-linejoin="round" stroke-linecap="round"/>
<path d="M294.7,439.7L294.9,440.2L295.3,440.5" fill="none" stroke="#3d8fe8" stroke-width="1.09" stroke-opacity="0.85" stroke-linejoin="round" stroke-linecap="round"/>
<path d="M292.8,439.9L291.9,440.9L290.4,442.6" fill="none" stroke="#3d8fe8" stroke-width="0.91" stroke-opacity="0.85" stroke-linejoin="round" stroke-linecap="round"/>
<path d="M294.1,443.9L293.6,445.0L293.0,445.6" fill="none" stroke="#3d8fe8" stroke-width="1.34" stroke-opacity="0.85" stroke-linejoin="round" stroke-linecap="round"/>
<path d="M288.0,446.4L288.0,447.9L288.5,448.6" fill="none" stroke="#3d8fe8" stroke-width="1.18" stroke-opacity="0.85" stroke-linejoin="round" stroke-linecap="round"/>
<path d="M291.4,439.6L292.4,440.8L293.1,442.4" fill="none" stroke="#1a66d6" stroke-width="0.84" stroke-opacity="0.95" stroke-linejoin="round" stroke-linecap="round"/>
<path d="M291.5,447.4L290.3,447.1L290.6,448.0" fill="none" stroke="#1a66d6" stroke-width="0.82" stroke-opacity="0.95" stroke-linejoin="round" stroke-linecap="round"/>
<path d="M290.3,445.5L289.1,446.7L288.7,446.4" fill="none" stroke="#1a66d6" stroke-width="1.17" stroke-opacity="0.95" stroke-linejoin="round" stroke-linecap="round"/>
<path d="M309.1,357.9L307.8,361.6" stroke="#5aaae8" stroke-width="1.62" stroke-linecap="round"/>
<path d="M307.6,359.4L307.0,361.4" stroke="#1560d0" stroke-width="1.82" stroke-linecap="round"/>
<path d="M305.9,353.6L307.1,356.2" stroke="#5aaae8" stroke-width="1.30" stroke-linecap="round"/>
<path d="M312.3,352.6L314.1,355.9" stroke="#2f86e6" stroke-width="1.23" stroke-linecap="round"/>
<path d="M314.6,348.4L314.5,350.1" stroke="#1560d0" stroke-width="1.88" stroke-linecap="round"/>
<path d="M303.0,358.4L302.0,359.9" stroke="#1560d0" stroke-width="1.33" stroke-linecap="round"/>
<path d="M313.7,354.7L313.3,356.6" stroke="#5aaae8" stroke-width="1.26" stroke-linecap="round"/>
<path d="M314.7,352.2L316.4,354.1" stroke="#1560d0" stroke-width="1.31" stroke-linecap="round"/>
<path d="M305.8,359.1L305.7,362.1" stroke="#5aaae8" stroke-width="1.37" stroke-linecap="round"/>
<path d="M305.6,359.1L305.8,361.3" stroke="#2f86e6" stroke-width="1.48" stroke-linecap="round"/>
<path d="M307.9,350.2L305.8,353.6" stroke="#2f86e6" stroke-width="1.78" stroke-linecap="round"/>
<path d="M303.0,358.6L303.8,361.5" stroke="#1560d0" stroke-width="1.46" stroke-linecap="round"/>
<path d="M310.7,356.0L309.8,357.5" stroke="#1560d0" stroke-width="1.84" stroke-linecap="round"/>
<path d="M314.7,351.6L315.5,354.3" stroke="#2f86e6" stroke-width="1.19" stroke-linecap="round"/>
<path d="M310.0,358.8L309.4,360.1" stroke="#1560d0" stroke-width="1.27" stroke-linecap="round"/>
<path d="M310.5,351.9L311.6,353.7" stroke="#5aaae8" stroke-width="1.54" stroke-linecap="round"/>
<path d="M308.8,351.2L309.6,352.6" stroke="#1560d0" stroke-width="1.68" stroke-linecap="round"/>
<path d="M307.7,353.8L307.4,355.4" stroke="#5aaae8" stroke-width="1.53" stroke-linecap="round"/>
<path d="M310.2,349.9L310.0,353.6" stroke="#2f86e6" stroke-width="1.62" stroke-linecap="round"/>
<path d="M303.0,361.6L302.6,365.2" stroke="#2f86e6" stroke-width="1.77" stroke-linecap="round"/>
<path d="M304.4,357.7L302.8,360.3" stroke="#2f86e6" stroke-width="1.19" stroke-linecap="round"/>
<path d="M311.1,348.6L310.2,350.6" stroke="#2f86e6" stroke-width="1.84" stroke-linecap="round"/>
<path d="M312.7,348.9L312.9,352.9" stroke="#5aaae8" stroke-width="1.68" stroke-linecap="round"/>
<path d="M310.6,350.8L311.0,352.5" stroke="#2f86e6" stroke-width="1.76" stroke-linecap="round"/>
<path d="M311.8,349.0L309.9,352.2" stroke="#1560d0" stroke-width="1.17" stroke-linecap="round"/>
<path d="M305.5,358.5L304.5,360.6" stroke="#2f86e6" stroke-width="1.66" stroke-linecap="round"/>
<path d="M309.4,358.2L310.3,361.4" stroke="#2f86e6" stroke-width="1.77" stroke-linecap="round"/>
<path d="M304.2,361.7L303.2,365.5" stroke="#2f86e6" stroke-width="1.62" stroke-linecap="round"/>
<path d="M313.3,346.4L313.4,348.4" stroke="#5aaae8" stroke-width="1.32" stroke-linecap="round"/>
<path d="M307.4,354.1L307.0,356.4" stroke="#2f86e6" stroke-width="1.62" stroke-linecap="round"/>
<path d="M309.7,359.2L310.7,362.8" stroke="#5aaae8" stroke-width="1.46" stroke-linecap="round"/>
<path d="M309.2,351.5L311.4,354.9" stroke="#1560d0" stroke-width="1.77" stroke-linecap="round"/>
<path d="M313.8,353.7L313.2,357.0" stroke="#5aaae8" stroke-width="1.43" stroke-linecap="round"/>
<path d="M307.8,360.9L308.0,364.9" stroke="#2f86e6" stroke-width="1.60" stroke-linecap="round"/>
<path d="M217.0,362.6C218.5,358.8 219.7,355.3 221.0,351.9C222.3,348.5 223.5,345.0 224.9,342.1C226.3,339.2 227.7,336.8 229.5,334.3C231.4,331.8 233.7,329.3 236.1,327.1C238.5,324.9 241.4,322.9 244.0,321.2C246.6,319.6 249.2,318.3 251.8,317.3C254.5,316.3 257.0,315.7 259.7,315.1C262.4,314.5 265.5,314.1 268.3,313.8C271.0,313.5 273.5,313.3 276.1,313.4C278.7,313.6 281.4,314.1 284.0,314.7C286.7,315.4 289.5,316.2 291.9,317.3C294.3,318.4 296.5,319.8 298.4,321.2C300.4,322.6 302.3,324.2 303.7,325.8C305.1,327.4 306.1,329.4 307.0,331.0C307.9,332.6 308.2,334.2 308.9,335.6C309.7,337.0 310.5,338.4 311.6,339.5C312.7,340.6 314.0,341.6 315.5,342.1C317.1,342.6 319.0,342.7 320.8,342.5C322.5,342.3 324.7,341.2 326.0,340.9C327.4,340.7 328.1,340.8 328.9,341.1C329.8,341.4 330.6,341.6 331.1,342.6C331.7,343.7 332.1,345.8 332.2,347.6C332.4,349.4 331.8,351.9 332.1,353.6C332.4,355.3 333.3,356.2 334.1,357.6C334.9,358.9 336.9,360.3 336.9,361.6C336.9,362.9 335.0,363.6 334.1,365.6C333.1,367.6 332.3,370.6 331.1,373.6C329.9,376.6 328.4,380.5 327.1,383.5C325.7,386.5 324.3,389.4 323.1,391.5C321.8,393.7 319.6,394.7 319.4,396.5C319.2,398.3 320.4,401.0 322.0,402.5C323.6,404.0 327.4,404.3 329.0,405.5C330.7,406.6 331.9,407.8 332.1,409.5C332.3,411.1 331.1,413.1 330.1,415.5C329.1,417.8 327.4,420.9 326.1,423.5C324.8,426.1 323.3,428.6 322.1,431.1C320.9,433.6 319.2,436.5 318.8,438.6C318.3,440.7 319.7,442.3 319.5,443.8C319.3,445.3 318.3,446.7 317.5,447.7C316.6,448.7 315.2,449.7 314.2,449.6C313.3,449.5 312.7,447.6 311.6,447.0C310.5,446.5 308.9,446.0 307.6,446.4C306.3,446.9 304.7,448.3 303.7,449.6C302.7,450.9 301.9,452.7 301.8,454.2C301.6,455.7 303.1,457.3 302.6,458.8C302.2,460.3 300.7,461.8 299.1,463.3C297.6,464.8 295.5,466.7 293.2,467.9C290.9,469.1 288.2,469.9 285.3,470.5C282.5,471.1 279.0,471.5 276.1,471.5C273.3,471.5 270.3,470.8 268.3,470.5C266.2,470.2 265.7,470.5 263.6,469.9C261.6,469.2 258.6,467.9 255.8,466.6C252.9,465.3 249.9,463.7 246.6,462.0C243.3,460.4 239.6,458.8 236.1,456.8C232.6,454.9 228.9,452.9 225.6,450.3C222.3,447.7 219.0,444.3 216.4,441.2C213.8,438.2 211.6,434.9 209.8,432.0C208.0,429.2 206.7,427.7 205.9,424.2C205.0,420.6 204.7,415.1 204.6,410.9C204.5,406.7 204.7,403.0 205.3,399.1C205.8,395.2 206.7,391.5 207.9,387.4C209.1,383.3 210.9,378.5 212.4,374.3C213.9,370.2 215.6,366.3 217.0,362.6Z" fill="none" stroke="#00ff00" stroke-width="1.25" stroke-linecap="butt" stroke-linejoin="round"/>
<path d="M333.0,339.6C333.6,340.3 335.5,342.3 336.1,343.6C336.7,344.9 336.6,346.9 336.7,347.6" fill="none" stroke="#00ff00" stroke-width="1.25" stroke-linecap="butt" stroke-linejoin="round"/>
<path d="M338.1,385.6C338.0,386.6 337.3,390.5 337.1,391.5" fill="none" stroke="#00ff00" stroke-width="1.25" stroke-linecap="butt" stroke-linejoin="round"/>
<path d="M334.7,400.5C334.5,401.0 334.0,402.5 333.6,403.7C333.2,404.9 332.3,406.8 332.1,407.5" fill="none" stroke="#00ff00" stroke-width="1.25" stroke-linecap="butt" stroke-linejoin="round"/>
<path d="M333.9,379.3C333.9,379.4 334.2,379.8 334.3,379.9" fill="none" stroke="#00ff00" stroke-width="1.25" stroke-linecap="butt" stroke-linejoin="round"/>
<path d="M332.5,391.2C332.6,391.3 332.8,391.8 332.9,391.9" fill="none" stroke="#00ff00" stroke-width="1.25" stroke-linecap="butt" stroke-linejoin="round"/>
<path d="M204.8,424.4C204.6,422.2 203.6,415.2 203.5,410.9C203.4,406.7 203.6,402.9 204.2,399.0C204.7,395.0 205.6,391.3 206.8,387.1C208.0,382.9 209.9,378.1 211.4,374.0C212.9,369.8 214.6,365.9 216.0,362.2C217.4,358.4 218.6,354.9 219.9,351.5C221.3,348.1 222.5,344.6 223.9,341.6C225.4,338.6 226.7,336.2 228.6,333.6C230.5,331.1 232.9,328.5 235.3,326.3C237.8,324.1 240.7,322.0 243.4,320.3C246.1,318.6 248.8,317.3 251.4,316.3C254.1,315.3 256.7,314.7 259.5,314.1C262.3,313.5 265.4,313.0 268.1,312.7C270.9,312.5 273.5,312.2 276.2,312.3C278.9,312.5 281.6,313.0 284.3,313.7C287.0,314.3 289.9,315.2 292.4,316.3C294.8,317.4 296.8,319.3 299.1,320.3C301.4,321.3 303.8,321.3 306.2,322.2C308.6,323.2 311.1,324.7 313.5,325.8C316.0,326.9 318.5,327.8 320.8,329.1C323.1,330.4 325.3,332.0 327.3,333.6C329.4,335.2 331.2,337.0 333.0,338.7C334.9,340.4 337.4,343.0 338.2,343.8" fill="none" stroke="#00ff00" stroke-width="1.35" stroke-linecap="butt" stroke-linejoin="round" stroke-dasharray="9 8.3" stroke-dashoffset="5"/>
<path d="M276.1,472.6C274.8,472.4 270.2,471.9 268.1,471.6C266.0,471.3 265.4,471.6 263.3,470.9C261.2,470.3 258.2,468.9 255.3,467.6C252.4,466.3 249.4,464.6 246.1,463.0C242.8,461.4 239.1,459.7 235.5,457.8C232.0,455.8 228.2,453.8 224.9,451.2C221.6,448.5 218.3,445.0 215.6,441.9C212.9,438.8 210.7,435.5 208.9,432.6C207.1,429.7 205.5,425.8 204.8,424.4" fill="none" stroke="#00ff00" stroke-width="1.35" stroke-linecap="butt" stroke-linejoin="round" stroke-dasharray="9 8.3" stroke-dashoffset="2"/>
<path d="M301.8,454.2C301.9,455.0 303.1,457.3 302.6,458.8C302.2,460.3 300.7,461.8 299.1,463.3C297.6,464.8 295.5,466.7 293.2,467.9C290.9,469.1 288.2,469.9 285.3,470.5C282.5,471.1 279.0,471.5 276.1,471.5C273.3,471.5 270.3,470.8 268.3,470.5C266.2,470.2 265.7,470.5 263.6,469.9C261.6,469.2 258.6,467.9 255.8,466.6C252.9,465.3 249.9,463.7 246.6,462.0C243.3,460.4 239.6,458.8 236.1,456.8C232.6,454.9 228.9,452.9 225.6,450.3C222.3,447.7 217.9,442.7 216.4,441.2" fill="none" stroke="#00ff00" stroke-width="2.0" stroke-linecap="butt" stroke-linejoin="round"/>
<path d="M239.4,362.6C240.9,358.8 241.5,356.1 242.7,353.2C243.9,350.3 245.1,347.8 246.6,345.4C248.1,343.0 249.9,340.7 251.8,338.8C253.8,337.0 255.7,335.5 258.4,334.3C261.1,333.1 265.3,332.0 268.3,331.7C271.2,331.4 273.5,331.8 276.1,332.3C278.7,332.8 281.4,333.6 284.0,334.6C286.7,335.7 289.3,337.2 291.9,338.8C294.5,340.4 297.1,342.3 299.8,344.1C302.4,345.8 305.4,347.8 307.6,349.3C309.8,350.8 311.2,351.7 312.9,353.2C314.7,354.7 316.8,356.6 318.2,358.4C319.5,360.2 320.7,362.0 321.0,364.0C321.3,366.0 320.7,367.8 320.1,370.4C319.5,373.0 318.3,376.6 317.5,379.6C316.6,382.7 315.7,385.7 314.9,388.7C314.0,391.7 313.1,395.0 312.2,397.8C311.4,400.6 310.6,403.1 309.6,405.7C308.6,408.3 307.4,410.4 306.3,413.5C305.2,416.6 304.2,420.2 303.1,424.2C302.0,428.1 300.8,433.8 299.8,437.2C298.7,440.7 298.0,443.0 296.5,445.1C295.0,447.2 293.0,448.9 290.6,449.9C288.2,450.9 284.6,451.2 282.0,451.3C279.5,451.3 277.4,450.5 275.1,450.1C272.8,449.7 271.3,449.6 268.3,448.9C265.2,448.2 260.3,446.9 257.1,445.7C253.9,444.6 252.1,443.3 249.2,441.8C246.4,440.3 242.8,438.5 240.0,436.6C237.1,434.8 234.2,432.8 232.1,430.7C230.1,428.7 228.9,426.7 227.6,424.2C226.3,421.8 224.9,418.8 224.3,416.1C223.6,413.4 223.5,410.9 223.6,408.3C223.7,405.7 224.0,403.7 224.9,400.4C225.8,397.2 227.5,392.8 228.9,388.7C230.3,384.6 231.7,380.0 233.4,375.6C235.2,371.3 237.8,366.3 239.4,362.6Z" fill="none" stroke="#ccff00" stroke-width="1.35" stroke-linecap="butt" stroke-linejoin="round"/>
<path d="M237.0,361.6C238.5,357.9 239.1,355.1 240.3,352.2C241.6,349.3 242.9,346.6 244.5,344.1C246.1,341.5 248.0,339.1 250.2,337.1C252.4,335.1 254.5,333.5 257.5,332.2C260.5,331.0 264.8,329.9 268.0,329.5C271.2,329.2 273.7,329.6 276.5,330.1C279.3,330.6 282.2,331.4 284.9,332.5C287.7,333.6 290.5,335.1 293.2,336.7C295.9,338.3 298.5,340.2 301.2,342.0C303.8,343.7 306.8,345.7 309.1,347.2C311.3,348.7 312.8,349.6 314.7,351.2C316.6,352.8 318.9,354.6 320.5,356.7C322.1,358.7 323.8,361.1 324.2,363.5C324.7,365.9 323.9,368.3 323.3,371.1C322.7,374.0 321.5,377.4 320.6,380.5C319.7,383.6 318.9,386.6 318.0,389.6C317.1,392.6 316.2,395.9 315.3,398.8C314.5,401.6 313.6,404.2 312.6,406.8C311.6,409.5 310.4,411.5 309.4,414.6C308.3,417.6 307.3,421.1 306.2,425.0C305.1,429.0 304.1,434.6 302.9,438.2C301.7,441.9 300.9,444.5 299.0,446.9C297.2,449.3 294.5,451.3 291.7,452.5C288.9,453.7 284.9,454.0 282.1,454.0C279.2,454.1 277.1,453.2 274.7,452.8C272.3,452.4 270.7,452.3 267.6,451.5C264.5,450.8 259.4,449.5 256.1,448.3C252.9,447.1 250.9,445.8 247.9,444.2C245.0,442.7 241.5,440.8 238.5,438.9C235.6,437.0 232.4,434.9 230.2,432.6C228.0,430.4 226.7,428.1 225.2,425.5C223.8,422.8 222.4,419.6 221.7,416.7C221.0,413.8 220.9,411.0 221.0,408.2C221.1,405.4 221.5,403.1 222.4,399.7C223.3,396.4 225.0,392.1 226.5,387.9C227.9,383.7 229.3,379.1 231.1,374.7C232.8,370.3 235.5,365.4 237.0,361.6Z" fill="none" stroke="#ccff00" stroke-width="1.35" stroke-linecap="butt" stroke-linejoin="round" stroke-dasharray="9 8.3" stroke-dashoffset="8"/>
<path d="M254.1,362.6C255.1,359.6 254.9,359.2 255.7,357.5C256.5,355.8 257.5,354.1 258.8,352.7C260.2,351.3 261.9,349.9 263.8,348.9C265.8,348.0 268.4,347.3 270.6,347.1C272.8,346.9 274.7,346.9 276.8,347.5C278.9,348.1 281.0,349.4 283.2,350.7C285.5,351.9 288.1,353.8 290.3,355.1C292.5,356.4 294.6,357.4 296.5,358.5C298.5,359.6 300.6,360.5 302.0,361.6C303.5,362.7 304.4,363.9 305.1,365.4C305.9,366.8 306.2,368.5 306.4,370.2C306.5,371.9 306.4,373.4 306.2,375.6C305.9,377.9 305.4,380.9 304.8,383.9C304.2,386.8 303.5,390.4 302.6,393.3C301.8,396.2 300.6,398.5 299.6,401.0C298.7,403.4 297.9,405.3 297.0,407.8C296.1,410.3 295.1,413.3 294.1,416.0C293.1,418.7 292.3,421.9 291.2,424.0C290.1,426.1 289.0,427.4 287.6,428.7C286.1,430.0 284.5,430.9 282.7,431.6C280.9,432.3 279.2,432.8 276.8,432.9C274.4,432.9 270.9,432.1 268.3,431.8C265.6,431.4 263.8,431.3 261.0,430.7C258.3,430.1 254.6,429.2 251.8,428.1C249.1,427.1 246.7,426.2 244.6,424.2C242.5,422.2 240.5,418.8 239.4,416.1C238.3,413.4 237.8,410.9 238.1,408.3C238.3,405.7 239.6,403.7 240.9,400.4C242.1,397.2 244.0,392.8 245.5,388.7C247.0,384.6 248.6,380.0 250.1,375.6C251.5,371.3 253.2,365.7 254.1,362.6Z" fill="none" stroke="#ffa000" stroke-width="1.35" stroke-linecap="butt" stroke-linejoin="round"/>
<path d="M250.5,361.5C251.5,358.4 251.4,357.8 252.4,355.9C253.3,354.1 254.6,352.0 256.3,350.4C258.0,348.7 260.2,347.2 262.5,346.1C264.8,345.1 267.7,344.4 270.3,344.2C272.8,343.9 275.2,344.0 277.6,344.6C280.1,345.2 282.4,346.6 284.8,347.9C287.2,349.2 289.8,351.0 292.0,352.3C294.2,353.7 296.1,354.6 298.1,355.7C300.1,356.9 302.4,357.7 304.1,359.0C305.9,360.3 307.5,361.9 308.5,363.7C309.5,365.5 310.1,367.7 310.3,369.8C310.6,371.8 310.4,373.6 310.1,376.1C309.8,378.6 309.3,381.6 308.7,384.6C308.1,387.7 307.3,391.5 306.4,394.4C305.5,397.4 304.2,399.9 303.2,402.4C302.3,404.8 301.6,406.6 300.7,409.1C299.8,411.6 298.8,414.6 297.8,417.3C296.8,420.1 295.9,423.4 294.6,425.7C293.3,428.0 291.7,429.8 289.9,431.3C288.2,432.8 286.1,433.9 283.9,434.7C281.7,435.5 279.5,436.0 276.8,436.0C274.1,436.1 270.6,435.3 267.8,434.9C265.1,434.5 263.2,434.5 260.3,433.8C257.5,433.2 253.7,432.3 250.6,431.2C247.6,430.0 244.6,429.0 242.2,426.7C239.7,424.5 237.2,420.6 235.9,417.5C234.6,414.4 234.0,411.0 234.2,407.9C234.5,404.9 236.1,402.5 237.4,399.1C238.7,395.7 240.5,391.5 242.0,387.4C243.5,383.3 245.0,378.8 246.5,374.5C247.9,370.2 249.5,364.6 250.5,361.5Z" fill="none" stroke="#ffa000" stroke-width="1.35" stroke-linecap="butt" stroke-linejoin="round" stroke-dasharray="9 8.3" stroke-dashoffset="3"/>
<path d="M270.3,415.3C269.9,415.5 265.8,414.5 263.4,414.1C261.0,413.7 257.7,413.4 255.8,412.8C254.0,412.2 253.1,411.4 252.4,410.5C251.7,409.7 251.5,408.6 251.7,407.5C252.0,406.3 252.8,406.0 253.9,403.7C255.0,401.4 256.8,397.2 258.1,393.8C259.5,390.4 261.0,386.7 262.0,383.2C263.1,379.7 263.8,375.8 264.7,372.8C265.5,369.8 266.4,367.0 267.2,365.2C268.0,363.4 268.4,362.6 269.3,361.9C270.1,361.1 271.2,360.6 272.3,360.6C273.3,360.6 274.6,361.1 275.6,361.9C276.7,362.6 277.9,363.9 278.6,365.2C279.3,366.6 279.4,367.3 279.6,369.8C279.8,372.4 279.8,377.1 279.8,380.4C279.9,383.8 280.4,387.6 280.0,390.0C279.6,392.5 278.5,393.7 277.6,395.1C276.6,396.6 276.0,397.3 274.5,398.6C272.9,399.9 270.0,401.7 268.3,403.0C266.5,404.3 264.7,405.2 263.8,406.3C262.8,407.4 262.1,408.7 262.5,409.9C262.8,411.0 264.5,412.2 265.8,413.2C267.2,414.1 270.7,415.2 270.3,415.3Z" fill="none" stroke="#ff5500" stroke-width="1.35" stroke-linecap="butt" stroke-linejoin="round"/>
<path d="M273.1,417.7C271.4,418.8 269.6,418.9 267.1,418.8C264.5,418.6 260.2,417.6 257.8,417.1C255.4,416.5 254.1,416.2 252.7,415.3C251.4,414.5 250.1,413.2 249.5,411.9C248.9,410.6 248.6,409.0 249.0,407.5C249.3,405.9 250.3,405.2 251.4,402.7C252.5,400.1 254.3,395.7 255.5,392.1C256.7,388.5 257.8,384.3 258.8,381.1C259.8,377.9 260.5,375.5 261.4,372.8C262.3,370.0 263.4,366.5 264.3,364.4C265.1,362.3 265.7,361.3 266.5,360.2C267.4,359.2 268.2,358.6 269.3,358.1C270.4,357.7 271.7,357.4 273.1,357.6C274.4,357.8 275.5,358.3 277.3,359.4C279.1,360.5 282.2,362.5 284.0,364.0C285.9,365.5 287.6,367.1 288.6,368.5C289.6,369.8 289.8,370.6 289.9,372.2C290.0,373.9 289.6,375.8 288.9,378.4C288.3,381.0 286.9,385.2 286.0,388.0C285.2,390.8 284.9,392.7 284.0,395.2C283.1,397.7 281.8,400.2 280.7,403.0C279.6,405.8 278.7,409.7 277.4,412.2C276.2,414.6 274.8,416.6 273.1,417.7Z" fill="none" stroke="#ff5500" stroke-width="1.35" stroke-linecap="butt" stroke-linejoin="round" stroke-dasharray="9 8.3" stroke-dashoffset="0"/>
<circle cx="263.0" cy="406.2" r="2.0" fill="#f5821f"/>
<circle cx="268.9" cy="406.1" r="2.0" fill="#f5821f"/>
<circle cx="276.8" cy="414.4" r="2.0" fill="#f5821f"/>
<circle cx="268.5" cy="398.5" r="2.0" fill="#c9147f"/>
<circle cx="263.0" cy="409.2" r="2.0" fill="#c9147f"/>
<circle cx="263.4" cy="409.5" r="2.0" fill="#c9147f"/>
<circle cx="266.7" cy="413.4" r="2.0" fill="#c9147f"/>
<circle cx="264.8" cy="411.6" r="2.0" fill="#c9147f"/>
<circle cx="254.9" cy="421.8" r="2.0" fill="#c9147f"/>
<circle cx="262.0" cy="424.4" r="2.0" fill="#c9147f"/>
<circle cx="261.0" cy="422.2" r="2.0" fill="#c9147f"/>
<circle cx="283.3" cy="384.9" r="6" fill="url(#shd2)"/>
<polygon points="279.14,377.74 280.18,380.51 283.14,380.64 280.82,382.48 281.61,385.34 279.14,383.70 276.68,385.34 277.47,382.48 275.15,380.64 278.11,380.51" fill="#ee1c1c"/>
</g>
<g clip-path="url(#cs2)">
<rect x="431.2" y="455.2" width="4.2" height="4.2" fill="#d9efe0" opacity="0.9"/>
<rect x="431.2" y="459.2" width="4.2" height="4.2" fill="#d9efe0" opacity="0.9"/>
<rect x="435.2" y="455.2" width="4.2" height="4.2" fill="#d9efe0" opacity="0.9"/>
<rect x="435.2" y="459.2" width="4.2" height="4.2" fill="#bfe2ea" opacity="0.9"/>
<rect x="439.8" y="462.9" width="4.2" height="3.2" fill="#fde7c0" opacity="0.9"/>
<rect x="439.8" y="465.9" width="4.2" height="3.2" fill="#fde7c0" opacity="0.9"/>
<rect x="443.8" y="462.9" width="4.2" height="3.2" fill="#d9efe0" opacity="0.9"/>
<rect x="447.4" y="455.2" width="4.2" height="3.6" fill="#a4d3ea" opacity="0.9"/>
<rect x="447.4" y="458.6" width="4.2" height="3.6" fill="#fff9d8" opacity="0.9"/>
<rect x="447.4" y="461.9" width="4.2" height="3.6" fill="#a4d3ea" opacity="0.9"/>
<rect x="447.4" y="465.3" width="4.2" height="3.6" fill="#bfe2ea" opacity="0.9"/>
<rect x="451.4" y="455.2" width="4.2" height="3.6" fill="#fff9d8" opacity="0.9"/>
<rect x="451.4" y="458.6" width="4.2" height="3.6" fill="#fff9d8" opacity="0.9"/>
<rect x="451.4" y="461.9" width="4.2" height="3.6" fill="#fff6c8" opacity="0.9"/>
<rect x="451.4" y="465.3" width="4.2" height="3.6" fill="#a4d3ea" opacity="0.9"/>
<rect x="415.2" y="462.0" width="3.5" height="3.2" fill="#d9efe0" opacity="0.9"/>
<rect x="415.2" y="465.0" width="3.5" height="3.2" fill="#e8f5dc" opacity="0.9"/>
<rect x="418.5" y="462.0" width="3.5" height="3.2" fill="#a4d3ea" opacity="0.9"/>
<rect x="418.5" y="465.0" width="3.5" height="3.2" fill="#fdd9a8" opacity="0.9"/>
<rect x="421.9" y="462.0" width="3.5" height="3.2" fill="#e8f5dc" opacity="0.9"/>
<rect x="421.9" y="465.0" width="3.5" height="3.2" fill="#a4d3ea" opacity="0.9"/>
<rect x="441.7" y="478.0" width="3.2" height="4.7" fill="#d9efe0" opacity="0.9"/>
<rect x="444.7" y="478.0" width="3.2" height="4.7" fill="#bfe2ea" opacity="0.9"/>
<rect x="456.0" y="478.0" width="3.7" height="3.2" fill="#bfe2ea" opacity="0.9"/>
<rect x="456.0" y="481.0" width="3.7" height="3.2" fill="#d9efe0" opacity="0.9"/>
<rect x="459.5" y="481.0" width="3.7" height="3.2" fill="#e8f5dc" opacity="0.9"/>
<rect x="470.2" y="424.8" width="4.0" height="4.5" fill="#fff9d8" opacity="0.9"/>
<rect x="470.2" y="429.1" width="4.0" height="4.5" fill="#fde7c0" opacity="0.9"/>
<rect x="470.2" y="433.5" width="4.0" height="4.5" fill="#e8f5dc" opacity="0.9"/>
<rect x="473.9" y="424.8" width="4.0" height="4.5" fill="#e8f5dc" opacity="0.9"/>
<rect x="473.9" y="429.1" width="4.0" height="4.5" fill="#d9efe0" opacity="0.9"/>
<rect x="473.9" y="433.5" width="4.0" height="4.5" fill="#a4d3ea" opacity="0.9"/>
<rect x="480.2" y="385.5" width="5.2" height="3.2" fill="#fdd9a8" opacity="0.9"/>
<rect x="480.2" y="388.5" width="5.2" height="3.2" fill="#fdd9a8" opacity="0.9"/>
<rect x="444.2" y="418.0" width="4.2" height="4.2" fill="#d9efe0" opacity="0.9"/>
<rect x="444.2" y="422.0" width="4.2" height="4.2" fill="#bfe2ea" opacity="0.9"/>
<rect x="448.2" y="418.0" width="4.2" height="4.2" fill="#bfe2ea" opacity="0.9"/>
<rect x="448.2" y="422.0" width="4.2" height="4.2" fill="#fde7c0" opacity="0.9"/>
<rect x="461.0" y="378.0" width="4.2" height="3.9" fill="#fde7c0" opacity="0.9"/>
<rect x="461.0" y="381.7" width="4.2" height="3.9" fill="#fdd9a8" opacity="0.9"/>
<rect x="461.0" y="385.3" width="4.2" height="3.9" fill="#bfe2ea" opacity="0.9"/>
<rect x="461.0" y="389.0" width="4.2" height="3.9" fill="#fff6c8" opacity="0.9"/>
<rect x="461.0" y="392.7" width="4.2" height="3.9" fill="#d9efe0" opacity="0.9"/>
<rect x="461.0" y="400.0" width="4.2" height="3.9" fill="#fde7c0" opacity="0.9"/>
<rect x="461.0" y="403.7" width="4.2" height="3.9" fill="#fdd9a8" opacity="0.9"/>
<rect x="461.0" y="407.3" width="4.2" height="3.9" fill="#fde7c0" opacity="0.9"/>
<rect x="465.0" y="378.0" width="4.2" height="3.9" fill="#a4d3ea" opacity="0.9"/>
<rect x="465.0" y="381.7" width="4.2" height="3.9" fill="#a4d3ea" opacity="0.9"/>
<rect x="465.0" y="385.3" width="4.2" height="3.9" fill="#fff6c8" opacity="0.9"/>
<rect x="465.0" y="389.0" width="4.2" height="3.9" fill="#fdd9a8" opacity="0.9"/>
<rect x="465.0" y="392.7" width="4.2" height="3.9" fill="#fde7c0" opacity="0.9"/>
<rect x="465.0" y="400.0" width="4.2" height="3.9" fill="#e8f5dc" opacity="0.9"/>
<rect x="465.0" y="403.7" width="4.2" height="3.9" fill="#e8f5dc" opacity="0.9"/>
<rect x="465.0" y="407.3" width="4.2" height="3.9" fill="#bfe2ea" opacity="0.9"/>
<rect x="469.0" y="378.0" width="4.2" height="3.9" fill="#fde7c0" opacity="0.9"/>
<rect x="469.0" y="381.7" width="4.2" height="3.9" fill="#d9efe0" opacity="0.9"/>
<rect x="469.0" y="385.3" width="4.2" height="3.9" fill="#a4d3ea" opacity="0.9"/>
<rect x="469.0" y="389.0" width="4.2" height="3.9" fill="#bfe2ea" opacity="0.9"/>
<rect x="469.0" y="392.7" width="4.2" height="3.9" fill="#bfe2ea" opacity="0.9"/>
<rect x="469.0" y="396.3" width="4.2" height="3.9" fill="#bfe2ea" opacity="0.9"/>
<rect x="469.0" y="400.0" width="4.2" height="3.9" fill="#fff9d8" opacity="0.9"/>
<rect x="469.0" y="403.7" width="4.2" height="3.9" fill="#fdd9a8" opacity="0.9"/>
<rect x="469.0" y="407.3" width="4.2" height="3.9" fill="#fdd9a8" opacity="0.9"/>
<rect x="473.0" y="378.0" width="4.2" height="3.9" fill="#fff6c8" opacity="0.9"/>
<rect x="473.0" y="389.0" width="4.2" height="3.9" fill="#a4d3ea" opacity="0.9"/>
<rect x="473.0" y="392.7" width="4.2" height="3.9" fill="#e8f5dc" opacity="0.9"/>
<rect x="473.0" y="396.3" width="4.2" height="3.9" fill="#fff9d8" opacity="0.9"/>
<rect x="473.0" y="400.0" width="4.2" height="3.9" fill="#a4d3ea" opacity="0.9"/>
<rect x="473.0" y="403.7" width="4.2" height="3.9" fill="#d9efe0" opacity="0.9"/>
<rect x="473.0" y="407.3" width="4.2" height="3.9" fill="#fde7c0" opacity="0.9"/>
<rect x="477.0" y="381.7" width="4.2" height="3.9" fill="#bfe2ea" opacity="0.9"/>
<rect x="477.0" y="385.3" width="4.2" height="3.9" fill="#fff9d8" opacity="0.9"/>
<rect x="477.0" y="389.0" width="4.2" height="3.9" fill="#fdd9a8" opacity="0.9"/>
<rect x="477.0" y="392.7" width="4.2" height="3.9" fill="#fdd9a8" opacity="0.9"/>
<rect x="477.0" y="396.3" width="4.2" height="3.9" fill="#fff9d8" opacity="0.9"/>
<rect x="477.0" y="403.7" width="4.2" height="3.9" fill="#d9efe0" opacity="0.9"/>
<rect x="477.0" y="407.3" width="4.2" height="3.9" fill="#fde7c0" opacity="0.9"/>
<rect x="481.0" y="378.0" width="4.2" height="3.9" fill="#d9efe0" opacity="0.9"/>
<rect x="481.0" y="381.7" width="4.2" height="3.9" fill="#bfe2ea" opacity="0.9"/>
<rect x="481.0" y="385.3" width="4.2" height="3.9" fill="#d9efe0" opacity="0.9"/>
<rect x="481.0" y="392.7" width="4.2" height="3.9" fill="#fff6c8" opacity="0.9"/>
<rect x="481.0" y="396.3" width="4.2" height="3.9" fill="#bfe2ea" opacity="0.9"/>
<rect x="481.0" y="403.7" width="4.2" height="3.9" fill="#bfe2ea" opacity="0.9"/>
<rect x="481.0" y="407.3" width="4.2" height="3.9" fill="#e8f5dc" opacity="0.9"/>
<rect x="471.0" y="411.0" width="4.2" height="4.2" fill="#fff9d8" opacity="0.9"/>
<rect x="471.0" y="415.0" width="4.2" height="4.2" fill="#fde7c0" opacity="0.9"/>
<rect x="471.0" y="423.0" width="4.2" height="4.2" fill="#fdd9a8" opacity="0.9"/>
<rect x="471.0" y="427.0" width="4.2" height="4.2" fill="#a4d3ea" opacity="0.9"/>
<rect x="471.0" y="431.0" width="4.2" height="4.2" fill="#a4d3ea" opacity="0.9"/>
<rect x="471.0" y="435.0" width="4.2" height="4.2" fill="#fdd9a8" opacity="0.9"/>
<rect x="475.0" y="419.0" width="4.2" height="4.2" fill="#fff6c8" opacity="0.9"/>
<rect x="475.0" y="423.0" width="4.2" height="4.2" fill="#a4d3ea" opacity="0.9"/>
<rect x="475.0" y="427.0" width="4.2" height="4.2" fill="#fdd9a8" opacity="0.9"/>
<rect x="475.0" y="431.0" width="4.2" height="4.2" fill="#fff9d8" opacity="0.9"/>
<rect x="475.0" y="435.0" width="4.2" height="4.2" fill="#a4d3ea" opacity="0.9"/>
<rect x="433.0" y="432.0" width="3.8" height="3.5" fill="#fde7c0" opacity="0.9"/>
<rect x="433.0" y="438.7" width="3.8" height="3.5" fill="#fff9d8" opacity="0.9"/>
<rect x="436.6" y="432.0" width="3.8" height="3.5" fill="#a4d3ea" opacity="0.9"/>
<rect x="436.6" y="435.3" width="3.8" height="3.5" fill="#d9efe0" opacity="0.9"/>
<rect x="436.6" y="438.7" width="3.8" height="3.5" fill="#fde7c0" opacity="0.9"/>
<rect x="440.2" y="432.0" width="3.8" height="3.5" fill="#a4d3ea" opacity="0.9"/>
<rect x="440.2" y="435.3" width="3.8" height="3.5" fill="#bfe2ea" opacity="0.9"/>
<rect x="440.2" y="438.7" width="3.8" height="3.5" fill="#bfe2ea" opacity="0.9"/>
<rect x="443.8" y="432.0" width="3.8" height="3.5" fill="#fdd9a8" opacity="0.9"/>
<rect x="443.8" y="435.3" width="3.8" height="3.5" fill="#e8f5dc" opacity="0.9"/>
<rect x="443.8" y="438.7" width="3.8" height="3.5" fill="#d9efe0" opacity="0.9"/>
<rect x="447.4" y="432.0" width="3.8" height="3.5" fill="#e8f5dc" opacity="0.9"/>
<rect x="447.4" y="435.3" width="3.8" height="3.5" fill="#fff9d8" opacity="0.9"/>
<rect x="447.4" y="438.7" width="3.8" height="3.5" fill="#bfe2ea" opacity="0.9"/>
<rect x="430.5" y="458.9" width="4.0" height="4.4" fill="#e8f5dc" opacity="0.9"/>
<rect x="430.5" y="463.2" width="4.0" height="4.4" fill="#d9efe0" opacity="0.9"/>
<rect x="434.2" y="454.7" width="4.0" height="4.4" fill="#fde7c0" opacity="0.9"/>
<rect x="434.2" y="458.9" width="4.0" height="4.4" fill="#a4d3ea" opacity="0.9"/>
<rect x="438.0" y="454.7" width="4.0" height="4.4" fill="#fde7c0" opacity="0.9"/>
<rect x="438.0" y="458.9" width="4.0" height="4.4" fill="#fff9d8" opacity="0.9"/>
<rect x="441.8" y="454.7" width="4.0" height="4.4" fill="#d9efe0" opacity="0.9"/>
<rect x="441.8" y="458.9" width="4.0" height="4.4" fill="#d9efe0" opacity="0.9"/>
<rect x="441.8" y="463.2" width="4.0" height="4.4" fill="#fff9d8" opacity="0.9"/>
<rect x="445.5" y="454.7" width="4.0" height="4.4" fill="#a4d3ea" opacity="0.9"/>
<rect x="445.5" y="458.9" width="4.0" height="4.4" fill="#fde7c0" opacity="0.9"/>
<rect x="445.5" y="463.2" width="4.0" height="4.4" fill="#bfe2ea" opacity="0.9"/>
<rect x="449.2" y="454.7" width="4.0" height="4.4" fill="#fde7c0" opacity="0.9"/>
<rect x="449.2" y="458.9" width="4.0" height="4.4" fill="#fdd9a8" opacity="0.9"/>
<rect x="449.2" y="463.2" width="4.0" height="4.4" fill="#fde7c0" opacity="0.9"/>
<rect x="453.0" y="454.7" width="4.0" height="4.4" fill="#fff9d8" opacity="0.9"/>
<rect x="453.0" y="458.9" width="4.0" height="4.4" fill="#fde7c0" opacity="0.9"/>
<rect x="456.8" y="454.7" width="4.0" height="4.4" fill="#e8f5dc" opacity="0.9"/>
<rect x="456.8" y="458.9" width="4.0" height="4.4" fill="#d9efe0" opacity="0.9"/>
<rect x="456.8" y="463.2" width="4.0" height="4.4" fill="#bfe2ea" opacity="0.9"/>
<rect x="466.2" y="440.0" width="4.2" height="4.2" fill="#fff6c8" opacity="0.9"/>
<rect x="466.2" y="444.0" width="4.2" height="4.2" fill="#d9efe0" opacity="0.9"/>
<rect x="466.2" y="448.0" width="4.2" height="4.2" fill="#d9efe0" opacity="0.9"/>
<rect x="470.2" y="440.0" width="4.2" height="4.2" fill="#fde7c0" opacity="0.9"/>
<rect x="470.2" y="444.0" width="4.2" height="4.2" fill="#d9efe0" opacity="0.9"/>
<rect x="470.2" y="448.0" width="4.2" height="4.2" fill="#fde7c0" opacity="0.9"/>
<path d="M467.8,381.1L467.5,382.4L466.9,383.5L466.4,385.5L465.7,387.2L465.2,388.3L464.5,390.5L464.7,391.8L464.6,392.5L464.2,394.3L463.6,396.0L463.3,396.8L463.5,398.2" fill="none" stroke="#d4e9f7" stroke-width="2.82" stroke-opacity="0.5" stroke-linejoin="round" stroke-linecap="round"/>
<path d="M464.1,403.3L464.3,404.7L464.3,405.9L464.4,407.6L464.2,408.7L463.8,409.8L462.8,410.8L462.8,411.8L462.8,413.5L462.2,414.2L461.7,415.4" fill="none" stroke="#d4e9f7" stroke-width="2.62" stroke-opacity="0.5" stroke-linejoin="round" stroke-linecap="round"/>
<path d="M459.4,405.4L459.1,406.6L459.2,407.6L459.0,409.0L458.8,409.9L458.1,411.2L458.4,412.4L458.2,413.5L457.4,414.5L457.6,416.3" fill="none" stroke="#d4e9f7" stroke-width="2.26" stroke-opacity="0.5" stroke-linejoin="round" stroke-linecap="round"/>
<path d="M467.2,387.9L467.8,389.1L468.3,390.5L468.1,391.7L468.6,393.1L468.0,395.0L468.4,396.1L468.8,397.1L468.5,398.7L468.5,400.0L468.0,401.5L468.6,403.4L468.9,404.4" fill="none" stroke="#d4e9f7" stroke-width="3.42" stroke-opacity="0.5" stroke-linejoin="round" stroke-linecap="round"/>
<path d="M465.8,383.9L465.9,385.5L465.6,386.7L465.3,388.6L464.7,389.9L464.1,391.6L463.2,393.0L463.5,393.9L463.3,395.8L463.4,397.2L462.7,398.5L462.8,400.3L462.0,401.1L461.1,402.5L460.8,404.0" fill="none" stroke="#d4e9f7" stroke-width="3.18" stroke-opacity="0.5" stroke-linejoin="round" stroke-linecap="round"/>
<path d="M460.4,401.7L459.8,403.2L459.4,405.0L459.0,405.7L458.9,407.6L458.7,408.8L457.6,409.8L456.7,411.3L456.0,412.5L455.4,413.7L454.9,414.4L454.4,415.9" fill="none" stroke="#d4e9f7" stroke-width="2.90" stroke-opacity="0.5" stroke-linejoin="round" stroke-linecap="round"/>
<path d="M461.4,409.5L462.1,410.8L464.0,411.6L465.1,413.0" fill="none" stroke="#3d8fe8" stroke-width="1.32" stroke-opacity="0.85" stroke-linejoin="round" stroke-linecap="round"/>
<path d="M468.0,398.1L466.4,398.8L465.0,400.8" fill="none" stroke="#3d8fe8" stroke-width="1.68" stroke-opacity="0.85" stroke-linejoin="round" stroke-linecap="round"/>
<path d="M465.0,405.0L464.7,406.3L463.9,407.5L463.8,409.1" fill="none" stroke="#3d8fe8" stroke-width="0.87" stroke-opacity="0.85" stroke-linejoin="round" stroke-linecap="round"/>
<path d="M466.5,403.0L466.4,404.8L464.6,405.7L464.1,407.1L464.5,408.3L464.1,409.5" fill="none" stroke="#3d8fe8" stroke-width="1.24" stroke-opacity="0.85" stroke-linejoin="round" stroke-linecap="round"/>
<path d="M467.7,401.6L467.4,403.4L467.9,405.0L465.6,405.7L464.3,407.0L462.7,408.4" fill="none" stroke="#3d8fe8" stroke-width="1.43" stroke-opacity="0.85" stroke-linejoin="round" stroke-linecap="round"/>
<path d="M470.8,379.2L471.3,380.2L470.7,382.1L471.0,383.3" fill="none" stroke="#3d8fe8" stroke-width="1.48" stroke-opacity="0.85" stroke-linejoin="round" stroke-linecap="round"/>
<path d="M459.3,410.8L458.4,412.0L456.9,413.8L455.7,414.6" fill="none" stroke="#3d8fe8" stroke-width="1.57" stroke-opacity="0.85" stroke-linejoin="round" stroke-linecap="round"/>
<path d="M459.5,400.2L457.5,402.1L458.0,404.1" fill="none" stroke="#3d8fe8" stroke-width="1.18" stroke-opacity="0.85" stroke-linejoin="round" stroke-linecap="round"/>
<path d="M460.2,376.0L460.6,378.0L460.4,380.3L461.8,382.2" fill="none" stroke="#3d8fe8" stroke-width="1.37" stroke-opacity="0.85" stroke-linejoin="round" stroke-linecap="round"/>
<path d="M469.3,381.0L468.9,382.4L469.0,384.5L469.4,386.1L467.2,387.4L465.5,389.2" fill="none" stroke="#3d8fe8" stroke-width="1.30" stroke-opacity="0.85" stroke-linejoin="round" stroke-linecap="round"/>
<path d="M460.2,404.7L460.2,406.3L459.8,407.3L459.5,408.8L460.0,410.7" fill="none" stroke="#3d8fe8" stroke-width="0.90" stroke-opacity="0.85" stroke-linejoin="round" stroke-linecap="round"/>
<path d="M465.9,378.2L463.7,380.1L463.3,381.8" fill="none" stroke="#3d8fe8" stroke-width="1.43" stroke-opacity="0.85" stroke-linejoin="round" stroke-linecap="round"/>
<path d="M471.9,382.3L471.4,383.4L471.8,385.2" fill="none" stroke="#3d8fe8" stroke-width="1.31" stroke-opacity="0.85" stroke-linejoin="round" stroke-linecap="round"/>
<path d="M467.4,377.3L465.6,379.1L465.7,380.7L465.3,381.7" fill="none" stroke="#1a66d6" stroke-width="1.11" stroke-opacity="0.95" stroke-linejoin="round" stroke-linecap="round"/>
<path d="M463.6,405.9L465.1,407.1L463.7,408.0L464.3,409.5L465.3,410.8L464.4,412.4" fill="none" stroke="#1a66d6" stroke-width="1.30" stroke-opacity="0.95" stroke-linejoin="round" stroke-linecap="round"/>
<path d="M462.1,397.0L463.0,398.2L461.5,399.7L460.5,401.4L461.4,402.7L460.2,403.9" fill="none" stroke="#1a66d6" stroke-width="1.36" stroke-opacity="0.95" stroke-linejoin="round" stroke-linecap="round"/>
<path d="M458.7,393.0L458.3,394.4L457.9,395.1L456.7,396.8L456.7,398.5" fill="none" stroke="#1a66d6" stroke-width="1.13" stroke-opacity="0.95" stroke-linejoin="round" stroke-linecap="round"/>
<path d="M461.0,404.5L460.5,406.0L458.6,407.6L458.5,408.8L458.7,410.1" fill="none" stroke="#1a66d6" stroke-width="0.97" stroke-opacity="0.95" stroke-linejoin="round" stroke-linecap="round"/>
<path d="M460.6,412.4L461.9,413.3L460.9,415.0L461.6,416.0" fill="none" stroke="#1a66d6" stroke-width="0.68" stroke-opacity="0.95" stroke-linejoin="round" stroke-linecap="round"/>
<path d="M469.8,378.0L469.9,379.6L470.7,381.3L469.9,382.4" fill="none" stroke="#1a66d6" stroke-width="1.02" stroke-opacity="0.95" stroke-linejoin="round" stroke-linecap="round"/>
<path d="M469.4,405.3L468.7,407.0L467.8,408.3L467.3,409.4L467.0,410.2L466.5,411.6" fill="none" stroke="#1a66d6" stroke-width="0.82" stroke-opacity="0.95" stroke-linejoin="round" stroke-linecap="round"/>
<path d="M465.7,403.1L464.9,404.6L465.7,406.3" fill="none" stroke="#1a66d6" stroke-width="0.91" stroke-opacity="0.95" stroke-linejoin="round" stroke-linecap="round"/>
<path d="M470.6,405.3L470.3,407.2L469.9,408.3L469.7,409.5L469.2,411.2L469.1,412.4L468.8,413.6L468.8,414.8L468.6,416.6L467.9,418.1L467.6,419.1L467.2,420.5L467.2,422.1L466.6,423.4L465.6,424.8L464.9,426.5L465.1,427.6L464.3,429.3" fill="none" stroke="#d4e9f7" stroke-width="2.16" stroke-opacity="0.5" stroke-linejoin="round" stroke-linecap="round"/>
<path d="M471.8,404.8L471.2,406.6L470.5,407.6L470.5,409.5L470.3,410.8L469.5,411.8L469.1,413.7L468.9,415.0L468.2,416.1L468.6,417.7L468.5,418.6L468.7,419.9L468.9,421.9" fill="none" stroke="#d4e9f7" stroke-width="2.42" stroke-opacity="0.5" stroke-linejoin="round" stroke-linecap="round"/>
<path d="M458.9,426.7L458.9,427.9L458.2,429.3L457.6,431.3L457.5,432.2L456.9,433.6L456.7,435.3L455.8,436.5L455.8,437.9L455.5,439.3L454.9,440.6L454.2,441.6L453.7,443.0L453.0,444.2" fill="none" stroke="#d4e9f7" stroke-width="2.62" stroke-opacity="0.5" stroke-linejoin="round" stroke-linecap="round"/>
<path d="M457.3,433.7L456.8,435.0L456.2,436.4L455.6,437.8L454.6,438.9L453.9,440.6L453.3,441.6L452.3,443.3L451.9,443.9L451.3,445.7L450.6,447.2L450.2,447.9L449.9,449.2" fill="none" stroke="#d4e9f7" stroke-width="2.17" stroke-opacity="0.5" stroke-linejoin="round" stroke-linecap="round"/>
<path d="M462.3,414.4L462.3,416.0L462.3,417.5L462.3,418.9L462.2,420.3L461.6,421.4L461.2,423.0L460.8,423.9L460.5,425.1L459.6,426.5L458.7,427.5L457.9,429.2L457.9,430.2L457.7,431.6L457.3,433.1L456.9,434.8L456.3,435.8L456.1,436.8L455.5,438.5L455.4,439.9" fill="none" stroke="#d4e9f7" stroke-width="2.70" stroke-opacity="0.5" stroke-linejoin="round" stroke-linecap="round"/>
<path d="M465.0,410.1L465.3,411.5L465.2,413.3L464.7,414.7L463.9,415.8L463.3,417.2L462.9,418.3L463.1,419.9L463.0,421.6L463.2,423.3L463.0,424.1L463.0,425.5L463.2,427.1L462.5,428.4L462.0,430.3" fill="none" stroke="#d4e9f7" stroke-width="3.14" stroke-opacity="0.5" stroke-linejoin="round" stroke-linecap="round"/>
<path d="M463.2,431.6L463.1,433.5L462.1,434.8L462.0,435.7L461.6,437.3L460.5,438.4L460.4,439.9L460.2,440.5L459.7,442.1L459.3,443.1L458.6,444.3L458.1,446.1L456.7,447.0L455.5,448.5L455.0,449.3L454.9,451.3" fill="none" stroke="#d4e9f7" stroke-width="2.48" stroke-opacity="0.5" stroke-linejoin="round" stroke-linecap="round"/>
<path d="M462.2,421.5L460.8,422.6L461.0,424.0L459.3,426.0L458.0,427.0L457.2,428.3" fill="none" stroke="#3d8fe8" stroke-width="1.37" stroke-opacity="0.85" stroke-linejoin="round" stroke-linecap="round"/>
<path d="M459.1,417.0L457.6,418.5L456.2,420.3L455.8,421.4L455.6,423.0L454.1,424.3" fill="none" stroke="#3d8fe8" stroke-width="1.30" stroke-opacity="0.85" stroke-linejoin="round" stroke-linecap="round"/>
<path d="M462.5,435.5L463.9,436.7L464.8,437.6L465.2,439.0L465.6,440.4L465.4,441.6" fill="none" stroke="#3d8fe8" stroke-width="1.39" stroke-opacity="0.85" stroke-linejoin="round" stroke-linecap="round"/>
<path d="M468.2,413.2L466.6,414.4L466.4,416.0L465.8,417.9L465.6,418.8L464.4,420.5L463.9,422.3" fill="none" stroke="#3d8fe8" stroke-width="1.38" stroke-opacity="0.85" stroke-linejoin="round" stroke-linecap="round"/>
<path d="M465.4,412.8L465.3,414.8L465.7,415.8L465.9,417.0L465.2,418.7L463.1,419.6L462.0,421.0" fill="none" stroke="#3d8fe8" stroke-width="0.86" stroke-opacity="0.85" stroke-linejoin="round" stroke-linecap="round"/>
<path d="M466.0,420.6L465.5,422.3L464.7,424.0" fill="none" stroke="#3d8fe8" stroke-width="1.66" stroke-opacity="0.85" stroke-linejoin="round" stroke-linecap="round"/>
<path d="M465.2,428.4L466.1,429.9L465.0,431.1L465.9,432.6L464.6,433.7L463.8,435.4L464.3,436.6" fill="none" stroke="#3d8fe8" stroke-width="0.92" stroke-opacity="0.85" stroke-linejoin="round" stroke-linecap="round"/>
<path d="M462.6,419.4L460.9,420.9L459.3,422.4L459.2,423.9L459.4,425.3L457.6,427.0L456.8,428.4L457.4,429.6" fill="none" stroke="#3d8fe8" stroke-width="1.42" stroke-opacity="0.85" stroke-linejoin="round" stroke-linecap="round"/>
<path d="M466.5,412.7L466.3,414.2L466.1,415.6L464.6,416.9L462.2,418.4" fill="none" stroke="#3d8fe8" stroke-width="1.12" stroke-opacity="0.85" stroke-linejoin="round" stroke-linecap="round"/>
<path d="M459.6,433.9L460.9,435.6L460.5,436.7L461.5,438.7" fill="none" stroke="#3d8fe8" stroke-width="1.08" stroke-opacity="0.85" stroke-linejoin="round" stroke-linecap="round"/>
<path d="M471.4,410.1L469.6,411.0L469.4,412.9L469.9,414.0L469.8,415.8" fill="none" stroke="#3d8fe8" stroke-width="1.49" stroke-opacity="0.85" stroke-linejoin="round" stroke-linecap="round"/>
<path d="M462.6,416.5L460.5,417.9L459.4,419.7L458.2,420.9" fill="none" stroke="#3d8fe8" stroke-width="1.52" stroke-opacity="0.85" stroke-linejoin="round" stroke-linecap="round"/>
<path d="M453.0,442.5L452.1,443.3L450.6,444.5L449.1,445.7L449.1,446.9L448.7,448.7L448.6,450.0" fill="none" stroke="#3d8fe8" stroke-width="1.53" stroke-opacity="0.85" stroke-linejoin="round" stroke-linecap="round"/>
<path d="M451.9,443.5L451.0,445.0L448.9,446.2L447.3,447.7" fill="none" stroke="#3d8fe8" stroke-width="1.35" stroke-opacity="0.85" stroke-linejoin="round" stroke-linecap="round"/>
<path d="M466.4,418.6L466.2,419.9L465.3,421.7L465.6,423.5L465.4,424.6" fill="none" stroke="#3d8fe8" stroke-width="0.87" stroke-opacity="0.85" stroke-linejoin="round" stroke-linecap="round"/>
<path d="M463.4,430.1L462.9,431.1L462.8,433.2" fill="none" stroke="#1a66d6" stroke-width="0.89" stroke-opacity="0.95" stroke-linejoin="round" stroke-linecap="round"/>
<path d="M469.1,419.2L468.9,420.4L467.7,422.5L465.9,423.9L465.3,425.8" fill="none" stroke="#1a66d6" stroke-width="1.35" stroke-opacity="0.95" stroke-linejoin="round" stroke-linecap="round"/>
<path d="M463.8,412.3L464.5,413.5L463.9,415.3L462.6,417.2L461.0,418.2L459.2,420.0" fill="none" stroke="#1a66d6" stroke-width="0.79" stroke-opacity="0.95" stroke-linejoin="round" stroke-linecap="round"/>
<path d="M467.4,431.6L465.6,433.1L463.3,434.1L462.0,436.0" fill="none" stroke="#1a66d6" stroke-width="1.11" stroke-opacity="0.95" stroke-linejoin="round" stroke-linecap="round"/>
<path d="M463.5,414.6L462.6,416.5L460.8,417.6L460.2,419.0L458.9,420.4" fill="none" stroke="#1a66d6" stroke-width="1.24" stroke-opacity="0.95" stroke-linejoin="round" stroke-linecap="round"/>
<path d="M460.7,415.2L460.8,417.3L460.4,419.5" fill="none" stroke="#1a66d6" stroke-width="1.09" stroke-opacity="0.95" stroke-linejoin="round" stroke-linecap="round"/>
<path d="M464.9,424.6L465.0,426.8L466.5,427.8L465.8,429.7L465.3,430.5" fill="none" stroke="#1a66d6" stroke-width="0.78" stroke-opacity="0.95" stroke-linejoin="round" stroke-linecap="round"/>
<path d="M469.6,412.3L467.9,414.1L467.1,415.6L466.4,417.3L465.7,419.0" fill="none" stroke="#1a66d6" stroke-width="0.73" stroke-opacity="0.95" stroke-linejoin="round" stroke-linecap="round"/>
<path d="M457.1,438.6L457.4,439.7L457.8,440.8L458.3,442.0L458.7,442.9L457.2,444.6L457.0,445.8" fill="none" stroke="#1a66d6" stroke-width="1.09" stroke-opacity="0.95" stroke-linejoin="round" stroke-linecap="round"/>
<path d="M459.7,437.4L458.1,438.4L457.0,440.0L456.2,441.2L455.2,442.1" fill="none" stroke="#1a66d6" stroke-width="1.22" stroke-opacity="0.95" stroke-linejoin="round" stroke-linecap="round"/>
<path d="M455.4,432.7L453.5,434.1L454.1,435.8L453.8,436.8L453.6,438.7L451.9,439.8L452.2,441.3L451.6,442.3" fill="none" stroke="#1a66d6" stroke-width="1.10" stroke-opacity="0.95" stroke-linejoin="round" stroke-linecap="round"/>
<path d="M467.6,422.4L466.9,423.4L466.7,425.0L466.9,426.4L466.9,428.0L466.6,429.6L466.4,431.4L465.8,432.7L465.8,433.6L465.1,435.1L465.2,436.1L465.3,437.6" fill="none" stroke="#d4e9f7" stroke-width="3.03" stroke-opacity="0.5" stroke-linejoin="round" stroke-linecap="round"/>
<path d="M467.9,415.9L467.7,417.4L467.2,418.7L467.1,420.5L467.4,421.9L467.7,423.2L467.6,424.5L467.3,426.1L467.5,427.6L467.9,429.6L467.7,430.7L467.4,432.5" fill="none" stroke="#d4e9f7" stroke-width="2.82" stroke-opacity="0.5" stroke-linejoin="round" stroke-linecap="round"/>
<path d="M467.5,416.8L467.8,418.2L467.4,420.1L467.2,421.4L467.0,422.7L466.6,424.6L466.7,426.1L466.4,427.8L466.0,429.2L465.5,430.8L465.4,432.3L465.5,433.7L465.7,434.6" fill="none" stroke="#d4e9f7" stroke-width="2.75" stroke-opacity="0.5" stroke-linejoin="round" stroke-linecap="round"/>
<path d="M464.6,443.8L464.1,444.6L463.4,446.4L464.1,447.2" fill="none" stroke="#3d8fe8" stroke-width="1.24" stroke-opacity="0.85" stroke-linejoin="round" stroke-linecap="round"/>
<path d="M466.5,413.7L466.6,415.0L467.7,416.0L466.8,418.1L467.0,419.3L466.5,420.9" fill="none" stroke="#3d8fe8" stroke-width="0.89" stroke-opacity="0.85" stroke-linejoin="round" stroke-linecap="round"/>
<path d="M466.1,443.5L464.8,444.9L464.1,446.9L463.4,447.9" fill="none" stroke="#3d8fe8" stroke-width="1.68" stroke-opacity="0.85" stroke-linejoin="round" stroke-linecap="round"/>
<path d="M470.0,420.3L470.5,422.1L470.8,423.1L471.2,425.5L471.3,427.2" fill="none" stroke="#3d8fe8" stroke-width="0.97" stroke-opacity="0.85" stroke-linejoin="round" stroke-linecap="round"/>
<path d="M467.8,428.2L468.2,429.9L467.4,432.2" fill="none" stroke="#3d8fe8" stroke-width="1.04" stroke-opacity="0.85" stroke-linejoin="round" stroke-linecap="round"/>
<path d="M471.5,425.9L470.9,427.0L471.2,428.7" fill="none" stroke="#3d8fe8" stroke-width="0.96" stroke-opacity="0.85" stroke-linejoin="round" stroke-linecap="round"/>
<path d="M471.6,417.7L470.5,420.1L471.8,421.7" fill="none" stroke="#3d8fe8" stroke-width="1.09" stroke-opacity="0.85" stroke-linejoin="round" stroke-linecap="round"/>
<path d="M466.4,428.8L466.1,429.9L465.1,430.9" fill="none" stroke="#1a66d6" stroke-width="0.75" stroke-opacity="0.95" stroke-linejoin="round" stroke-linecap="round"/>
<path d="M471.5,414.3L471.2,415.9L472.5,416.7" fill="none" stroke="#1a66d6" stroke-width="0.70" stroke-opacity="0.95" stroke-linejoin="round" stroke-linecap="round"/>
<path d="M465.7,427.7L465.9,429.0L465.1,431.0L464.2,432.4L464.6,434.2" fill="none" stroke="#1a66d6" stroke-width="1.27" stroke-opacity="0.95" stroke-linejoin="round" stroke-linecap="round"/>
<path d="M468.5,437.5L467.0,439.1L466.6,440.9" fill="none" stroke="#1a66d6" stroke-width="0.85" stroke-opacity="0.95" stroke-linejoin="round" stroke-linecap="round"/>
<path d="M472.4,421.0L471.5,422.6L473.2,423.9L474.2,426.1" fill="none" stroke="#1a66d6" stroke-width="0.75" stroke-opacity="0.95" stroke-linejoin="round" stroke-linecap="round"/>
<path d="M457.9,434.1L457.2,435.0L457.0,436.0L456.5,437.5L456.1,439.0L455.1,439.9L454.6,441.6" fill="none" stroke="#d4e9f7" stroke-width="2.27" stroke-opacity="0.5" stroke-linejoin="round" stroke-linecap="round"/>
<path d="M455.2,445.2L454.4,446.5L453.9,447.7L453.8,448.8L452.8,449.6L451.7,450.8" fill="none" stroke="#d4e9f7" stroke-width="3.42" stroke-opacity="0.5" stroke-linejoin="round" stroke-linecap="round"/>
<path d="M461.9,434.8L460.9,435.8L460.3,437.4L460.3,438.3L459.2,440.4" fill="none" stroke="#d4e9f7" stroke-width="2.30" stroke-opacity="0.5" stroke-linejoin="round" stroke-linecap="round"/>
<path d="M459.0,433.1L458.6,434.5L457.1,436.6" fill="none" stroke="#3d8fe8" stroke-width="1.68" stroke-opacity="0.85" stroke-linejoin="round" stroke-linecap="round"/>
<path d="M460.4,436.7L459.4,438.1L458.3,438.6" fill="none" stroke="#3d8fe8" stroke-width="1.60" stroke-opacity="0.85" stroke-linejoin="round" stroke-linecap="round"/>
<path d="M463.7,433.0L462.2,433.8L461.6,435.6" fill="none" stroke="#3d8fe8" stroke-width="0.91" stroke-opacity="0.85" stroke-linejoin="round" stroke-linecap="round"/>
<path d="M457.7,435.4L457.3,435.9L455.0,436.7" fill="none" stroke="#3d8fe8" stroke-width="1.64" stroke-opacity="0.85" stroke-linejoin="round" stroke-linecap="round"/>
<path d="M456.9,434.4L455.0,434.8L454.8,435.6" fill="none" stroke="#3d8fe8" stroke-width="1.65" stroke-opacity="0.85" stroke-linejoin="round" stroke-linecap="round"/>
<path d="M461.1,435.4L461.3,436.7L462.6,438.2" fill="none" stroke="#3d8fe8" stroke-width="1.55" stroke-opacity="0.85" stroke-linejoin="round" stroke-linecap="round"/>
<path d="M454.3,442.1L452.6,443.3L452.0,445.1" fill="none" stroke="#3d8fe8" stroke-width="1.50" stroke-opacity="0.85" stroke-linejoin="round" stroke-linecap="round"/>
<path d="M454.7,447.9L454.0,449.0L454.9,449.8" fill="none" stroke="#1a66d6" stroke-width="0.76" stroke-opacity="0.95" stroke-linejoin="round" stroke-linecap="round"/>
<path d="M459.5,436.7L457.7,437.2L457.9,437.9" fill="none" stroke="#1a66d6" stroke-width="0.77" stroke-opacity="0.95" stroke-linejoin="round" stroke-linecap="round"/>
<path d="M462.1,434.0L460.1,434.2L458.5,435.3" fill="none" stroke="#1a66d6" stroke-width="1.34" stroke-opacity="0.95" stroke-linejoin="round" stroke-linecap="round"/>
<path d="M454.5,438.9L454.4,440.2L455.0,442.2" fill="none" stroke="#1a66d6" stroke-width="1.29" stroke-opacity="0.95" stroke-linejoin="round" stroke-linecap="round"/>
<path d="M453.1,441.1L451.7,443.1L451.2,444.3" fill="none" stroke="#1a66d6" stroke-width="0.86" stroke-opacity="0.95" stroke-linejoin="round" stroke-linecap="round"/>
<path d="M453.0,429.4L452.5,430.6L452.1,432.7L451.6,434.3L451.1,435.4L451.3,437.2L451.5,438.3L451.2,439.6L451.1,441.6" fill="none" stroke="#d4e9f7" stroke-width="2.38" stroke-opacity="0.5" stroke-linejoin="round" stroke-linecap="round"/>
<path d="M452.9,425.3L452.9,426.3L452.4,428.0L451.4,429.2L451.2,430.1L450.5,432.1L449.7,433.3" fill="none" stroke="#d4e9f7" stroke-width="2.78" stroke-opacity="0.5" stroke-linejoin="round" stroke-linecap="round"/>
<path d="M454.9,431.9L453.8,433.3L455.1,434.8" fill="none" stroke="#3d8fe8" stroke-width="1.19" stroke-opacity="0.85" stroke-linejoin="round" stroke-linecap="round"/>
<path d="M452.7,435.7L453.7,437.3L455.0,438.5" fill="none" stroke="#3d8fe8" stroke-width="1.43" stroke-opacity="0.85" stroke-linejoin="round" stroke-linecap="round"/>
<path d="M454.1,429.5L453.0,431.5L453.2,432.6" fill="none" stroke="#3d8fe8" stroke-width="1.44" stroke-opacity="0.85" stroke-linejoin="round" stroke-linecap="round"/>
<path d="M453.0,432.6L453.3,434.8L453.3,436.5L453.3,437.4" fill="none" stroke="#3d8fe8" stroke-width="0.95" stroke-opacity="0.85" stroke-linejoin="round" stroke-linecap="round"/>
<path d="M453.9,437.7L452.7,439.1L451.7,441.3L452.9,442.9" fill="none" stroke="#3d8fe8" stroke-width="1.49" stroke-opacity="0.85" stroke-linejoin="round" stroke-linecap="round"/>
<path d="M450.6,440.3L449.5,442.3L448.0,443.6" fill="none" stroke="#1a66d6" stroke-width="0.70" stroke-opacity="0.95" stroke-linejoin="round" stroke-linecap="round"/>
<path d="M456.4,423.9L457.0,425.2L455.4,426.6" fill="none" stroke="#1a66d6" stroke-width="0.98" stroke-opacity="0.95" stroke-linejoin="round" stroke-linecap="round"/>
<path d="M452.7,428.6L453.6,429.9L451.9,431.3" fill="none" stroke="#1a66d6" stroke-width="1.02" stroke-opacity="0.95" stroke-linejoin="round" stroke-linecap="round"/>
<path d="M462.9,445.3L462.9,446.9L462.1,448.2L462.0,449.3L461.4,450.7" fill="none" stroke="#d4e9f7" stroke-width="3.37" stroke-opacity="0.5" stroke-linejoin="round" stroke-linecap="round"/>
<path d="M460.6,447.5L459.9,448.8L459.9,450.3L460.0,451.4" fill="none" stroke="#d4e9f7" stroke-width="2.83" stroke-opacity="0.5" stroke-linejoin="round" stroke-linecap="round"/>
<path d="M465.5,439.7L465.7,440.2L466.1,440.5" fill="none" stroke="#3d8fe8" stroke-width="1.09" stroke-opacity="0.85" stroke-linejoin="round" stroke-linecap="round"/>
<path d="M463.6,439.9L462.7,440.9L461.2,442.6" fill="none" stroke="#3d8fe8" stroke-width="0.91" stroke-opacity="0.85" stroke-linejoin="round" stroke-linecap="round"/>
<path d="M464.9,443.9L464.4,445.0L463.8,445.6" fill="none" stroke="#3d8fe8" stroke-width="1.34" stroke-opacity="0.85" stroke-linejoin="round" stroke-linecap="round"/>
<path d="M458.8,446.4L458.8,447.9L459.3,448.6" fill="none" stroke="#3d8fe8" stroke-width="1.18" stroke-opacity="0.85" stroke-linejoin="round" stroke-linecap="round"/>
<path d="M462.2,439.6L463.2,440.8L463.9,442.4" fill="none" stroke="#1a66d6" stroke-width="0.84" stroke-opacity="0.95" stroke-linejoin="round" stroke-linecap="round"/>
<path d="M462.3,447.4L461.1,447.1L461.4,448.0" fill="none" stroke="#1a66d6" stroke-width="0.82" stroke-opacity="0.95" stroke-linejoin="round" stroke-linecap="round"/>
<path d="M461.1,445.5L459.9,446.7L459.5,446.4" fill="none" stroke="#1a66d6" stroke-width="1.17" stroke-opacity="0.95" stroke-linejoin="round" stroke-linecap="round"/>
<path d="M479.9,357.9L478.6,361.6" stroke="#5aaae8" stroke-width="1.62" stroke-linecap="round"/>
<path d="M478.4,359.4L477.8,361.4" stroke="#1560d0" stroke-width="1.82" stroke-linecap="round"/>
<path d="M476.7,353.6L477.9,356.2" stroke="#5aaae8" stroke-width="1.30" stroke-linecap="round"/>
<path d="M483.1,352.6L484.9,355.9" stroke="#2f86e6" stroke-width="1.23" stroke-linecap="round"/>
<path d="M485.4,348.4L485.3,350.1" stroke="#1560d0" stroke-width="1.88" stroke-linecap="round"/>
<path d="M473.8,358.4L472.8,359.9" stroke="#1560d0" stroke-width="1.33" stroke-linecap="round"/>
<path d="M484.5,354.7L484.1,356.6" stroke="#5aaae8" stroke-width="1.26" stroke-linecap="round"/>
<path d="M485.5,352.2L487.2,354.1" stroke="#1560d0" stroke-width="1.31" stroke-linecap="round"/>
<path d="M476.6,359.1L476.5,362.1" stroke="#5aaae8" stroke-width="1.37" stroke-linecap="round"/>
<path d="M476.4,359.1L476.6,361.3" stroke="#2f86e6" stroke-width="1.48" stroke-linecap="round"/>
<path d="M478.7,350.2L476.6,353.6" stroke="#2f86e6" stroke-width="1.78" stroke-linecap="round"/>
<path d="M473.8,358.6L474.6,361.5" stroke="#1560d0" stroke-width="1.46" stroke-linecap="round"/>
<path d="M481.5,356.0L480.6,357.5" stroke="#1560d0" stroke-width="1.84" stroke-linecap="round"/>
<path d="M485.5,351.6L486.3,354.3" stroke="#2f86e6" stroke-width="1.19" stroke-linecap="round"/>
<path d="M480.8,358.8L480.2,360.1" stroke="#1560d0" stroke-width="1.27" stroke-linecap="round"/>
<path d="M481.3,351.9L482.4,353.7" stroke="#5aaae8" stroke-width="1.54" stroke-linecap="round"/>
<path d="M479.6,351.2L480.4,352.6" stroke="#1560d0" stroke-width="1.68" stroke-linecap="round"/>
<path d="M478.5,353.8L478.2,355.4" stroke="#5aaae8" stroke-width="1.53" stroke-linecap="round"/>
<path d="M481.0,349.9L480.8,353.6" stroke="#2f86e6" stroke-width="1.62" stroke-linecap="round"/>
<path d="M473.8,361.6L473.4,365.2" stroke="#2f86e6" stroke-width="1.77" stroke-linecap="round"/>
<path d="M475.2,357.7L473.6,360.3" stroke="#2f86e6" stroke-width="1.19" stroke-linecap="round"/>
<path d="M481.9,348.6L481.0,350.6" stroke="#2f86e6" stroke-width="1.84" stroke-linecap="round"/>
<path d="M483.5,348.9L483.7,352.9" stroke="#5aaae8" stroke-width="1.68" stroke-linecap="round"/>
<path d="M481.4,350.8L481.8,352.5" stroke="#2f86e6" stroke-width="1.76" stroke-linecap="round"/>
<path d="M482.6,349.0L480.7,352.2" stroke="#1560d0" stroke-width="1.17" stroke-linecap="round"/>
<path d="M476.3,358.5L475.3,360.6" stroke="#2f86e6" stroke-width="1.66" stroke-linecap="round"/>
<path d="M480.2,358.2L481.1,361.4" stroke="#2f86e6" stroke-width="1.77" stroke-linecap="round"/>
<path d="M475.0,361.7L474.0,365.5" stroke="#2f86e6" stroke-width="1.62" stroke-linecap="round"/>
<path d="M484.1,346.4L484.2,348.4" stroke="#5aaae8" stroke-width="1.32" stroke-linecap="round"/>
<path d="M478.2,354.1L477.8,356.4" stroke="#2f86e6" stroke-width="1.62" stroke-linecap="round"/>
<path d="M480.5,359.2L481.5,362.8" stroke="#5aaae8" stroke-width="1.46" stroke-linecap="round"/>
<path d="M480.0,351.5L482.2,354.9" stroke="#1560d0" stroke-width="1.77" stroke-linecap="round"/>
<path d="M484.6,353.7L484.0,357.0" stroke="#5aaae8" stroke-width="1.43" stroke-linecap="round"/>
<path d="M478.6,360.9L478.8,364.9" stroke="#2f86e6" stroke-width="1.60" stroke-linecap="round"/>
<path d="M387.8,362.6C389.3,358.8 390.5,355.3 391.8,351.9C393.1,348.5 394.3,345.0 395.7,342.1C397.1,339.2 398.5,336.8 400.3,334.3C402.2,331.8 404.5,329.3 406.9,327.1C409.3,324.9 412.2,322.9 414.8,321.2C417.4,319.6 420.0,318.3 422.6,317.3C425.3,316.3 427.8,315.7 430.5,315.1C433.2,314.5 436.3,314.1 439.1,313.8C441.8,313.5 444.3,313.3 446.9,313.4C449.5,313.6 452.2,314.1 454.8,314.7C457.5,315.4 460.3,316.2 462.7,317.3C465.1,318.4 467.3,319.8 469.2,321.2C471.2,322.6 473.1,324.2 474.5,325.8C475.9,327.4 476.9,329.4 477.8,331.0C478.7,332.6 479.0,334.2 479.7,335.6C480.5,337.0 481.3,338.4 482.4,339.5C483.5,340.6 484.8,341.6 486.3,342.1C487.9,342.6 489.8,342.7 491.6,342.5C493.3,342.3 495.5,341.2 496.8,340.9C498.2,340.7 498.9,340.8 499.7,341.1C500.6,341.4 501.4,341.6 501.9,342.6C502.5,343.7 502.9,345.8 503.0,347.6C503.2,349.4 502.6,351.9 502.9,353.6C503.2,355.3 504.1,356.2 504.9,357.6C505.7,358.9 507.7,360.3 507.7,361.6C507.7,362.9 505.8,363.6 504.9,365.6C503.9,367.6 503.1,370.6 501.9,373.6C500.7,376.6 499.2,380.5 497.9,383.5C496.5,386.5 495.1,389.4 493.9,391.5C492.6,393.7 490.4,394.7 490.2,396.5C490.0,398.3 491.2,401.0 492.8,402.5C494.4,404.0 498.2,404.3 499.8,405.5C501.5,406.6 502.7,407.8 502.9,409.5C503.1,411.1 501.9,413.1 500.9,415.5C499.9,417.8 498.2,420.9 496.9,423.5C495.6,426.1 494.1,428.6 492.9,431.1C491.7,433.6 490.0,436.5 489.6,438.6C489.1,440.7 490.5,442.3 490.3,443.8C490.1,445.3 489.1,446.7 488.3,447.7C487.4,448.7 486.0,449.7 485.0,449.6C484.1,449.5 483.5,447.6 482.4,447.0C481.3,446.5 479.7,446.0 478.4,446.4C477.1,446.9 475.5,448.3 474.5,449.6C473.5,450.9 472.7,452.7 472.6,454.2C472.4,455.7 473.9,457.3 473.4,458.8C473.0,460.3 471.5,461.8 469.9,463.3C468.4,464.8 466.3,466.7 464.0,467.9C461.7,469.1 459.0,469.9 456.1,470.5C453.3,471.1 449.8,471.5 446.9,471.5C444.1,471.5 441.1,470.8 439.1,470.5C437.0,470.2 436.5,470.5 434.4,469.9C432.4,469.2 429.4,467.9 426.6,466.6C423.7,465.3 420.7,463.7 417.4,462.0C414.1,460.4 410.4,458.8 406.9,456.8C403.4,454.9 399.7,452.9 396.4,450.3C393.1,447.7 389.8,444.3 387.2,441.2C384.6,438.2 382.4,434.9 380.6,432.0C378.8,429.2 377.5,427.7 376.7,424.2C375.8,420.6 375.5,415.1 375.4,410.9C375.3,406.7 375.5,403.0 376.1,399.1C376.6,395.2 377.5,391.5 378.7,387.4C379.9,383.3 381.7,378.5 383.2,374.3C384.7,370.2 386.4,366.3 387.8,362.6Z" fill="none" stroke="#00ff00" stroke-width="1.25" stroke-linecap="butt" stroke-linejoin="round"/>
<path d="M503.8,339.6C504.4,340.3 506.3,342.3 506.9,343.6C507.5,344.9 507.4,346.9 507.5,347.6" fill="none" stroke="#00ff00" stroke-width="1.25" stroke-linecap="butt" stroke-linejoin="round"/>
<path d="M508.9,385.6C508.8,386.6 508.1,390.5 507.9,391.5" fill="none" stroke="#00ff00" stroke-width="1.25" stroke-linecap="butt" stroke-linejoin="round"/>
<path d="M505.5,400.5C505.3,401.0 504.8,402.5 504.4,403.7C504.0,404.9 503.1,406.8 502.9,407.5" fill="none" stroke="#00ff00" stroke-width="1.25" stroke-linecap="butt" stroke-linejoin="round"/>
<path d="M504.7,379.3C504.7,379.4 505.0,379.8 505.1,379.9" fill="none" stroke="#00ff00" stroke-width="1.25" stroke-linecap="butt" stroke-linejoin="round"/>
<path d="M503.3,391.2C503.4,391.3 503.6,391.8 503.7,391.9" fill="none" stroke="#00ff00" stroke-width="1.25" stroke-linecap="butt" stroke-linejoin="round"/>
<path d="M375.6,424.4C375.4,422.2 374.4,415.2 374.3,410.9C374.2,406.7 374.4,402.9 375.0,399.0C375.5,395.0 376.4,391.3 377.6,387.1C378.8,382.9 380.7,378.1 382.2,374.0C383.7,369.8 385.4,365.9 386.8,362.2C388.2,358.4 389.4,354.9 390.7,351.5C392.1,348.1 393.3,344.6 394.7,341.6C396.2,338.6 397.5,336.2 399.4,333.6C401.3,331.1 403.7,328.5 406.1,326.3C408.6,324.1 411.5,322.0 414.2,320.3C416.9,318.6 419.6,317.3 422.2,316.3C424.9,315.3 427.5,314.7 430.3,314.1C433.1,313.5 436.2,313.0 438.9,312.7C441.7,312.5 444.3,312.2 447.0,312.3C449.7,312.5 452.4,313.0 455.1,313.7C457.8,314.3 460.7,315.2 463.2,316.3C465.6,317.4 467.6,319.3 469.9,320.3C472.2,321.3 474.6,321.3 477.0,322.2C479.4,323.2 481.9,324.7 484.3,325.8C486.8,326.9 489.3,327.8 491.6,329.1C493.9,330.4 496.1,332.0 498.1,333.6C500.2,335.2 502.0,337.0 503.8,338.7C505.7,340.4 508.2,343.0 509.0,343.8" fill="none" stroke="#00ff00" stroke-width="1.35" stroke-linecap="butt" stroke-linejoin="round" stroke-dasharray="9 8.3" stroke-dashoffset="5"/>
<path d="M446.9,472.6C445.6,472.4 441.0,471.9 438.9,471.6C436.8,471.3 436.2,471.6 434.1,470.9C432.0,470.3 429.0,468.9 426.1,467.6C423.2,466.3 420.2,464.6 416.9,463.0C413.6,461.4 409.9,459.7 406.3,457.8C402.8,455.8 399.0,453.8 395.7,451.2C392.4,448.5 389.1,445.0 386.4,441.9C383.7,438.8 381.5,435.5 379.7,432.6C377.9,429.7 376.3,425.8 375.6,424.4" fill="none" stroke="#00ff00" stroke-width="1.35" stroke-linecap="butt" stroke-linejoin="round" stroke-dasharray="9 8.3" stroke-dashoffset="2"/>
<path d="M472.6,454.2C472.7,455.0 473.9,457.3 473.4,458.8C473.0,460.3 471.5,461.8 469.9,463.3C468.4,464.8 466.3,466.7 464.0,467.9C461.7,469.1 459.0,469.9 456.1,470.5C453.3,471.1 449.8,471.5 446.9,471.5C444.1,471.5 441.1,470.8 439.1,470.5C437.0,470.2 436.5,470.5 434.4,469.9C432.4,469.2 429.4,467.9 426.6,466.6C423.7,465.3 420.7,463.7 417.4,462.0C414.1,460.4 410.4,458.8 406.9,456.8C403.4,454.9 399.7,452.9 396.4,450.3C393.1,447.7 388.7,442.7 387.2,441.2" fill="none" stroke="#00ff00" stroke-width="2.0" stroke-linecap="butt" stroke-linejoin="round"/>
<path d="M410.2,362.6C411.7,358.8 412.3,356.1 413.5,353.2C414.7,350.3 415.9,347.8 417.4,345.4C418.9,343.0 420.7,340.7 422.6,338.8C424.6,337.0 426.5,335.5 429.2,334.3C431.9,333.1 436.1,332.0 439.1,331.7C442.0,331.4 444.3,331.8 446.9,332.3C449.5,332.8 452.2,333.6 454.8,334.6C457.5,335.7 460.1,337.2 462.7,338.8C465.3,340.4 467.9,342.3 470.6,344.1C473.2,345.8 476.2,347.8 478.4,349.3C480.6,350.8 482.0,351.7 483.7,353.2C485.5,354.7 487.6,356.6 489.0,358.4C490.3,360.2 491.5,362.0 491.8,364.0C492.1,366.0 491.5,367.8 490.9,370.4C490.3,373.0 489.1,376.6 488.3,379.6C487.4,382.7 486.5,385.7 485.7,388.7C484.8,391.7 483.9,395.0 483.0,397.8C482.2,400.6 481.4,403.1 480.4,405.7C479.4,408.3 478.2,410.4 477.1,413.5C476.0,416.6 475.0,420.2 473.9,424.2C472.8,428.1 471.6,433.8 470.6,437.2C469.5,440.7 468.8,443.0 467.3,445.1C465.8,447.2 463.8,448.9 461.4,449.9C459.0,450.9 455.4,451.2 452.8,451.3C450.3,451.3 448.2,450.5 445.9,450.1C443.6,449.7 442.1,449.6 439.1,448.9C436.0,448.2 431.1,446.9 427.9,445.7C424.7,444.6 422.9,443.3 420.0,441.8C417.2,440.3 413.6,438.5 410.8,436.6C407.9,434.8 405.0,432.8 402.9,430.7C400.9,428.7 399.7,426.7 398.4,424.2C397.1,421.8 395.7,418.8 395.1,416.1C394.4,413.4 394.3,410.9 394.4,408.3C394.5,405.7 394.8,403.7 395.7,400.4C396.6,397.2 398.3,392.8 399.7,388.7C401.1,384.6 402.5,380.0 404.2,375.6C406.0,371.3 408.6,366.3 410.2,362.6Z" fill="none" stroke="#ccff00" stroke-width="1.35" stroke-linecap="butt" stroke-linejoin="round"/>
<path d="M407.8,361.6C409.3,357.9 409.9,355.1 411.1,352.2C412.4,349.3 413.7,346.6 415.3,344.1C416.9,341.5 418.8,339.1 421.0,337.1C423.2,335.1 425.3,333.5 428.3,332.2C431.3,331.0 435.6,329.9 438.8,329.5C442.0,329.2 444.5,329.6 447.3,330.1C450.1,330.6 453.0,331.4 455.7,332.5C458.5,333.6 461.3,335.1 464.0,336.7C466.7,338.3 469.3,340.2 472.0,342.0C474.6,343.7 477.6,345.7 479.9,347.2C482.1,348.7 483.6,349.6 485.5,351.2C487.4,352.8 489.7,354.6 491.3,356.7C492.9,358.7 494.6,361.1 495.0,363.5C495.5,365.9 494.7,368.3 494.1,371.1C493.5,374.0 492.3,377.4 491.4,380.5C490.5,383.6 489.7,386.6 488.8,389.6C487.9,392.6 487.0,395.9 486.1,398.8C485.3,401.6 484.4,404.2 483.4,406.8C482.4,409.5 481.2,411.5 480.2,414.6C479.1,417.6 478.1,421.1 477.0,425.0C475.9,429.0 474.9,434.6 473.7,438.2C472.5,441.9 471.7,444.5 469.8,446.9C468.0,449.3 465.3,451.3 462.5,452.5C459.7,453.7 455.7,454.0 452.9,454.0C450.0,454.1 447.9,453.2 445.5,452.8C443.1,452.4 441.5,452.3 438.4,451.5C435.3,450.8 430.2,449.5 426.9,448.3C423.7,447.1 421.7,445.8 418.7,444.2C415.8,442.7 412.3,440.8 409.3,438.9C406.4,437.0 403.2,434.9 401.0,432.6C398.8,430.4 397.5,428.1 396.0,425.5C394.6,422.8 393.2,419.6 392.5,416.7C391.8,413.8 391.7,411.0 391.8,408.2C391.9,405.4 392.3,403.1 393.2,399.7C394.1,396.4 395.8,392.1 397.3,387.9C398.7,383.7 400.1,379.1 401.9,374.7C403.6,370.3 406.3,365.4 407.8,361.6Z" fill="none" stroke="#ccff00" stroke-width="1.35" stroke-linecap="butt" stroke-linejoin="round" stroke-dasharray="9 8.3" stroke-dashoffset="8"/>
<path d="M424.9,362.6C425.9,359.6 425.7,359.2 426.5,357.5C427.3,355.8 428.3,354.1 429.6,352.7C431.0,351.3 432.7,349.9 434.6,348.9C436.6,348.0 439.2,347.3 441.4,347.1C443.6,346.9 445.5,346.9 447.6,347.5C449.7,348.1 451.8,349.4 454.0,350.7C456.3,351.9 458.9,353.8 461.1,355.1C463.3,356.4 465.4,357.4 467.3,358.5C469.3,359.6 471.4,360.5 472.8,361.6C474.3,362.7 475.2,363.9 475.9,365.4C476.7,366.8 477.0,368.5 477.2,370.2C477.3,371.9 477.2,373.4 477.0,375.6C476.7,377.9 476.2,380.9 475.6,383.9C475.0,386.8 474.3,390.4 473.4,393.3C472.6,396.2 471.4,398.5 470.4,401.0C469.5,403.4 468.7,405.3 467.8,407.8C466.9,410.3 465.9,413.3 464.9,416.0C463.9,418.7 463.1,421.9 462.0,424.0C460.9,426.1 459.8,427.4 458.4,428.7C456.9,430.0 455.3,430.9 453.5,431.6C451.7,432.3 450.0,432.8 447.6,432.9C445.2,432.9 441.7,432.1 439.1,431.8C436.4,431.4 434.6,431.3 431.8,430.7C429.1,430.1 425.4,429.2 422.6,428.1C419.9,427.1 417.5,426.2 415.4,424.2C413.3,422.2 411.3,418.8 410.2,416.1C409.1,413.4 408.6,410.9 408.9,408.3C409.1,405.7 410.4,403.7 411.7,400.4C412.9,397.2 414.8,392.8 416.3,388.7C417.8,384.6 419.4,380.0 420.9,375.6C422.3,371.3 424.0,365.7 424.9,362.6Z" fill="none" stroke="#ffa000" stroke-width="1.35" stroke-linecap="butt" stroke-linejoin="round"/>
<path d="M421.3,361.5C422.3,358.4 422.2,357.8 423.2,355.9C424.1,354.1 425.4,352.0 427.1,350.4C428.8,348.7 431.0,347.2 433.3,346.1C435.6,345.1 438.5,344.4 441.1,344.2C443.6,343.9 446.0,344.0 448.4,344.6C450.9,345.2 453.2,346.6 455.6,347.9C458.0,349.2 460.6,351.0 462.8,352.3C465.0,353.7 466.9,354.6 468.9,355.7C470.9,356.9 473.2,357.7 474.9,359.0C476.7,360.3 478.3,361.9 479.3,363.7C480.3,365.5 480.9,367.7 481.1,369.8C481.4,371.8 481.2,373.6 480.9,376.1C480.6,378.6 480.1,381.6 479.5,384.6C478.9,387.7 478.1,391.5 477.2,394.4C476.3,397.4 475.0,399.9 474.0,402.4C473.1,404.8 472.4,406.6 471.5,409.1C470.6,411.6 469.6,414.6 468.6,417.3C467.6,420.1 466.7,423.4 465.4,425.7C464.1,428.0 462.5,429.8 460.7,431.3C459.0,432.8 456.9,433.9 454.7,434.7C452.5,435.5 450.3,436.0 447.6,436.0C444.9,436.1 441.4,435.3 438.6,434.9C435.9,434.5 434.0,434.5 431.1,433.8C428.3,433.2 424.5,432.3 421.4,431.2C418.4,430.0 415.4,429.0 413.0,426.7C410.5,424.5 408.0,420.6 406.7,417.5C405.4,414.4 404.8,411.0 405.0,407.9C405.3,404.9 406.9,402.5 408.2,399.1C409.5,395.7 411.3,391.5 412.8,387.4C414.3,383.3 415.8,378.8 417.3,374.5C418.7,370.2 420.3,364.6 421.3,361.5Z" fill="none" stroke="#ffa000" stroke-width="1.35" stroke-linecap="butt" stroke-linejoin="round" stroke-dasharray="9 8.3" stroke-dashoffset="3"/>
<path d="M441.1,415.3C440.7,415.5 436.6,414.5 434.2,414.1C431.8,413.7 428.5,413.4 426.6,412.8C424.8,412.2 423.9,411.4 423.2,410.5C422.5,409.7 422.3,408.6 422.5,407.5C422.8,406.3 423.6,406.0 424.7,403.7C425.8,401.4 427.6,397.2 428.9,393.8C430.3,390.4 431.8,386.7 432.8,383.2C433.9,379.7 434.6,375.8 435.5,372.8C436.3,369.8 437.2,367.0 438.0,365.2C438.8,363.4 439.2,362.6 440.1,361.9C440.9,361.1 442.0,360.6 443.1,360.6C444.1,360.6 445.4,361.1 446.4,361.9C447.5,362.6 448.7,363.9 449.4,365.2C450.1,366.6 450.2,367.3 450.4,369.8C450.6,372.4 450.6,377.1 450.6,380.4C450.7,383.8 451.2,387.6 450.8,390.0C450.4,392.5 449.3,393.7 448.4,395.1C447.4,396.6 446.8,397.3 445.3,398.6C443.7,399.9 440.8,401.7 439.1,403.0C437.3,404.3 435.5,405.2 434.6,406.3C433.6,407.4 432.9,408.7 433.3,409.9C433.6,411.0 435.3,412.2 436.6,413.2C438.0,414.1 441.5,415.2 441.1,415.3Z" fill="none" stroke="#ff5500" stroke-width="1.35" stroke-linecap="butt" stroke-linejoin="round"/>
<path d="M443.9,417.7C442.2,418.8 440.4,418.9 437.9,418.8C435.3,418.6 431.0,417.6 428.6,417.1C426.2,416.5 424.9,416.2 423.5,415.3C422.2,414.5 420.9,413.2 420.3,411.9C419.7,410.6 419.4,409.0 419.8,407.5C420.1,405.9 421.1,405.2 422.2,402.7C423.3,400.1 425.1,395.7 426.3,392.1C427.5,388.5 428.6,384.3 429.6,381.1C430.6,377.9 431.3,375.5 432.2,372.8C433.1,370.0 434.2,366.5 435.1,364.4C435.9,362.3 436.5,361.3 437.3,360.2C438.2,359.2 439.0,358.6 440.1,358.1C441.2,357.7 442.5,357.4 443.9,357.6C445.2,357.8 446.3,358.3 448.1,359.4C449.9,360.5 453.0,362.5 454.8,364.0C456.7,365.5 458.4,367.1 459.4,368.5C460.4,369.8 460.6,370.6 460.7,372.2C460.8,373.9 460.4,375.8 459.7,378.4C459.1,381.0 457.7,385.2 456.8,388.0C456.0,390.8 455.7,392.7 454.8,395.2C453.9,397.7 452.6,400.2 451.5,403.0C450.4,405.8 449.5,409.7 448.2,412.2C447.0,414.6 445.6,416.6 443.9,417.7Z" fill="none" stroke="#ff5500" stroke-width="1.35" stroke-linecap="butt" stroke-linejoin="round" stroke-dasharray="9 8.3" stroke-dashoffset="0"/>
<circle cx="433.8" cy="406.2" r="2.0" fill="#f5821f"/>
<circle cx="439.7" cy="406.1" r="2.0" fill="#f5821f"/>
<circle cx="447.6" cy="414.4" r="2.0" fill="#f5821f"/>
<circle cx="439.3" cy="398.5" r="2.0" fill="#c9147f"/>
<circle cx="433.8" cy="409.2" r="2.0" fill="#c9147f"/>
<circle cx="434.2" cy="409.5" r="2.0" fill="#c9147f"/>
<circle cx="437.5" cy="413.4" r="2.0" fill="#c9147f"/>
<circle cx="435.6" cy="411.6" r="2.0" fill="#c9147f"/>
<circle cx="425.7" cy="421.8" r="2.0" fill="#c9147f"/>
<circle cx="432.8" cy="424.4" r="2.0" fill="#c9147f"/>
<circle cx="431.8" cy="422.2" r="2.0" fill="#c9147f"/>
<circle cx="454.1" cy="384.9" r="6" fill="url(#shd2)"/>
<polygon points="449.94,377.74 450.98,380.51 453.94,380.64 451.62,382.48 452.41,385.34 449.94,383.70 447.48,385.34 448.27,382.48 445.95,380.64 448.91,380.51" fill="#ee1c1c"/>
</g>
</svg>
</body></html>
